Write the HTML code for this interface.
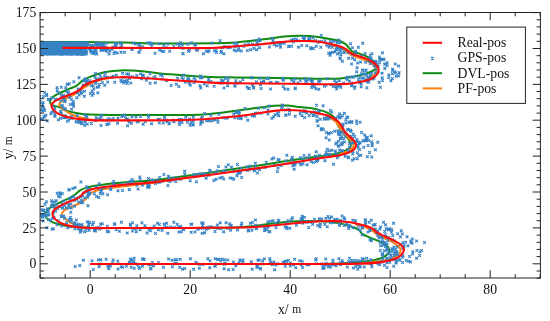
<!DOCTYPE html>
<html><head><meta charset="utf-8"><title>Trajectory</title>
<style>
html,body{margin:0;padding:0;background:#fff}
svg{display:block}
text{font-family:"Liberation Serif",serif;font-size:13.7px;fill:#111}
</style></head><body>
<svg width="550" height="321" viewBox="0 0 550 321">
<rect width="550" height="321" fill="#fff"/>
<clipPath id="c"><rect x="40.1" y="12.5" width="500.29999999999995" height="265.5"/></clipPath>
<g clip-path="url(#c)" fill="none" stroke-linejoin="round" stroke-linecap="butt">
<path d="M41.0 42.0C48.8 42.0 74.0 41.9 88.0 42.0C102.0 42.1 113.0 42.4 125.0 42.6C137.0 42.8 145.7 43.3 160.0 43.4C174.3 43.5 198.3 43.4 211.0 43.2C223.7 43.0 227.5 43.0 236.0 42.4C244.5 41.8 253.3 40.6 261.8 39.6C270.3 38.6 280.6 36.9 287.0 36.3C293.4 35.7 296.2 35.8 300.0 35.8C303.8 35.8 306.7 35.8 310.0 36.0C313.3 36.2 316.7 36.7 320.0 37.2C323.3 37.7 327.0 38.6 330.0 39.1C333.0 39.6 335.5 39.7 338.0 40.5C340.5 41.3 343.3 42.5 345.2 43.8C347.1 45.1 348.0 47.0 349.2 48.2C350.4 49.5 350.8 50.4 352.3 51.3C353.8 52.1 356.0 52.5 358.3 53.3C360.6 54.1 364.0 55.1 366.4 56.3C368.8 57.5 371.0 59.0 372.5 60.4C374.0 61.8 375.0 63.4 375.5 64.8C376.0 66.1 376.2 67.4 375.5 68.5C374.8 69.6 373.4 70.6 371.5 71.5C369.6 72.4 367.3 73.2 364.4 74.1C361.5 74.9 358.0 75.9 354.3 76.6C350.6 77.3 346.1 77.8 342.0 78.2C337.9 78.6 335.3 78.7 330.0 78.8C324.7 78.9 316.7 78.7 310.0 78.6C303.3 78.5 302.3 78.4 290.0 78.2C277.7 78.0 249.2 77.6 236.0 77.4C222.8 77.2 219.5 77.3 211.0 77.0C202.5 76.7 191.8 76.0 185.0 75.5C178.2 75.0 174.2 74.6 170.0 74.3C165.8 74.0 164.2 73.9 160.0 73.4C155.8 72.9 149.5 71.9 144.5 71.4C139.5 70.9 134.1 70.7 130.0 70.5C125.9 70.3 123.5 70.3 120.0 70.5C116.5 70.7 112.3 71.0 108.8 71.5C105.2 72.0 101.7 72.9 98.7 73.7C95.7 74.5 93.3 75.4 90.6 76.6C87.9 77.8 84.9 79.0 82.5 80.6C80.1 82.1 78.4 84.6 76.4 85.9C74.4 87.2 72.8 87.3 70.4 88.3C68.1 89.3 64.8 90.8 62.3 92.0C59.8 93.2 57.1 94.3 55.2 95.4C53.3 96.5 52.0 97.6 51.1 98.8C50.2 100.0 49.8 101.4 50.1 102.5C50.4 103.6 51.3 104.5 53.0 105.3C54.7 106.1 58.0 106.6 60.2 107.5C62.4 108.4 63.6 109.7 66.3 110.6C69.0 111.5 72.4 112.3 76.4 113.0C80.5 113.7 83.3 114.3 90.6 114.6C97.9 114.9 106.8 115.0 120.0 115.0C133.2 115.0 157.0 115.0 170.0 114.9C183.0 114.9 189.1 115.1 198.0 114.7C206.9 114.3 215.1 113.4 223.6 112.4C232.1 111.5 240.5 110.1 249.0 109.0C257.5 107.9 268.2 106.4 274.5 105.8C280.8 105.2 282.8 105.3 287.0 105.5C291.2 105.7 296.2 106.7 300.0 107.1C303.8 107.5 306.7 107.6 310.0 108.1C313.3 108.6 316.9 109.2 320.0 110.1C323.1 110.9 326.1 112.1 328.3 113.2C330.5 114.3 332.0 115.2 333.4 116.6C334.8 117.9 335.5 119.7 336.4 121.3C337.2 122.9 337.3 124.3 338.5 126.3C339.7 128.3 341.8 131.2 343.5 133.4C345.2 135.6 347.4 137.8 348.6 139.5C349.8 141.2 350.3 142.2 350.6 143.5C350.9 144.8 351.1 145.8 350.2 147.0C349.3 148.2 347.8 149.5 345.5 150.6C343.2 151.7 340.6 152.6 336.4 153.6C332.1 154.6 326.1 155.4 320.0 156.3C313.9 157.2 306.7 158.2 300.0 159.1C293.3 160.0 286.4 161.0 280.0 162.0C273.6 163.0 273.3 163.3 261.8 165.0C250.3 166.7 228.0 170.0 211.0 172.4C194.0 174.8 171.1 178.0 160.0 179.4C148.9 180.8 151.2 180.4 144.5 180.9C137.8 181.4 126.3 182.2 120.0 182.7C113.7 183.2 110.7 183.6 106.8 184.1C102.9 184.6 100.1 184.9 96.7 185.5C93.3 186.1 89.3 186.8 86.6 187.6C83.9 188.4 82.4 189.1 80.5 190.2C78.6 191.3 77.1 192.9 75.4 194.2C73.7 195.4 72.6 196.5 70.4 197.7C68.2 198.9 65.0 200.0 62.3 201.3C59.6 202.6 56.6 204.1 54.2 205.4C51.8 206.8 49.6 208.1 48.1 209.4C46.6 210.8 45.4 212.2 45.1 213.5C44.8 214.8 45.1 216.2 46.1 217.5C47.1 218.8 49.1 220.5 51.1 221.6C53.1 222.7 56.0 223.4 58.2 224.0C60.4 224.6 61.3 224.9 64.3 225.4C67.3 225.9 72.0 226.6 76.4 227.0C80.8 227.4 81.7 227.8 90.6 228.0C99.5 228.2 116.8 228.0 130.0 228.0C143.2 228.0 156.7 228.0 170.0 228.0C183.3 228.0 199.0 227.9 210.0 227.8C221.0 227.7 229.5 227.6 236.0 227.4C242.5 227.2 242.6 227.3 249.0 226.6C255.4 225.9 267.7 224.1 274.5 223.3C281.3 222.5 285.3 222.0 290.0 221.6C294.7 221.2 297.6 220.9 302.7 220.9C307.8 220.9 315.1 221.0 320.5 221.3C325.9 221.6 330.9 221.9 335.0 222.5C339.1 223.1 342.0 223.8 345.0 224.6C348.0 225.4 350.8 226.3 353.2 227.2C355.6 228.1 357.8 229.1 359.3 230.2C360.8 231.3 360.6 232.7 362.3 233.9C364.0 235.1 366.5 236.1 369.4 237.3C372.3 238.6 376.6 240.1 379.5 241.4C382.4 242.8 385.0 244.1 386.6 245.4C388.2 246.8 389.0 248.2 389.2 249.5C389.4 250.8 389.1 252.2 388.0 253.5C386.9 254.8 385.0 256.5 382.6 257.6C380.2 258.7 377.1 259.5 373.5 260.2C369.9 260.9 365.7 261.3 361.3 261.8C356.9 262.3 351.4 262.7 347.0 263.0C342.6 263.3 344.5 263.6 335.0 263.8C325.5 264.0 312.5 264.0 290.0 264.0C267.5 264.0 233.3 264.0 200.0 264.0C166.7 264.0 108.3 264.0 90.0 264.0" stroke="#118a11" stroke-width="2"/>
<path d="M330.0 45.0C331.3 45.4 335.5 46.4 338.0 47.3C340.5 48.2 343.2 49.3 345.0 50.3C346.8 51.3 347.5 52.5 349.0 53.5C350.5 54.5 351.8 55.4 354.0 56.3C356.2 57.2 359.4 57.9 362.0 58.9C364.6 59.9 367.4 61.1 369.5 62.3C371.6 63.5 373.4 64.8 374.5 66.0C375.6 67.2 376.2 68.3 376.4 69.5C376.6 70.7 376.2 71.9 375.5 73.0C374.8 74.1 373.6 75.2 372.0 76.3C370.4 77.3 367.0 78.8 366.0 79.3M108.8 78.2C107.1 78.6 101.7 79.6 98.7 80.6C95.7 81.5 93.1 82.7 90.6 83.9C88.1 85.1 86.2 86.2 83.5 87.9C80.8 89.7 77.3 92.7 74.4 94.4C71.5 96.2 68.5 97.2 66.3 98.4C64.1 99.6 62.5 100.5 61.3 101.5C60.1 102.5 59.2 103.5 59.2 104.5C59.2 105.5 59.8 106.2 61.3 107.6C62.8 108.9 65.8 111.1 68.3 112.6C70.8 114.0 73.4 115.2 76.4 116.3C79.5 117.3 83.5 118.2 86.6 118.9C89.7 119.6 93.6 120.0 95.0 120.2M326.0 116.3C327.1 116.8 330.8 118.2 332.5 119.3C334.2 120.3 335.3 121.3 336.5 122.6C337.7 123.9 338.3 125.3 339.5 127.0C340.7 128.7 342.0 131.1 343.5 133.0C345.0 134.9 347.1 136.7 348.6 138.2C350.1 139.7 351.8 141.0 352.6 142.2C353.4 143.4 353.7 144.3 353.6 145.3C353.5 146.3 353.1 147.3 352.0 148.3C350.9 149.3 348.9 150.4 347.0 151.3C345.1 152.2 341.6 153.4 340.5 153.8M160.0 182.2C153.3 182.9 129.9 185.5 120.0 186.7C110.1 187.9 105.3 188.7 100.7 189.6C96.1 190.5 94.6 191.3 92.6 192.2C90.6 193.1 89.8 194.0 88.6 195.2C87.4 196.4 87.0 198.0 85.5 199.3C84.0 200.7 82.0 202.0 79.5 203.3C77.0 204.6 72.9 205.8 70.4 207.0C67.9 208.2 65.7 209.2 64.3 210.4C62.9 211.6 61.9 212.7 61.9 213.9C61.9 215.2 62.9 216.5 64.3 217.9C65.7 219.3 68.0 221.3 70.4 222.6C72.8 223.9 75.5 224.8 78.5 225.6C81.5 226.4 85.0 227.0 88.6 227.4C92.2 227.8 98.1 227.9 100.0 228.0M355.0 224.2C356.7 224.7 362.2 225.9 365.0 227.0C367.8 228.1 370.0 229.2 372.0 230.5C374.0 231.8 375.0 233.2 377.0 234.5C379.0 235.8 381.5 236.8 384.0 238.0C386.5 239.2 389.7 240.5 392.0 241.8C394.3 243.1 396.6 244.5 398.0 245.8C399.4 247.1 400.4 248.3 400.6 249.5C400.9 250.7 400.4 251.8 399.5 253.0C398.6 254.2 396.9 255.7 395.0 256.8C393.1 257.9 390.9 258.8 388.0 259.6C385.1 260.4 381.9 261.0 377.5 261.6C373.1 262.2 364.0 262.8 361.3 263.0" stroke="#ff7f0e" stroke-width="2"/>
<path d="M53.4 42.5l2.7 2.7m0 -2.7l-2.7 2.7M69.1 41.6l2.7 2.7m0 -2.7l-2.7 2.7M65.5 45.0l2.7 2.7m0 -2.7l-2.7 2.7M46.2 46.6l2.7 2.7m0 -2.7l-2.7 2.7M47.2 45.8l2.7 2.7m0 -2.7l-2.7 2.7M48.6 41.8l2.7 2.7m0 -2.7l-2.7 2.7M66.3 50.3l2.7 2.7m0 -2.7l-2.7 2.7M53.1 43.4l2.7 2.7m0 -2.7l-2.7 2.7M77.4 51.7l2.7 2.7m0 -2.7l-2.7 2.7M75.2 45.4l2.7 2.7m0 -2.7l-2.7 2.7M95.1 41.3l2.7 2.7m0 -2.7l-2.7 2.7M89.9 44.1l2.7 2.7m0 -2.7l-2.7 2.7M61.0 42.2l2.7 2.7m0 -2.7l-2.7 2.7M68.2 50.2l2.7 2.7m0 -2.7l-2.7 2.7M65.1 47.5l2.7 2.7m0 -2.7l-2.7 2.7M85.3 45.1l2.7 2.7m0 -2.7l-2.7 2.7M83.9 41.5l2.7 2.7m0 -2.7l-2.7 2.7M62.4 43.2l2.7 2.7m0 -2.7l-2.7 2.7M92.4 45.7l2.7 2.7m0 -2.7l-2.7 2.7M76.3 47.5l2.7 2.7m0 -2.7l-2.7 2.7M85.1 44.2l2.7 2.7m0 -2.7l-2.7 2.7M100.1 48.8l2.7 2.7m0 -2.7l-2.7 2.7M75.9 47.4l2.7 2.7m0 -2.7l-2.7 2.7M91.1 50.9l2.7 2.7m0 -2.7l-2.7 2.7M100.0 44.1l2.7 2.7m0 -2.7l-2.7 2.7M113.8 42.2l2.7 2.7m0 -2.7l-2.7 2.7M89.1 49.5l2.7 2.7m0 -2.7l-2.7 2.7M80.2 46.4l2.7 2.7m0 -2.7l-2.7 2.7M75.2 48.5l2.7 2.7m0 -2.7l-2.7 2.7M107.1 47.4l2.7 2.7m0 -2.7l-2.7 2.7M114.8 44.4l2.7 2.7m0 -2.7l-2.7 2.7M106.8 47.6l2.7 2.7m0 -2.7l-2.7 2.7M104.5 46.0l2.7 2.7m0 -2.7l-2.7 2.7M115.9 51.7l2.7 2.7m0 -2.7l-2.7 2.7M102.4 48.4l2.7 2.7m0 -2.7l-2.7 2.7M84.3 48.9l2.7 2.7m0 -2.7l-2.7 2.7M112.6 52.2l2.7 2.7m0 -2.7l-2.7 2.7M120.3 44.1l2.7 2.7m0 -2.7l-2.7 2.7M103.6 48.5l2.7 2.7m0 -2.7l-2.7 2.7M90.1 46.1l2.7 2.7m0 -2.7l-2.7 2.7M98.9 42.2l2.7 2.7m0 -2.7l-2.7 2.7M94.1 49.6l2.7 2.7m0 -2.7l-2.7 2.7M99.7 43.7l2.7 2.7m0 -2.7l-2.7 2.7M113.7 50.8l2.7 2.7m0 -2.7l-2.7 2.7M100.0 46.0l2.7 2.7m0 -2.7l-2.7 2.7M123.1 51.0l2.7 2.7m0 -2.7l-2.7 2.7M137.5 50.8l2.7 2.7m0 -2.7l-2.7 2.7M113.7 45.6l2.7 2.7m0 -2.7l-2.7 2.7M119.7 51.0l2.7 2.7m0 -2.7l-2.7 2.7M148.6 42.6l2.7 2.7m0 -2.7l-2.7 2.7M114.2 43.5l2.7 2.7m0 -2.7l-2.7 2.7M119.2 46.4l2.7 2.7m0 -2.7l-2.7 2.7M137.4 43.9l2.7 2.7m0 -2.7l-2.7 2.7M111.6 45.7l2.7 2.7m0 -2.7l-2.7 2.7M130.2 47.4l2.7 2.7m0 -2.7l-2.7 2.7M158.4 48.8l2.7 2.7m0 -2.7l-2.7 2.7M139.1 48.0l2.7 2.7m0 -2.7l-2.7 2.7M148.7 41.5l2.7 2.7m0 -2.7l-2.7 2.7M161.1 49.8l2.7 2.7m0 -2.7l-2.7 2.7M162.5 50.1l2.7 2.7m0 -2.7l-2.7 2.7M141.3 45.5l2.7 2.7m0 -2.7l-2.7 2.7M131.1 48.2l2.7 2.7m0 -2.7l-2.7 2.7M131.8 41.7l2.7 2.7m0 -2.7l-2.7 2.7M138.3 42.8l2.7 2.7m0 -2.7l-2.7 2.7M146.6 41.5l2.7 2.7m0 -2.7l-2.7 2.7M134.1 42.6l2.7 2.7m0 -2.7l-2.7 2.7M138.6 45.1l2.7 2.7m0 -2.7l-2.7 2.7M137.8 50.9l2.7 2.7m0 -2.7l-2.7 2.7M166.2 42.6l2.7 2.7m0 -2.7l-2.7 2.7M150.3 44.9l2.7 2.7m0 -2.7l-2.7 2.7M157.8 42.3l2.7 2.7m0 -2.7l-2.7 2.7M181.8 52.3l2.7 2.7m0 -2.7l-2.7 2.7M165.0 46.5l2.7 2.7m0 -2.7l-2.7 2.7M151.0 42.1l2.7 2.7m0 -2.7l-2.7 2.7M162.3 44.0l2.7 2.7m0 -2.7l-2.7 2.7M186.4 42.8l2.7 2.7m0 -2.7l-2.7 2.7M153.7 51.9l2.7 2.7m0 -2.7l-2.7 2.7M175.9 42.7l2.7 2.7m0 -2.7l-2.7 2.7M179.3 41.3l2.7 2.7m0 -2.7l-2.7 2.7M181.4 52.2l2.7 2.7m0 -2.7l-2.7 2.7M196.2 49.0l2.7 2.7m0 -2.7l-2.7 2.7M172.5 45.2l2.7 2.7m0 -2.7l-2.7 2.7M168.3 49.9l2.7 2.7m0 -2.7l-2.7 2.7M187.1 50.0l2.7 2.7m0 -2.7l-2.7 2.7M180.9 43.6l2.7 2.7m0 -2.7l-2.7 2.7M202.1 52.3l2.7 2.7m0 -2.7l-2.7 2.7M206.6 50.3l2.7 2.7m0 -2.7l-2.7 2.7M207.7 49.5l2.7 2.7m0 -2.7l-2.7 2.7M181.6 47.0l2.7 2.7m0 -2.7l-2.7 2.7M189.9 41.4l2.7 2.7m0 -2.7l-2.7 2.7M177.9 44.2l2.7 2.7m0 -2.7l-2.7 2.7M188.1 49.0l2.7 2.7m0 -2.7l-2.7 2.7M221.2 46.2l2.7 2.7m0 -2.7l-2.7 2.7M222.6 52.3l2.7 2.7m0 -2.7l-2.7 2.7M223.4 45.2l2.7 2.7m0 -2.7l-2.7 2.7M193.3 43.6l2.7 2.7m0 -2.7l-2.7 2.7M194.3 43.3l2.7 2.7m0 -2.7l-2.7 2.7M215.1 51.2l2.7 2.7m0 -2.7l-2.7 2.7M226.5 46.4l2.7 2.7m0 -2.7l-2.7 2.7M220.0 50.0l2.7 2.7m0 -2.7l-2.7 2.7M195.0 48.4l2.7 2.7m0 -2.7l-2.7 2.7M234.4 49.7l2.7 2.7m0 -2.7l-2.7 2.7M228.8 46.1l2.7 2.7m0 -2.7l-2.7 2.7M205.0 49.6l2.7 2.7m0 -2.7l-2.7 2.7M213.0 49.7l2.7 2.7m0 -2.7l-2.7 2.7M242.4 44.9l2.7 2.7m0 -2.7l-2.7 2.7M219.6 51.1l2.7 2.7m0 -2.7l-2.7 2.7M234.9 42.0l2.7 2.7m0 -2.7l-2.7 2.7M210.7 41.6l2.7 2.7m0 -2.7l-2.7 2.7M246.0 49.1l2.7 2.7m0 -2.7l-2.7 2.7M214.7 49.1l2.7 2.7m0 -2.7l-2.7 2.7M252.5 47.0l2.7 2.7m0 -2.7l-2.7 2.7M227.1 45.6l2.7 2.7m0 -2.7l-2.7 2.7M218.7 39.4l2.7 2.7m0 -2.7l-2.7 2.7M258.2 46.5l2.7 2.7m0 -2.7l-2.7 2.7M239.9 49.6l2.7 2.7m0 -2.7l-2.7 2.7M237.1 48.8l2.7 2.7m0 -2.7l-2.7 2.7M255.7 41.1l2.7 2.7m0 -2.7l-2.7 2.7M233.0 41.9l2.7 2.7m0 -2.7l-2.7 2.7M233.7 45.2l2.7 2.7m0 -2.7l-2.7 2.7M235.8 43.1l2.7 2.7m0 -2.7l-2.7 2.7M232.8 48.6l2.7 2.7m0 -2.7l-2.7 2.7M243.8 43.3l2.7 2.7m0 -2.7l-2.7 2.7M255.2 48.3l2.7 2.7m0 -2.7l-2.7 2.7M249.3 48.3l2.7 2.7m0 -2.7l-2.7 2.7M255.4 43.7l2.7 2.7m0 -2.7l-2.7 2.7M257.7 37.7l2.7 2.7m0 -2.7l-2.7 2.7M255.3 39.4l2.7 2.7m0 -2.7l-2.7 2.7M237.4 46.4l2.7 2.7m0 -2.7l-2.7 2.7M247.3 42.4l2.7 2.7m0 -2.7l-2.7 2.7M272.9 43.2l2.7 2.7m0 -2.7l-2.7 2.7M256.7 42.7l2.7 2.7m0 -2.7l-2.7 2.7M268.1 45.6l2.7 2.7m0 -2.7l-2.7 2.7M251.1 42.7l2.7 2.7m0 -2.7l-2.7 2.7M258.7 39.3l2.7 2.7m0 -2.7l-2.7 2.7M283.1 41.8l2.7 2.7m0 -2.7l-2.7 2.7M275.2 44.5l2.7 2.7m0 -2.7l-2.7 2.7M292.0 40.7l2.7 2.7m0 -2.7l-2.7 2.7M280.1 41.3l2.7 2.7m0 -2.7l-2.7 2.7M278.3 43.2l2.7 2.7m0 -2.7l-2.7 2.7M276.9 41.2l2.7 2.7m0 -2.7l-2.7 2.7M279.2 45.8l2.7 2.7m0 -2.7l-2.7 2.7M290.2 44.9l2.7 2.7m0 -2.7l-2.7 2.7M303.1 37.6l2.7 2.7m0 -2.7l-2.7 2.7M287.3 45.3l2.7 2.7m0 -2.7l-2.7 2.7M301.5 35.9l2.7 2.7m0 -2.7l-2.7 2.7M271.6 39.3l2.7 2.7m0 -2.7l-2.7 2.7M271.0 36.9l2.7 2.7m0 -2.7l-2.7 2.7M273.0 41.7l2.7 2.7m0 -2.7l-2.7 2.7M305.5 44.3l2.7 2.7m0 -2.7l-2.7 2.7M279.5 42.2l2.7 2.7m0 -2.7l-2.7 2.7M303.4 35.6l2.7 2.7m0 -2.7l-2.7 2.7M314.9 45.0l2.7 2.7m0 -2.7l-2.7 2.7M287.6 44.8l2.7 2.7m0 -2.7l-2.7 2.7M297.3 39.5l2.7 2.7m0 -2.7l-2.7 2.7M325.2 43.4l2.7 2.7m0 -2.7l-2.7 2.7M289.9 38.8l2.7 2.7m0 -2.7l-2.7 2.7M307.3 37.8l2.7 2.7m0 -2.7l-2.7 2.7M295.0 37.6l2.7 2.7m0 -2.7l-2.7 2.7M319.9 34.2l2.7 2.7m0 -2.7l-2.7 2.7M314.1 39.1l2.7 2.7m0 -2.7l-2.7 2.7M292.1 38.0l2.7 2.7m0 -2.7l-2.7 2.7M320.3 40.2l2.7 2.7m0 -2.7l-2.7 2.7M297.2 45.8l2.7 2.7m0 -2.7l-2.7 2.7M331.0 45.9l2.7 2.7m0 -2.7l-2.7 2.7M302.4 38.0l2.7 2.7m0 -2.7l-2.7 2.7M300.4 44.1l2.7 2.7m0 -2.7l-2.7 2.7M311.4 36.7l2.7 2.7m0 -2.7l-2.7 2.7M319.4 45.9l2.7 2.7m0 -2.7l-2.7 2.7M337.6 38.6l2.7 2.7m0 -2.7l-2.7 2.7M309.3 46.4l2.7 2.7m0 -2.7l-2.7 2.7M328.7 44.1l2.7 2.7m0 -2.7l-2.7 2.7M308.2 36.8l2.7 2.7m0 -2.7l-2.7 2.7M335.8 41.3l2.7 2.7m0 -2.7l-2.7 2.7M309.4 47.4l2.7 2.7m0 -2.7l-2.7 2.7M335.4 46.1l2.7 2.7m0 -2.7l-2.7 2.7M311.9 46.9l2.7 2.7m0 -2.7l-2.7 2.7M312.0 47.2l2.7 2.7m0 -2.7l-2.7 2.7M329.9 41.3l2.7 2.7m0 -2.7l-2.7 2.7M335.4 48.4l2.7 2.7m0 -2.7l-2.7 2.7M323.7 39.4l2.7 2.7m0 -2.7l-2.7 2.7M335.9 40.9l2.7 2.7m0 -2.7l-2.7 2.7M318.3 40.2l2.7 2.7m0 -2.7l-2.7 2.7M316.5 40.9l2.7 2.7m0 -2.7l-2.7 2.7M328.8 42.3l2.7 2.7m0 -2.7l-2.7 2.7M349.2 42.4l2.7 2.7m0 -2.7l-2.7 2.7M338.6 41.4l2.7 2.7m0 -2.7l-2.7 2.7M332.6 39.8l2.7 2.7m0 -2.7l-2.7 2.7M329.1 40.1l2.7 2.7m0 -2.7l-2.7 2.7M351.1 46.5l2.7 2.7m0 -2.7l-2.7 2.7M327.9 45.9l2.7 2.7m0 -2.7l-2.7 2.7M361.4 42.0l2.7 2.7m0 -2.7l-2.7 2.7M357.0 46.0l2.7 2.7m0 -2.7l-2.7 2.7M343.3 50.9l2.7 2.7m0 -2.7l-2.7 2.7M339.4 47.5l2.7 2.7m0 -2.7l-2.7 2.7M352.9 53.3l2.7 2.7m0 -2.7l-2.7 2.7M337.9 51.7l2.7 2.7m0 -2.7l-2.7 2.7M354.3 49.8l2.7 2.7m0 -2.7l-2.7 2.7M341.4 46.8l2.7 2.7m0 -2.7l-2.7 2.7M326.4 44.6l2.7 2.7m0 -2.7l-2.7 2.7M327.4 52.0l2.7 2.7m0 -2.7l-2.7 2.7M335.9 45.7l2.7 2.7m0 -2.7l-2.7 2.7M328.7 53.8l2.7 2.7m0 -2.7l-2.7 2.7M363.7 52.2l2.7 2.7m0 -2.7l-2.7 2.7M338.3 47.6l2.7 2.7m0 -2.7l-2.7 2.7M339.2 50.4l2.7 2.7m0 -2.7l-2.7 2.7M333.7 50.5l2.7 2.7m0 -2.7l-2.7 2.7M338.8 56.7l2.7 2.7m0 -2.7l-2.7 2.7M370.5 52.3l2.7 2.7m0 -2.7l-2.7 2.7M338.9 57.3l2.7 2.7m0 -2.7l-2.7 2.7M342.5 50.8l2.7 2.7m0 -2.7l-2.7 2.7M329.5 51.3l2.7 2.7m0 -2.7l-2.7 2.7M350.9 53.0l2.7 2.7m0 -2.7l-2.7 2.7M339.5 53.3l2.7 2.7m0 -2.7l-2.7 2.7M331.5 50.8l2.7 2.7m0 -2.7l-2.7 2.7M336.0 52.6l2.7 2.7m0 -2.7l-2.7 2.7M334.6 48.5l2.7 2.7m0 -2.7l-2.7 2.7M346.9 51.2l2.7 2.7m0 -2.7l-2.7 2.7M360.2 54.8l2.7 2.7m0 -2.7l-2.7 2.7M368.3 56.5l2.7 2.7m0 -2.7l-2.7 2.7M367.6 59.3l2.7 2.7m0 -2.7l-2.7 2.7M354.1 53.2l2.7 2.7m0 -2.7l-2.7 2.7M381.1 51.5l2.7 2.7m0 -2.7l-2.7 2.7M370.1 57.3l2.7 2.7m0 -2.7l-2.7 2.7M341.0 59.8l2.7 2.7m0 -2.7l-2.7 2.7M379.1 57.7l2.7 2.7m0 -2.7l-2.7 2.7M373.0 60.2l2.7 2.7m0 -2.7l-2.7 2.7M347.3 57.0l2.7 2.7m0 -2.7l-2.7 2.7M364.2 60.9l2.7 2.7m0 -2.7l-2.7 2.7M378.2 61.2l2.7 2.7m0 -2.7l-2.7 2.7M368.9 62.1l2.7 2.7m0 -2.7l-2.7 2.7M374.1 60.2l2.7 2.7m0 -2.7l-2.7 2.7M354.6 52.8l2.7 2.7m0 -2.7l-2.7 2.7M351.1 56.9l2.7 2.7m0 -2.7l-2.7 2.7M350.3 62.6l2.7 2.7m0 -2.7l-2.7 2.7M371.0 60.5l2.7 2.7m0 -2.7l-2.7 2.7M374.4 61.3l2.7 2.7m0 -2.7l-2.7 2.7M369.0 53.9l2.7 2.7m0 -2.7l-2.7 2.7M383.3 62.9l2.7 2.7m0 -2.7l-2.7 2.7M370.6 60.6l2.7 2.7m0 -2.7l-2.7 2.7M378.1 55.6l2.7 2.7m0 -2.7l-2.7 2.7M381.9 57.9l2.7 2.7m0 -2.7l-2.7 2.7M353.3 58.5l2.7 2.7m0 -2.7l-2.7 2.7M382.7 58.2l2.7 2.7m0 -2.7l-2.7 2.7M383.5 67.2l2.7 2.7m0 -2.7l-2.7 2.7M373.2 60.8l2.7 2.7m0 -2.7l-2.7 2.7M372.8 64.5l2.7 2.7m0 -2.7l-2.7 2.7M385.9 64.2l2.7 2.7m0 -2.7l-2.7 2.7M380.7 58.2l2.7 2.7m0 -2.7l-2.7 2.7M359.3 60.6l2.7 2.7m0 -2.7l-2.7 2.7M385.8 61.4l2.7 2.7m0 -2.7l-2.7 2.7M378.4 58.5l2.7 2.7m0 -2.7l-2.7 2.7M356.3 61.7l2.7 2.7m0 -2.7l-2.7 2.7M383.5 67.0l2.7 2.7m0 -2.7l-2.7 2.7M383.8 62.7l2.7 2.7m0 -2.7l-2.7 2.7M376.9 64.9l2.7 2.7m0 -2.7l-2.7 2.7M375.0 61.4l2.7 2.7m0 -2.7l-2.7 2.7M393.9 62.6l2.7 2.7m0 -2.7l-2.7 2.7M397.7 71.3l2.7 2.7m0 -2.7l-2.7 2.7M355.7 66.3l2.7 2.7m0 -2.7l-2.7 2.7M391.0 72.4l2.7 2.7m0 -2.7l-2.7 2.7M374.9 64.8l2.7 2.7m0 -2.7l-2.7 2.7M364.4 72.8l2.7 2.7m0 -2.7l-2.7 2.7M364.5 69.1l2.7 2.7m0 -2.7l-2.7 2.7M361.5 68.6l2.7 2.7m0 -2.7l-2.7 2.7M397.2 64.6l2.7 2.7m0 -2.7l-2.7 2.7M391.4 69.1l2.7 2.7m0 -2.7l-2.7 2.7M394.3 71.7l2.7 2.7m0 -2.7l-2.7 2.7M365.4 74.4l2.7 2.7m0 -2.7l-2.7 2.7M376.6 64.5l2.7 2.7m0 -2.7l-2.7 2.7M355.3 70.3l2.7 2.7m0 -2.7l-2.7 2.7M374.8 68.5l2.7 2.7m0 -2.7l-2.7 2.7M361.1 69.2l2.7 2.7m0 -2.7l-2.7 2.7M368.6 75.3l2.7 2.7m0 -2.7l-2.7 2.7M354.6 74.6l2.7 2.7m0 -2.7l-2.7 2.7M391.2 67.8l2.7 2.7m0 -2.7l-2.7 2.7M394.9 74.8l2.7 2.7m0 -2.7l-2.7 2.7M393.5 70.4l2.7 2.7m0 -2.7l-2.7 2.7M370.1 71.8l2.7 2.7m0 -2.7l-2.7 2.7M397.3 74.4l2.7 2.7m0 -2.7l-2.7 2.7M369.0 72.8l2.7 2.7m0 -2.7l-2.7 2.7M364.9 68.9l2.7 2.7m0 -2.7l-2.7 2.7M357.1 78.1l2.7 2.7m0 -2.7l-2.7 2.7M364.7 79.7l2.7 2.7m0 -2.7l-2.7 2.7M362.7 72.4l2.7 2.7m0 -2.7l-2.7 2.7M373.9 71.7l2.7 2.7m0 -2.7l-2.7 2.7M367.4 80.9l2.7 2.7m0 -2.7l-2.7 2.7M389.6 79.5l2.7 2.7m0 -2.7l-2.7 2.7M377.9 81.0l2.7 2.7m0 -2.7l-2.7 2.7M391.0 77.2l2.7 2.7m0 -2.7l-2.7 2.7M380.7 71.8l2.7 2.7m0 -2.7l-2.7 2.7M380.9 76.5l2.7 2.7m0 -2.7l-2.7 2.7M381.2 79.1l2.7 2.7m0 -2.7l-2.7 2.7M360.0 72.5l2.7 2.7m0 -2.7l-2.7 2.7M387.5 73.7l2.7 2.7m0 -2.7l-2.7 2.7M366.8 76.5l2.7 2.7m0 -2.7l-2.7 2.7M358.3 81.3l2.7 2.7m0 -2.7l-2.7 2.7M387.4 76.1l2.7 2.7m0 -2.7l-2.7 2.7M372.8 76.7l2.7 2.7m0 -2.7l-2.7 2.7M367.6 78.0l2.7 2.7m0 -2.7l-2.7 2.7M349.4 75.6l2.7 2.7m0 -2.7l-2.7 2.7M350.1 84.5l2.7 2.7m0 -2.7l-2.7 2.7M362.3 76.7l2.7 2.7m0 -2.7l-2.7 2.7M379.1 85.9l2.7 2.7m0 -2.7l-2.7 2.7M358.4 76.2l2.7 2.7m0 -2.7l-2.7 2.7M345.8 75.9l2.7 2.7m0 -2.7l-2.7 2.7M351.7 76.0l2.7 2.7m0 -2.7l-2.7 2.7M345.9 78.2l2.7 2.7m0 -2.7l-2.7 2.7M359.8 85.5l2.7 2.7m0 -2.7l-2.7 2.7M366.4 80.3l2.7 2.7m0 -2.7l-2.7 2.7M350.4 81.7l2.7 2.7m0 -2.7l-2.7 2.7M348.1 79.7l2.7 2.7m0 -2.7l-2.7 2.7M333.1 79.2l2.7 2.7m0 -2.7l-2.7 2.7M371.7 77.6l2.7 2.7m0 -2.7l-2.7 2.7M350.6 83.5l2.7 2.7m0 -2.7l-2.7 2.7M365.2 78.8l2.7 2.7m0 -2.7l-2.7 2.7M338.0 79.3l2.7 2.7m0 -2.7l-2.7 2.7M342.4 81.7l2.7 2.7m0 -2.7l-2.7 2.7M365.5 86.4l2.7 2.7m0 -2.7l-2.7 2.7M361.3 77.0l2.7 2.7m0 -2.7l-2.7 2.7M323.1 85.0l2.7 2.7m0 -2.7l-2.7 2.7M359.9 82.3l2.7 2.7m0 -2.7l-2.7 2.7M345.1 77.0l2.7 2.7m0 -2.7l-2.7 2.7M335.3 87.7l2.7 2.7m0 -2.7l-2.7 2.7M353.2 86.9l2.7 2.7m0 -2.7l-2.7 2.7M358.5 80.0l2.7 2.7m0 -2.7l-2.7 2.7M319.3 78.9l2.7 2.7m0 -2.7l-2.7 2.7M336.4 85.0l2.7 2.7m0 -2.7l-2.7 2.7M353.6 85.5l2.7 2.7m0 -2.7l-2.7 2.7M339.5 86.0l2.7 2.7m0 -2.7l-2.7 2.7M329.9 83.5l2.7 2.7m0 -2.7l-2.7 2.7M310.3 86.2l2.7 2.7m0 -2.7l-2.7 2.7M317.5 87.8l2.7 2.7m0 -2.7l-2.7 2.7M335.1 80.7l2.7 2.7m0 -2.7l-2.7 2.7M311.0 80.1l2.7 2.7m0 -2.7l-2.7 2.7M332.1 85.2l2.7 2.7m0 -2.7l-2.7 2.7M307.7 78.0l2.7 2.7m0 -2.7l-2.7 2.7M324.6 83.9l2.7 2.7m0 -2.7l-2.7 2.7M317.3 79.7l2.7 2.7m0 -2.7l-2.7 2.7M325.9 77.3l2.7 2.7m0 -2.7l-2.7 2.7M311.3 82.4l2.7 2.7m0 -2.7l-2.7 2.7M338.7 84.5l2.7 2.7m0 -2.7l-2.7 2.7M334.6 82.5l2.7 2.7m0 -2.7l-2.7 2.7M304.3 79.9l2.7 2.7m0 -2.7l-2.7 2.7M334.3 85.1l2.7 2.7m0 -2.7l-2.7 2.7M303.6 77.2l2.7 2.7m0 -2.7l-2.7 2.7M311.0 84.7l2.7 2.7m0 -2.7l-2.7 2.7M305.6 79.9l2.7 2.7m0 -2.7l-2.7 2.7M314.5 87.5l2.7 2.7m0 -2.7l-2.7 2.7M294.0 77.3l2.7 2.7m0 -2.7l-2.7 2.7M296.7 81.7l2.7 2.7m0 -2.7l-2.7 2.7M310.7 79.1l2.7 2.7m0 -2.7l-2.7 2.7M313.2 85.2l2.7 2.7m0 -2.7l-2.7 2.7M298.9 79.1l2.7 2.7m0 -2.7l-2.7 2.7M317.9 80.3l2.7 2.7m0 -2.7l-2.7 2.7M309.8 79.3l2.7 2.7m0 -2.7l-2.7 2.7M281.9 85.4l2.7 2.7m0 -2.7l-2.7 2.7M283.4 87.6l2.7 2.7m0 -2.7l-2.7 2.7M290.4 78.8l2.7 2.7m0 -2.7l-2.7 2.7M276.5 81.4l2.7 2.7m0 -2.7l-2.7 2.7M293.8 87.5l2.7 2.7m0 -2.7l-2.7 2.7M268.7 81.1l2.7 2.7m0 -2.7l-2.7 2.7M269.2 87.7l2.7 2.7m0 -2.7l-2.7 2.7M266.1 77.1l2.7 2.7m0 -2.7l-2.7 2.7M259.9 81.0l2.7 2.7m0 -2.7l-2.7 2.7M294.0 86.7l2.7 2.7m0 -2.7l-2.7 2.7M286.7 88.0l2.7 2.7m0 -2.7l-2.7 2.7M292.6 80.3l2.7 2.7m0 -2.7l-2.7 2.7M259.8 87.2l2.7 2.7m0 -2.7l-2.7 2.7M281.5 76.8l2.7 2.7m0 -2.7l-2.7 2.7M275.0 80.8l2.7 2.7m0 -2.7l-2.7 2.7M262.2 80.3l2.7 2.7m0 -2.7l-2.7 2.7M250.1 76.5l2.7 2.7m0 -2.7l-2.7 2.7M255.0 80.5l2.7 2.7m0 -2.7l-2.7 2.7M281.7 77.8l2.7 2.7m0 -2.7l-2.7 2.7M282.1 78.8l2.7 2.7m0 -2.7l-2.7 2.7M252.3 85.8l2.7 2.7m0 -2.7l-2.7 2.7M269.7 81.4l2.7 2.7m0 -2.7l-2.7 2.7M235.7 81.8l2.7 2.7m0 -2.7l-2.7 2.7M246.9 86.9l2.7 2.7m0 -2.7l-2.7 2.7M239.0 80.6l2.7 2.7m0 -2.7l-2.7 2.7M267.1 76.7l2.7 2.7m0 -2.7l-2.7 2.7M245.7 85.7l2.7 2.7m0 -2.7l-2.7 2.7M258.5 76.8l2.7 2.7m0 -2.7l-2.7 2.7M223.6 77.0l2.7 2.7m0 -2.7l-2.7 2.7M262.5 79.3l2.7 2.7m0 -2.7l-2.7 2.7M252.3 86.6l2.7 2.7m0 -2.7l-2.7 2.7M234.4 79.4l2.7 2.7m0 -2.7l-2.7 2.7M259.1 83.3l2.7 2.7m0 -2.7l-2.7 2.7M226.3 84.5l2.7 2.7m0 -2.7l-2.7 2.7M226.6 79.4l2.7 2.7m0 -2.7l-2.7 2.7M212.8 84.9l2.7 2.7m0 -2.7l-2.7 2.7M251.1 83.5l2.7 2.7m0 -2.7l-2.7 2.7M250.5 76.4l2.7 2.7m0 -2.7l-2.7 2.7M217.6 81.6l2.7 2.7m0 -2.7l-2.7 2.7M247.9 87.1l2.7 2.7m0 -2.7l-2.7 2.7M220.0 78.9l2.7 2.7m0 -2.7l-2.7 2.7M220.7 81.7l2.7 2.7m0 -2.7l-2.7 2.7M241.4 78.1l2.7 2.7m0 -2.7l-2.7 2.7M233.7 84.4l2.7 2.7m0 -2.7l-2.7 2.7M233.5 84.8l2.7 2.7m0 -2.7l-2.7 2.7M222.0 79.6l2.7 2.7m0 -2.7l-2.7 2.7M207.3 79.9l2.7 2.7m0 -2.7l-2.7 2.7M226.6 76.6l2.7 2.7m0 -2.7l-2.7 2.7M198.7 84.3l2.7 2.7m0 -2.7l-2.7 2.7M199.8 76.3l2.7 2.7m0 -2.7l-2.7 2.7M187.9 81.8l2.7 2.7m0 -2.7l-2.7 2.7M199.4 86.6l2.7 2.7m0 -2.7l-2.7 2.7M222.6 86.7l2.7 2.7m0 -2.7l-2.7 2.7M192.7 76.1l2.7 2.7m0 -2.7l-2.7 2.7M183.9 80.8l2.7 2.7m0 -2.7l-2.7 2.7M209.6 80.1l2.7 2.7m0 -2.7l-2.7 2.7M187.3 79.7l2.7 2.7m0 -2.7l-2.7 2.7M202.9 82.6l2.7 2.7m0 -2.7l-2.7 2.7M205.8 84.4l2.7 2.7m0 -2.7l-2.7 2.7M200.8 75.9l2.7 2.7m0 -2.7l-2.7 2.7M207.3 77.8l2.7 2.7m0 -2.7l-2.7 2.7M193.9 78.7l2.7 2.7m0 -2.7l-2.7 2.7M199.0 76.5l2.7 2.7m0 -2.7l-2.7 2.7M176.2 76.9l2.7 2.7m0 -2.7l-2.7 2.7M169.8 84.1l2.7 2.7m0 -2.7l-2.7 2.7M187.5 77.7l2.7 2.7m0 -2.7l-2.7 2.7M177.5 85.2l2.7 2.7m0 -2.7l-2.7 2.7M180.6 76.3l2.7 2.7m0 -2.7l-2.7 2.7M192.9 81.1l2.7 2.7m0 -2.7l-2.7 2.7M199.3 74.7l2.7 2.7m0 -2.7l-2.7 2.7M175.0 82.8l2.7 2.7m0 -2.7l-2.7 2.7M188.9 83.8l2.7 2.7m0 -2.7l-2.7 2.7M152.3 76.5l2.7 2.7m0 -2.7l-2.7 2.7M153.8 75.2l2.7 2.7m0 -2.7l-2.7 2.7M190.1 79.7l2.7 2.7m0 -2.7l-2.7 2.7M186.4 77.1l2.7 2.7m0 -2.7l-2.7 2.7M182.0 77.9l2.7 2.7m0 -2.7l-2.7 2.7M154.0 81.5l2.7 2.7m0 -2.7l-2.7 2.7M182.4 73.6l2.7 2.7m0 -2.7l-2.7 2.7M165.1 79.4l2.7 2.7m0 -2.7l-2.7 2.7M146.8 76.4l2.7 2.7m0 -2.7l-2.7 2.7M142.2 74.4l2.7 2.7m0 -2.7l-2.7 2.7M145.1 78.8l2.7 2.7m0 -2.7l-2.7 2.7M161.0 74.2l2.7 2.7m0 -2.7l-2.7 2.7M131.3 75.5l2.7 2.7m0 -2.7l-2.7 2.7M159.0 73.7l2.7 2.7m0 -2.7l-2.7 2.7M141.3 73.8l2.7 2.7m0 -2.7l-2.7 2.7M160.9 77.7l2.7 2.7m0 -2.7l-2.7 2.7M127.1 72.5l2.7 2.7m0 -2.7l-2.7 2.7M140.1 77.5l2.7 2.7m0 -2.7l-2.7 2.7M148.5 72.1l2.7 2.7m0 -2.7l-2.7 2.7M126.1 79.0l2.7 2.7m0 -2.7l-2.7 2.7M135.4 74.1l2.7 2.7m0 -2.7l-2.7 2.7M129.4 81.7l2.7 2.7m0 -2.7l-2.7 2.7M128.1 77.2l2.7 2.7m0 -2.7l-2.7 2.7M127.8 75.4l2.7 2.7m0 -2.7l-2.7 2.7M148.7 81.9l2.7 2.7m0 -2.7l-2.7 2.7M125.3 72.7l2.7 2.7m0 -2.7l-2.7 2.7M139.3 72.7l2.7 2.7m0 -2.7l-2.7 2.7M106.3 80.6l2.7 2.7m0 -2.7l-2.7 2.7M123.0 79.6l2.7 2.7m0 -2.7l-2.7 2.7M120.3 80.3l2.7 2.7m0 -2.7l-2.7 2.7M121.3 72.0l2.7 2.7m0 -2.7l-2.7 2.7M99.8 76.4l2.7 2.7m0 -2.7l-2.7 2.7M125.4 80.5l2.7 2.7m0 -2.7l-2.7 2.7M99.5 77.3l2.7 2.7m0 -2.7l-2.7 2.7M110.2 76.0l2.7 2.7m0 -2.7l-2.7 2.7M98.6 73.5l2.7 2.7m0 -2.7l-2.7 2.7M113.4 80.9l2.7 2.7m0 -2.7l-2.7 2.7M93.6 76.0l2.7 2.7m0 -2.7l-2.7 2.7M122.5 81.6l2.7 2.7m0 -2.7l-2.7 2.7M94.1 72.2l2.7 2.7m0 -2.7l-2.7 2.7M125.9 82.1l2.7 2.7m0 -2.7l-2.7 2.7M104.0 71.7l2.7 2.7m0 -2.7l-2.7 2.7M122.0 75.8l2.7 2.7m0 -2.7l-2.7 2.7M119.5 78.8l2.7 2.7m0 -2.7l-2.7 2.7M115.0 73.8l2.7 2.7m0 -2.7l-2.7 2.7M111.8 74.8l2.7 2.7m0 -2.7l-2.7 2.7M94.1 82.2l2.7 2.7m0 -2.7l-2.7 2.7M111.8 74.8l2.7 2.7m0 -2.7l-2.7 2.7M84.1 77.5l2.7 2.7m0 -2.7l-2.7 2.7M96.4 77.5l2.7 2.7m0 -2.7l-2.7 2.7M77.7 76.3l2.7 2.7m0 -2.7l-2.7 2.7M103.4 84.0l2.7 2.7m0 -2.7l-2.7 2.7M72.5 80.4l2.7 2.7m0 -2.7l-2.7 2.7M103.3 74.6l2.7 2.7m0 -2.7l-2.7 2.7M106.0 75.8l2.7 2.7m0 -2.7l-2.7 2.7M94.8 81.0l2.7 2.7m0 -2.7l-2.7 2.7M95.2 78.5l2.7 2.7m0 -2.7l-2.7 2.7M85.4 82.0l2.7 2.7m0 -2.7l-2.7 2.7M85.2 83.0l2.7 2.7m0 -2.7l-2.7 2.7M85.4 80.8l2.7 2.7m0 -2.7l-2.7 2.7M66.0 83.2l2.7 2.7m0 -2.7l-2.7 2.7M86.1 79.0l2.7 2.7m0 -2.7l-2.7 2.7M97.4 85.6l2.7 2.7m0 -2.7l-2.7 2.7M83.6 78.9l2.7 2.7m0 -2.7l-2.7 2.7M83.5 78.5l2.7 2.7m0 -2.7l-2.7 2.7M68.0 82.4l2.7 2.7m0 -2.7l-2.7 2.7M65.7 82.9l2.7 2.7m0 -2.7l-2.7 2.7M83.8 78.5l2.7 2.7m0 -2.7l-2.7 2.7M88.7 79.4l2.7 2.7m0 -2.7l-2.7 2.7M92.4 87.7l2.7 2.7m0 -2.7l-2.7 2.7M82.4 79.6l2.7 2.7m0 -2.7l-2.7 2.7M81.6 83.7l2.7 2.7m0 -2.7l-2.7 2.7M101.0 81.2l2.7 2.7m0 -2.7l-2.7 2.7M96.5 91.5l2.7 2.7m0 -2.7l-2.7 2.7M90.8 89.6l2.7 2.7m0 -2.7l-2.7 2.7M66.7 91.9l2.7 2.7m0 -2.7l-2.7 2.7M79.5 92.1l2.7 2.7m0 -2.7l-2.7 2.7M98.0 83.2l2.7 2.7m0 -2.7l-2.7 2.7M92.0 92.4l2.7 2.7m0 -2.7l-2.7 2.7M60.0 85.9l2.7 2.7m0 -2.7l-2.7 2.7M90.1 84.1l2.7 2.7m0 -2.7l-2.7 2.7M95.8 85.8l2.7 2.7m0 -2.7l-2.7 2.7M91.8 84.6l2.7 2.7m0 -2.7l-2.7 2.7M77.8 93.7l2.7 2.7m0 -2.7l-2.7 2.7M64.4 86.5l2.7 2.7m0 -2.7l-2.7 2.7M76.8 87.6l2.7 2.7m0 -2.7l-2.7 2.7M55.7 86.3l2.7 2.7m0 -2.7l-2.7 2.7M60.7 95.2l2.7 2.7m0 -2.7l-2.7 2.7M83.0 95.0l2.7 2.7m0 -2.7l-2.7 2.7M60.0 94.0l2.7 2.7m0 -2.7l-2.7 2.7M57.1 91.4l2.7 2.7m0 -2.7l-2.7 2.7M79.4 89.7l2.7 2.7m0 -2.7l-2.7 2.7M89.1 92.2l2.7 2.7m0 -2.7l-2.7 2.7M75.5 96.3l2.7 2.7m0 -2.7l-2.7 2.7M53.8 97.9l2.7 2.7m0 -2.7l-2.7 2.7M76.1 91.3l2.7 2.7m0 -2.7l-2.7 2.7M83.1 90.0l2.7 2.7m0 -2.7l-2.7 2.7M90.8 93.9l2.7 2.7m0 -2.7l-2.7 2.7M62.2 96.4l2.7 2.7m0 -2.7l-2.7 2.7M65.4 89.8l2.7 2.7m0 -2.7l-2.7 2.7M77.8 88.6l2.7 2.7m0 -2.7l-2.7 2.7M80.3 91.3l2.7 2.7m0 -2.7l-2.7 2.7M71.9 99.9l2.7 2.7m0 -2.7l-2.7 2.7M68.7 96.5l2.7 2.7m0 -2.7l-2.7 2.7M55.9 89.3l2.7 2.7m0 -2.7l-2.7 2.7M43.2 91.1l2.7 2.7m0 -2.7l-2.7 2.7M68.0 94.7l2.7 2.7m0 -2.7l-2.7 2.7M63.0 100.2l2.7 2.7m0 -2.7l-2.7 2.7M45.4 92.9l2.7 2.7m0 -2.7l-2.7 2.7M67.4 90.9l2.7 2.7m0 -2.7l-2.7 2.7M38.4 94.9l2.7 2.7m0 -2.7l-2.7 2.7M42.1 95.2l2.7 2.7m0 -2.7l-2.7 2.7M46.9 98.0l2.7 2.7m0 -2.7l-2.7 2.7M62.2 94.0l2.7 2.7m0 -2.7l-2.7 2.7M63.0 97.4l2.7 2.7m0 -2.7l-2.7 2.7M41.1 102.9l2.7 2.7m0 -2.7l-2.7 2.7M45.2 94.2l2.7 2.7m0 -2.7l-2.7 2.7M38.1 100.1l2.7 2.7m0 -2.7l-2.7 2.7M71.6 102.1l2.7 2.7m0 -2.7l-2.7 2.7M50.4 96.5l2.7 2.7m0 -2.7l-2.7 2.7M56.4 98.1l2.7 2.7m0 -2.7l-2.7 2.7M59.6 99.4l2.7 2.7m0 -2.7l-2.7 2.7M72.0 103.1l2.7 2.7m0 -2.7l-2.7 2.7M41.3 105.3l2.7 2.7m0 -2.7l-2.7 2.7M47.6 98.3l2.7 2.7m0 -2.7l-2.7 2.7M70.2 98.2l2.7 2.7m0 -2.7l-2.7 2.7M50.7 104.5l2.7 2.7m0 -2.7l-2.7 2.7M64.0 99.6l2.7 2.7m0 -2.7l-2.7 2.7M41.8 101.3l2.7 2.7m0 -2.7l-2.7 2.7M62.6 106.8l2.7 2.7m0 -2.7l-2.7 2.7M61.0 104.5l2.7 2.7m0 -2.7l-2.7 2.7M60.9 104.8l2.7 2.7m0 -2.7l-2.7 2.7M38.4 101.2l2.7 2.7m0 -2.7l-2.7 2.7M38.7 100.6l2.7 2.7m0 -2.7l-2.7 2.7M43.4 109.2l2.7 2.7m0 -2.7l-2.7 2.7M59.4 110.5l2.7 2.7m0 -2.7l-2.7 2.7M60.3 104.3l2.7 2.7m0 -2.7l-2.7 2.7M53.6 106.7l2.7 2.7m0 -2.7l-2.7 2.7M64.1 107.9l2.7 2.7m0 -2.7l-2.7 2.7M41.4 109.7l2.7 2.7m0 -2.7l-2.7 2.7M72.3 105.0l2.7 2.7m0 -2.7l-2.7 2.7M68.9 103.1l2.7 2.7m0 -2.7l-2.7 2.7M41.8 105.8l2.7 2.7m0 -2.7l-2.7 2.7M63.5 114.4l2.7 2.7m0 -2.7l-2.7 2.7M64.1 107.7l2.7 2.7m0 -2.7l-2.7 2.7M70.2 107.9l2.7 2.7m0 -2.7l-2.7 2.7M42.5 115.0l2.7 2.7m0 -2.7l-2.7 2.7M60.0 112.7l2.7 2.7m0 -2.7l-2.7 2.7M62.0 116.4l2.7 2.7m0 -2.7l-2.7 2.7M53.7 115.0l2.7 2.7m0 -2.7l-2.7 2.7M64.3 115.6l2.7 2.7m0 -2.7l-2.7 2.7M53.4 114.5l2.7 2.7m0 -2.7l-2.7 2.7M59.6 109.9l2.7 2.7m0 -2.7l-2.7 2.7M44.5 113.8l2.7 2.7m0 -2.7l-2.7 2.7M39.3 117.5l2.7 2.7m0 -2.7l-2.7 2.7M42.6 107.5l2.7 2.7m0 -2.7l-2.7 2.7M41.7 118.2l2.7 2.7m0 -2.7l-2.7 2.7M52.9 109.5l2.7 2.7m0 -2.7l-2.7 2.7M39.4 108.5l2.7 2.7m0 -2.7l-2.7 2.7M69.5 115.6l2.7 2.7m0 -2.7l-2.7 2.7M70.5 117.1l2.7 2.7m0 -2.7l-2.7 2.7M43.2 115.6l2.7 2.7m0 -2.7l-2.7 2.7M57.1 118.5l2.7 2.7m0 -2.7l-2.7 2.7M78.1 119.6l2.7 2.7m0 -2.7l-2.7 2.7M45.9 119.6l2.7 2.7m0 -2.7l-2.7 2.7M84.1 120.7l2.7 2.7m0 -2.7l-2.7 2.7M49.5 112.5l2.7 2.7m0 -2.7l-2.7 2.7M50.6 110.7l2.7 2.7m0 -2.7l-2.7 2.7M83.5 119.7l2.7 2.7m0 -2.7l-2.7 2.7M75.0 120.1l2.7 2.7m0 -2.7l-2.7 2.7M75.9 114.1l2.7 2.7m0 -2.7l-2.7 2.7M53.5 112.1l2.7 2.7m0 -2.7l-2.7 2.7M83.5 113.5l2.7 2.7m0 -2.7l-2.7 2.7M65.3 116.2l2.7 2.7m0 -2.7l-2.7 2.7M53.4 114.5l2.7 2.7m0 -2.7l-2.7 2.7M66.1 119.9l2.7 2.7m0 -2.7l-2.7 2.7M70.4 115.5l2.7 2.7m0 -2.7l-2.7 2.7M97.8 117.7l2.7 2.7m0 -2.7l-2.7 2.7M94.0 119.2l2.7 2.7m0 -2.7l-2.7 2.7M59.1 117.0l2.7 2.7m0 -2.7l-2.7 2.7M78.1 121.3l2.7 2.7m0 -2.7l-2.7 2.7M74.9 120.6l2.7 2.7m0 -2.7l-2.7 2.7M84.7 115.1l2.7 2.7m0 -2.7l-2.7 2.7M100.5 113.8l2.7 2.7m0 -2.7l-2.7 2.7M99.4 114.8l2.7 2.7m0 -2.7l-2.7 2.7M64.3 115.2l2.7 2.7m0 -2.7l-2.7 2.7M99.7 124.2l2.7 2.7m0 -2.7l-2.7 2.7M67.4 118.6l2.7 2.7m0 -2.7l-2.7 2.7M90.0 122.2l2.7 2.7m0 -2.7l-2.7 2.7M77.6 118.8l2.7 2.7m0 -2.7l-2.7 2.7M85.9 122.7l2.7 2.7m0 -2.7l-2.7 2.7M83.3 124.0l2.7 2.7m0 -2.7l-2.7 2.7M85.5 115.6l2.7 2.7m0 -2.7l-2.7 2.7M105.1 118.9l2.7 2.7m0 -2.7l-2.7 2.7M80.4 120.5l2.7 2.7m0 -2.7l-2.7 2.7M80.5 122.3l2.7 2.7m0 -2.7l-2.7 2.7M107.6 122.3l2.7 2.7m0 -2.7l-2.7 2.7M107.3 117.3l2.7 2.7m0 -2.7l-2.7 2.7M98.8 117.8l2.7 2.7m0 -2.7l-2.7 2.7M121.9 114.3l2.7 2.7m0 -2.7l-2.7 2.7M123.3 113.6l2.7 2.7m0 -2.7l-2.7 2.7M94.9 116.3l2.7 2.7m0 -2.7l-2.7 2.7M127.1 119.0l2.7 2.7m0 -2.7l-2.7 2.7M105.9 123.4l2.7 2.7m0 -2.7l-2.7 2.7M101.3 118.6l2.7 2.7m0 -2.7l-2.7 2.7M116.2 122.0l2.7 2.7m0 -2.7l-2.7 2.7M127.8 120.7l2.7 2.7m0 -2.7l-2.7 2.7M112.0 117.1l2.7 2.7m0 -2.7l-2.7 2.7M105.5 123.0l2.7 2.7m0 -2.7l-2.7 2.7M130.0 121.8l2.7 2.7m0 -2.7l-2.7 2.7M108.4 118.3l2.7 2.7m0 -2.7l-2.7 2.7M137.3 120.0l2.7 2.7m0 -2.7l-2.7 2.7M111.2 118.6l2.7 2.7m0 -2.7l-2.7 2.7M147.2 116.0l2.7 2.7m0 -2.7l-2.7 2.7M116.6 116.8l2.7 2.7m0 -2.7l-2.7 2.7M141.8 123.0l2.7 2.7m0 -2.7l-2.7 2.7M120.3 115.1l2.7 2.7m0 -2.7l-2.7 2.7M124.4 117.0l2.7 2.7m0 -2.7l-2.7 2.7M139.2 115.1l2.7 2.7m0 -2.7l-2.7 2.7M130.7 115.5l2.7 2.7m0 -2.7l-2.7 2.7M161.9 121.6l2.7 2.7m0 -2.7l-2.7 2.7M126.2 124.3l2.7 2.7m0 -2.7l-2.7 2.7M126.2 117.7l2.7 2.7m0 -2.7l-2.7 2.7M167.8 122.4l2.7 2.7m0 -2.7l-2.7 2.7M156.8 118.3l2.7 2.7m0 -2.7l-2.7 2.7M135.9 120.6l2.7 2.7m0 -2.7l-2.7 2.7M134.7 115.6l2.7 2.7m0 -2.7l-2.7 2.7M147.0 113.6l2.7 2.7m0 -2.7l-2.7 2.7M150.2 122.3l2.7 2.7m0 -2.7l-2.7 2.7M165.7 119.0l2.7 2.7m0 -2.7l-2.7 2.7M163.0 118.5l2.7 2.7m0 -2.7l-2.7 2.7M144.0 120.1l2.7 2.7m0 -2.7l-2.7 2.7M158.0 121.7l2.7 2.7m0 -2.7l-2.7 2.7M180.1 118.1l2.7 2.7m0 -2.7l-2.7 2.7M167.7 121.8l2.7 2.7m0 -2.7l-2.7 2.7M163.2 115.8l2.7 2.7m0 -2.7l-2.7 2.7M178.4 123.2l2.7 2.7m0 -2.7l-2.7 2.7M180.7 121.1l2.7 2.7m0 -2.7l-2.7 2.7M186.1 120.9l2.7 2.7m0 -2.7l-2.7 2.7M178.6 118.3l2.7 2.7m0 -2.7l-2.7 2.7M165.8 120.3l2.7 2.7m0 -2.7l-2.7 2.7M158.0 117.8l2.7 2.7m0 -2.7l-2.7 2.7M189.7 121.2l2.7 2.7m0 -2.7l-2.7 2.7M184.4 115.8l2.7 2.7m0 -2.7l-2.7 2.7M178.2 118.2l2.7 2.7m0 -2.7l-2.7 2.7M188.2 117.6l2.7 2.7m0 -2.7l-2.7 2.7M191.9 123.6l2.7 2.7m0 -2.7l-2.7 2.7M172.7 120.3l2.7 2.7m0 -2.7l-2.7 2.7M200.1 117.2l2.7 2.7m0 -2.7l-2.7 2.7M188.7 123.9l2.7 2.7m0 -2.7l-2.7 2.7M171.2 118.9l2.7 2.7m0 -2.7l-2.7 2.7M177.9 121.6l2.7 2.7m0 -2.7l-2.7 2.7M213.4 118.5l2.7 2.7m0 -2.7l-2.7 2.7M179.1 119.0l2.7 2.7m0 -2.7l-2.7 2.7M199.8 120.6l2.7 2.7m0 -2.7l-2.7 2.7M199.8 119.6l2.7 2.7m0 -2.7l-2.7 2.7M216.4 118.1l2.7 2.7m0 -2.7l-2.7 2.7M199.3 122.9l2.7 2.7m0 -2.7l-2.7 2.7M191.8 119.8l2.7 2.7m0 -2.7l-2.7 2.7M201.1 120.6l2.7 2.7m0 -2.7l-2.7 2.7M191.7 122.9l2.7 2.7m0 -2.7l-2.7 2.7M203.3 112.2l2.7 2.7m0 -2.7l-2.7 2.7M200.9 116.0l2.7 2.7m0 -2.7l-2.7 2.7M192.0 116.0l2.7 2.7m0 -2.7l-2.7 2.7M211.2 119.1l2.7 2.7m0 -2.7l-2.7 2.7M209.4 114.0l2.7 2.7m0 -2.7l-2.7 2.7M205.1 119.4l2.7 2.7m0 -2.7l-2.7 2.7M239.1 116.7l2.7 2.7m0 -2.7l-2.7 2.7M208.6 119.7l2.7 2.7m0 -2.7l-2.7 2.7M217.5 112.8l2.7 2.7m0 -2.7l-2.7 2.7M207.2 119.2l2.7 2.7m0 -2.7l-2.7 2.7M239.7 117.3l2.7 2.7m0 -2.7l-2.7 2.7M226.0 116.4l2.7 2.7m0 -2.7l-2.7 2.7M216.6 120.9l2.7 2.7m0 -2.7l-2.7 2.7M224.7 116.9l2.7 2.7m0 -2.7l-2.7 2.7M246.4 118.8l2.7 2.7m0 -2.7l-2.7 2.7M232.3 112.6l2.7 2.7m0 -2.7l-2.7 2.7M237.1 110.6l2.7 2.7m0 -2.7l-2.7 2.7M252.2 112.9l2.7 2.7m0 -2.7l-2.7 2.7M254.2 111.8l2.7 2.7m0 -2.7l-2.7 2.7M234.6 111.5l2.7 2.7m0 -2.7l-2.7 2.7M238.0 110.5l2.7 2.7m0 -2.7l-2.7 2.7M222.0 116.4l2.7 2.7m0 -2.7l-2.7 2.7M235.5 110.7l2.7 2.7m0 -2.7l-2.7 2.7M237.7 113.3l2.7 2.7m0 -2.7l-2.7 2.7M244.5 114.9l2.7 2.7m0 -2.7l-2.7 2.7M255.9 111.6l2.7 2.7m0 -2.7l-2.7 2.7M270.5 116.9l2.7 2.7m0 -2.7l-2.7 2.7M233.5 116.4l2.7 2.7m0 -2.7l-2.7 2.7M272.2 115.7l2.7 2.7m0 -2.7l-2.7 2.7M239.9 116.0l2.7 2.7m0 -2.7l-2.7 2.7M262.9 106.4l2.7 2.7m0 -2.7l-2.7 2.7M237.0 117.0l2.7 2.7m0 -2.7l-2.7 2.7M266.7 108.7l2.7 2.7m0 -2.7l-2.7 2.7M243.7 107.2l2.7 2.7m0 -2.7l-2.7 2.7M250.8 114.3l2.7 2.7m0 -2.7l-2.7 2.7M257.1 106.9l2.7 2.7m0 -2.7l-2.7 2.7M284.2 113.9l2.7 2.7m0 -2.7l-2.7 2.7M253.1 114.8l2.7 2.7m0 -2.7l-2.7 2.7M273.6 113.4l2.7 2.7m0 -2.7l-2.7 2.7M277.4 114.5l2.7 2.7m0 -2.7l-2.7 2.7M284.8 113.6l2.7 2.7m0 -2.7l-2.7 2.7M259.8 111.8l2.7 2.7m0 -2.7l-2.7 2.7M276.3 112.1l2.7 2.7m0 -2.7l-2.7 2.7M273.8 113.6l2.7 2.7m0 -2.7l-2.7 2.7M280.3 106.3l2.7 2.7m0 -2.7l-2.7 2.7M267.9 104.7l2.7 2.7m0 -2.7l-2.7 2.7M280.9 103.7l2.7 2.7m0 -2.7l-2.7 2.7M281.3 104.6l2.7 2.7m0 -2.7l-2.7 2.7M284.1 108.6l2.7 2.7m0 -2.7l-2.7 2.7M288.0 112.8l2.7 2.7m0 -2.7l-2.7 2.7M266.6 112.6l2.7 2.7m0 -2.7l-2.7 2.7M288.2 109.4l2.7 2.7m0 -2.7l-2.7 2.7M298.9 112.7l2.7 2.7m0 -2.7l-2.7 2.7M287.5 107.9l2.7 2.7m0 -2.7l-2.7 2.7M315.2 104.0l2.7 2.7m0 -2.7l-2.7 2.7M302.3 110.5l2.7 2.7m0 -2.7l-2.7 2.7M277.3 110.4l2.7 2.7m0 -2.7l-2.7 2.7M307.8 114.2l2.7 2.7m0 -2.7l-2.7 2.7M293.9 114.9l2.7 2.7m0 -2.7l-2.7 2.7M303.3 109.4l2.7 2.7m0 -2.7l-2.7 2.7M321.8 104.4l2.7 2.7m0 -2.7l-2.7 2.7M315.8 111.4l2.7 2.7m0 -2.7l-2.7 2.7M300.6 114.3l2.7 2.7m0 -2.7l-2.7 2.7M303.3 110.1l2.7 2.7m0 -2.7l-2.7 2.7M311.8 113.8l2.7 2.7m0 -2.7l-2.7 2.7M299.0 110.2l2.7 2.7m0 -2.7l-2.7 2.7M309.8 111.9l2.7 2.7m0 -2.7l-2.7 2.7M329.1 109.2l2.7 2.7m0 -2.7l-2.7 2.7M330.2 110.7l2.7 2.7m0 -2.7l-2.7 2.7M317.4 109.5l2.7 2.7m0 -2.7l-2.7 2.7M318.9 117.9l2.7 2.7m0 -2.7l-2.7 2.7M326.4 116.0l2.7 2.7m0 -2.7l-2.7 2.7M313.0 110.7l2.7 2.7m0 -2.7l-2.7 2.7M312.9 114.1l2.7 2.7m0 -2.7l-2.7 2.7M328.6 116.6l2.7 2.7m0 -2.7l-2.7 2.7M303.2 116.1l2.7 2.7m0 -2.7l-2.7 2.7M341.2 114.2l2.7 2.7m0 -2.7l-2.7 2.7M305.3 111.6l2.7 2.7m0 -2.7l-2.7 2.7M304.5 110.7l2.7 2.7m0 -2.7l-2.7 2.7M345.5 115.7l2.7 2.7m0 -2.7l-2.7 2.7M334.6 118.0l2.7 2.7m0 -2.7l-2.7 2.7M346.4 116.2l2.7 2.7m0 -2.7l-2.7 2.7M334.1 116.7l2.7 2.7m0 -2.7l-2.7 2.7M338.3 116.6l2.7 2.7m0 -2.7l-2.7 2.7M338.2 112.5l2.7 2.7m0 -2.7l-2.7 2.7M338.2 115.6l2.7 2.7m0 -2.7l-2.7 2.7M343.0 111.8l2.7 2.7m0 -2.7l-2.7 2.7M318.0 111.3l2.7 2.7m0 -2.7l-2.7 2.7M344.6 121.7l2.7 2.7m0 -2.7l-2.7 2.7M339.9 115.7l2.7 2.7m0 -2.7l-2.7 2.7M347.7 120.8l2.7 2.7m0 -2.7l-2.7 2.7M336.7 115.1l2.7 2.7m0 -2.7l-2.7 2.7M325.8 117.3l2.7 2.7m0 -2.7l-2.7 2.7M326.9 117.7l2.7 2.7m0 -2.7l-2.7 2.7M341.5 123.8l2.7 2.7m0 -2.7l-2.7 2.7M316.1 119.9l2.7 2.7m0 -2.7l-2.7 2.7M315.8 115.1l2.7 2.7m0 -2.7l-2.7 2.7M350.1 120.7l2.7 2.7m0 -2.7l-2.7 2.7M355.2 119.6l2.7 2.7m0 -2.7l-2.7 2.7M315.6 119.1l2.7 2.7m0 -2.7l-2.7 2.7M341.4 125.8l2.7 2.7m0 -2.7l-2.7 2.7M358.8 120.9l2.7 2.7m0 -2.7l-2.7 2.7M334.1 117.0l2.7 2.7m0 -2.7l-2.7 2.7M344.5 118.4l2.7 2.7m0 -2.7l-2.7 2.7M323.1 116.6l2.7 2.7m0 -2.7l-2.7 2.7M316.7 124.5l2.7 2.7m0 -2.7l-2.7 2.7M322.1 128.1l2.7 2.7m0 -2.7l-2.7 2.7M320.8 127.3l2.7 2.7m0 -2.7l-2.7 2.7M322.9 117.9l2.7 2.7m0 -2.7l-2.7 2.7M349.0 120.7l2.7 2.7m0 -2.7l-2.7 2.7M349.9 120.6l2.7 2.7m0 -2.7l-2.7 2.7M320.0 127.6l2.7 2.7m0 -2.7l-2.7 2.7M349.4 128.8l2.7 2.7m0 -2.7l-2.7 2.7M350.4 120.4l2.7 2.7m0 -2.7l-2.7 2.7M346.2 127.9l2.7 2.7m0 -2.7l-2.7 2.7M339.0 130.7l2.7 2.7m0 -2.7l-2.7 2.7M330.0 131.4l2.7 2.7m0 -2.7l-2.7 2.7M350.6 120.8l2.7 2.7m0 -2.7l-2.7 2.7M319.9 128.4l2.7 2.7m0 -2.7l-2.7 2.7M355.4 122.2l2.7 2.7m0 -2.7l-2.7 2.7M333.3 130.0l2.7 2.7m0 -2.7l-2.7 2.7M327.1 131.8l2.7 2.7m0 -2.7l-2.7 2.7M341.4 122.9l2.7 2.7m0 -2.7l-2.7 2.7M336.6 129.5l2.7 2.7m0 -2.7l-2.7 2.7M339.9 131.0l2.7 2.7m0 -2.7l-2.7 2.7M327.2 132.7l2.7 2.7m0 -2.7l-2.7 2.7M337.0 131.2l2.7 2.7m0 -2.7l-2.7 2.7M349.0 128.9l2.7 2.7m0 -2.7l-2.7 2.7M338.5 133.5l2.7 2.7m0 -2.7l-2.7 2.7M363.3 133.7l2.7 2.7m0 -2.7l-2.7 2.7M346.9 128.4l2.7 2.7m0 -2.7l-2.7 2.7M324.8 136.5l2.7 2.7m0 -2.7l-2.7 2.7M353.3 135.1l2.7 2.7m0 -2.7l-2.7 2.7M337.2 132.8l2.7 2.7m0 -2.7l-2.7 2.7M366.1 135.9l2.7 2.7m0 -2.7l-2.7 2.7M349.8 130.2l2.7 2.7m0 -2.7l-2.7 2.7M342.5 137.1l2.7 2.7m0 -2.7l-2.7 2.7M340.5 135.0l2.7 2.7m0 -2.7l-2.7 2.7M350.9 138.0l2.7 2.7m0 -2.7l-2.7 2.7M360.2 131.2l2.7 2.7m0 -2.7l-2.7 2.7M325.0 131.2l2.7 2.7m0 -2.7l-2.7 2.7M344.1 135.4l2.7 2.7m0 -2.7l-2.7 2.7M361.7 139.1l2.7 2.7m0 -2.7l-2.7 2.7M327.9 138.7l2.7 2.7m0 -2.7l-2.7 2.7M362.2 139.6l2.7 2.7m0 -2.7l-2.7 2.7M351.9 133.0l2.7 2.7m0 -2.7l-2.7 2.7M364.5 139.3l2.7 2.7m0 -2.7l-2.7 2.7M357.6 141.0l2.7 2.7m0 -2.7l-2.7 2.7M343.0 131.7l2.7 2.7m0 -2.7l-2.7 2.7M352.5 140.4l2.7 2.7m0 -2.7l-2.7 2.7M337.2 140.0l2.7 2.7m0 -2.7l-2.7 2.7M369.9 134.5l2.7 2.7m0 -2.7l-2.7 2.7M355.8 139.8l2.7 2.7m0 -2.7l-2.7 2.7M350.0 134.8l2.7 2.7m0 -2.7l-2.7 2.7M341.0 141.3l2.7 2.7m0 -2.7l-2.7 2.7M365.0 138.3l2.7 2.7m0 -2.7l-2.7 2.7M334.4 142.7l2.7 2.7m0 -2.7l-2.7 2.7M364.7 136.3l2.7 2.7m0 -2.7l-2.7 2.7M356.6 144.3l2.7 2.7m0 -2.7l-2.7 2.7M370.3 140.4l2.7 2.7m0 -2.7l-2.7 2.7M352.5 141.4l2.7 2.7m0 -2.7l-2.7 2.7M340.0 137.2l2.7 2.7m0 -2.7l-2.7 2.7M339.9 143.4l2.7 2.7m0 -2.7l-2.7 2.7M348.1 142.1l2.7 2.7m0 -2.7l-2.7 2.7M350.0 141.9l2.7 2.7m0 -2.7l-2.7 2.7M339.0 136.8l2.7 2.7m0 -2.7l-2.7 2.7M376.4 141.0l2.7 2.7m0 -2.7l-2.7 2.7M337.3 144.3l2.7 2.7m0 -2.7l-2.7 2.7M367.3 139.2l2.7 2.7m0 -2.7l-2.7 2.7M358.9 141.7l2.7 2.7m0 -2.7l-2.7 2.7M355.5 138.1l2.7 2.7m0 -2.7l-2.7 2.7M334.1 149.7l2.7 2.7m0 -2.7l-2.7 2.7M370.7 144.3l2.7 2.7m0 -2.7l-2.7 2.7M357.4 142.1l2.7 2.7m0 -2.7l-2.7 2.7M366.7 144.2l2.7 2.7m0 -2.7l-2.7 2.7M374.0 148.5l2.7 2.7m0 -2.7l-2.7 2.7M368.2 151.2l2.7 2.7m0 -2.7l-2.7 2.7M343.2 140.7l2.7 2.7m0 -2.7l-2.7 2.7M340.7 142.8l2.7 2.7m0 -2.7l-2.7 2.7M335.4 141.5l2.7 2.7m0 -2.7l-2.7 2.7M356.0 151.3l2.7 2.7m0 -2.7l-2.7 2.7M351.3 152.6l2.7 2.7m0 -2.7l-2.7 2.7M371.0 142.6l2.7 2.7m0 -2.7l-2.7 2.7M356.9 146.9l2.7 2.7m0 -2.7l-2.7 2.7M335.4 153.7l2.7 2.7m0 -2.7l-2.7 2.7M341.2 149.3l2.7 2.7m0 -2.7l-2.7 2.7M357.5 154.2l2.7 2.7m0 -2.7l-2.7 2.7M358.3 148.1l2.7 2.7m0 -2.7l-2.7 2.7M348.2 145.6l2.7 2.7m0 -2.7l-2.7 2.7M370.4 155.6l2.7 2.7m0 -2.7l-2.7 2.7M337.0 145.0l2.7 2.7m0 -2.7l-2.7 2.7M338.2 148.7l2.7 2.7m0 -2.7l-2.7 2.7M366.0 155.4l2.7 2.7m0 -2.7l-2.7 2.7M362.4 145.9l2.7 2.7m0 -2.7l-2.7 2.7M359.5 153.8l2.7 2.7m0 -2.7l-2.7 2.7M352.6 157.3l2.7 2.7m0 -2.7l-2.7 2.7M325.9 147.9l2.7 2.7m0 -2.7l-2.7 2.7M355.9 157.3l2.7 2.7m0 -2.7l-2.7 2.7M351.7 150.1l2.7 2.7m0 -2.7l-2.7 2.7M347.1 155.6l2.7 2.7m0 -2.7l-2.7 2.7M324.9 150.9l2.7 2.7m0 -2.7l-2.7 2.7M330.7 148.8l2.7 2.7m0 -2.7l-2.7 2.7M339.7 149.5l2.7 2.7m0 -2.7l-2.7 2.7M328.1 149.4l2.7 2.7m0 -2.7l-2.7 2.7M346.5 148.2l2.7 2.7m0 -2.7l-2.7 2.7M347.3 150.4l2.7 2.7m0 -2.7l-2.7 2.7M316.4 159.0l2.7 2.7m0 -2.7l-2.7 2.7M323.6 159.3l2.7 2.7m0 -2.7l-2.7 2.7M351.1 158.9l2.7 2.7m0 -2.7l-2.7 2.7M318.1 154.0l2.7 2.7m0 -2.7l-2.7 2.7M315.2 159.7l2.7 2.7m0 -2.7l-2.7 2.7M347.0 156.4l2.7 2.7m0 -2.7l-2.7 2.7M328.7 153.2l2.7 2.7m0 -2.7l-2.7 2.7M343.9 155.0l2.7 2.7m0 -2.7l-2.7 2.7M334.1 151.3l2.7 2.7m0 -2.7l-2.7 2.7M314.9 150.5l2.7 2.7m0 -2.7l-2.7 2.7M335.9 156.3l2.7 2.7m0 -2.7l-2.7 2.7M309.5 160.2l2.7 2.7m0 -2.7l-2.7 2.7M314.2 155.0l2.7 2.7m0 -2.7l-2.7 2.7M307.9 153.6l2.7 2.7m0 -2.7l-2.7 2.7M337.3 154.4l2.7 2.7m0 -2.7l-2.7 2.7M306.3 156.4l2.7 2.7m0 -2.7l-2.7 2.7M312.1 161.2l2.7 2.7m0 -2.7l-2.7 2.7M301.7 162.3l2.7 2.7m0 -2.7l-2.7 2.7M298.4 161.4l2.7 2.7m0 -2.7l-2.7 2.7M323.8 153.8l2.7 2.7m0 -2.7l-2.7 2.7M313.9 154.9l2.7 2.7m0 -2.7l-2.7 2.7M302.7 154.2l2.7 2.7m0 -2.7l-2.7 2.7M305.8 163.5l2.7 2.7m0 -2.7l-2.7 2.7M332.2 163.0l2.7 2.7m0 -2.7l-2.7 2.7M291.0 156.0l2.7 2.7m0 -2.7l-2.7 2.7M324.5 153.6l2.7 2.7m0 -2.7l-2.7 2.7M315.5 156.6l2.7 2.7m0 -2.7l-2.7 2.7M325.7 153.5l2.7 2.7m0 -2.7l-2.7 2.7M316.5 157.6l2.7 2.7m0 -2.7l-2.7 2.7M285.5 154.0l2.7 2.7m0 -2.7l-2.7 2.7M315.1 160.2l2.7 2.7m0 -2.7l-2.7 2.7M284.8 159.4l2.7 2.7m0 -2.7l-2.7 2.7M314.9 157.2l2.7 2.7m0 -2.7l-2.7 2.7M299.0 156.5l2.7 2.7m0 -2.7l-2.7 2.7M279.8 164.1l2.7 2.7m0 -2.7l-2.7 2.7M302.2 157.6l2.7 2.7m0 -2.7l-2.7 2.7M272.3 156.7l2.7 2.7m0 -2.7l-2.7 2.7M294.6 161.6l2.7 2.7m0 -2.7l-2.7 2.7M277.8 158.6l2.7 2.7m0 -2.7l-2.7 2.7M291.6 164.5l2.7 2.7m0 -2.7l-2.7 2.7M299.4 163.3l2.7 2.7m0 -2.7l-2.7 2.7M270.5 157.7l2.7 2.7m0 -2.7l-2.7 2.7M292.8 161.8l2.7 2.7m0 -2.7l-2.7 2.7M290.3 158.0l2.7 2.7m0 -2.7l-2.7 2.7M293.3 161.4l2.7 2.7m0 -2.7l-2.7 2.7M292.8 167.8l2.7 2.7m0 -2.7l-2.7 2.7M276.6 158.2l2.7 2.7m0 -2.7l-2.7 2.7M293.5 163.7l2.7 2.7m0 -2.7l-2.7 2.7M289.8 161.6l2.7 2.7m0 -2.7l-2.7 2.7M258.3 168.3l2.7 2.7m0 -2.7l-2.7 2.7M264.9 160.9l2.7 2.7m0 -2.7l-2.7 2.7M263.5 166.1l2.7 2.7m0 -2.7l-2.7 2.7M245.5 165.5l2.7 2.7m0 -2.7l-2.7 2.7M263.8 165.6l2.7 2.7m0 -2.7l-2.7 2.7M248.2 168.1l2.7 2.7m0 -2.7l-2.7 2.7M276.0 170.2l2.7 2.7m0 -2.7l-2.7 2.7M252.6 168.7l2.7 2.7m0 -2.7l-2.7 2.7M253.4 169.4l2.7 2.7m0 -2.7l-2.7 2.7M239.3 170.8l2.7 2.7m0 -2.7l-2.7 2.7M276.7 166.7l2.7 2.7m0 -2.7l-2.7 2.7M255.2 167.4l2.7 2.7m0 -2.7l-2.7 2.7M254.0 161.9l2.7 2.7m0 -2.7l-2.7 2.7M272.9 164.2l2.7 2.7m0 -2.7l-2.7 2.7M236.1 163.2l2.7 2.7m0 -2.7l-2.7 2.7M236.6 171.7l2.7 2.7m0 -2.7l-2.7 2.7M226.9 163.4l2.7 2.7m0 -2.7l-2.7 2.7M253.8 164.9l2.7 2.7m0 -2.7l-2.7 2.7M223.9 169.6l2.7 2.7m0 -2.7l-2.7 2.7M245.9 169.1l2.7 2.7m0 -2.7l-2.7 2.7M248.7 164.6l2.7 2.7m0 -2.7l-2.7 2.7M256.1 171.7l2.7 2.7m0 -2.7l-2.7 2.7M217.1 165.2l2.7 2.7m0 -2.7l-2.7 2.7M236.8 169.6l2.7 2.7m0 -2.7l-2.7 2.7M224.6 165.6l2.7 2.7m0 -2.7l-2.7 2.7M230.2 165.8l2.7 2.7m0 -2.7l-2.7 2.7M235.6 174.5l2.7 2.7m0 -2.7l-2.7 2.7M213.2 171.6l2.7 2.7m0 -2.7l-2.7 2.7M239.6 166.9l2.7 2.7m0 -2.7l-2.7 2.7M240.3 176.1l2.7 2.7m0 -2.7l-2.7 2.7M221.0 170.2l2.7 2.7m0 -2.7l-2.7 2.7M238.1 171.8l2.7 2.7m0 -2.7l-2.7 2.7M218.5 176.6l2.7 2.7m0 -2.7l-2.7 2.7M232.5 170.0l2.7 2.7m0 -2.7l-2.7 2.7M208.9 170.0l2.7 2.7m0 -2.7l-2.7 2.7M214.8 177.8l2.7 2.7m0 -2.7l-2.7 2.7M231.0 177.0l2.7 2.7m0 -2.7l-2.7 2.7M228.7 176.6l2.7 2.7m0 -2.7l-2.7 2.7M192.6 173.2l2.7 2.7m0 -2.7l-2.7 2.7M232.4 178.0l2.7 2.7m0 -2.7l-2.7 2.7M198.6 172.5l2.7 2.7m0 -2.7l-2.7 2.7M215.5 171.8l2.7 2.7m0 -2.7l-2.7 2.7M208.4 168.8l2.7 2.7m0 -2.7l-2.7 2.7M201.5 174.1l2.7 2.7m0 -2.7l-2.7 2.7M183.3 169.9l2.7 2.7m0 -2.7l-2.7 2.7M222.3 177.6l2.7 2.7m0 -2.7l-2.7 2.7M220.9 176.0l2.7 2.7m0 -2.7l-2.7 2.7M212.5 179.2l2.7 2.7m0 -2.7l-2.7 2.7M215.8 169.4l2.7 2.7m0 -2.7l-2.7 2.7M202.3 172.5l2.7 2.7m0 -2.7l-2.7 2.7M203.9 172.6l2.7 2.7m0 -2.7l-2.7 2.7M195.1 180.4l2.7 2.7m0 -2.7l-2.7 2.7M195.7 173.1l2.7 2.7m0 -2.7l-2.7 2.7M191.3 175.2l2.7 2.7m0 -2.7l-2.7 2.7M207.4 173.9l2.7 2.7m0 -2.7l-2.7 2.7M179.0 178.0l2.7 2.7m0 -2.7l-2.7 2.7M168.0 177.8l2.7 2.7m0 -2.7l-2.7 2.7M204.8 176.8l2.7 2.7m0 -2.7l-2.7 2.7M171.8 176.7l2.7 2.7m0 -2.7l-2.7 2.7M183.4 173.0l2.7 2.7m0 -2.7l-2.7 2.7M162.6 173.2l2.7 2.7m0 -2.7l-2.7 2.7M167.4 176.7l2.7 2.7m0 -2.7l-2.7 2.7M167.2 174.8l2.7 2.7m0 -2.7l-2.7 2.7M155.7 178.6l2.7 2.7m0 -2.7l-2.7 2.7M188.8 179.4l2.7 2.7m0 -2.7l-2.7 2.7M174.4 180.1l2.7 2.7m0 -2.7l-2.7 2.7M158.2 180.8l2.7 2.7m0 -2.7l-2.7 2.7M167.2 179.3l2.7 2.7m0 -2.7l-2.7 2.7M171.5 178.7l2.7 2.7m0 -2.7l-2.7 2.7M158.2 176.1l2.7 2.7m0 -2.7l-2.7 2.7M152.1 179.5l2.7 2.7m0 -2.7l-2.7 2.7M157.2 180.6l2.7 2.7m0 -2.7l-2.7 2.7M138.9 178.1l2.7 2.7m0 -2.7l-2.7 2.7M176.3 176.8l2.7 2.7m0 -2.7l-2.7 2.7M161.1 180.0l2.7 2.7m0 -2.7l-2.7 2.7M147.6 185.8l2.7 2.7m0 -2.7l-2.7 2.7M146.7 183.5l2.7 2.7m0 -2.7l-2.7 2.7M138.4 175.7l2.7 2.7m0 -2.7l-2.7 2.7M168.8 180.1l2.7 2.7m0 -2.7l-2.7 2.7M131.7 179.7l2.7 2.7m0 -2.7l-2.7 2.7M146.6 183.9l2.7 2.7m0 -2.7l-2.7 2.7M130.6 178.2l2.7 2.7m0 -2.7l-2.7 2.7M166.5 184.2l2.7 2.7m0 -2.7l-2.7 2.7M128.9 179.8l2.7 2.7m0 -2.7l-2.7 2.7M135.6 183.9l2.7 2.7m0 -2.7l-2.7 2.7M146.1 186.0l2.7 2.7m0 -2.7l-2.7 2.7M154.0 182.2l2.7 2.7m0 -2.7l-2.7 2.7M147.9 185.0l2.7 2.7m0 -2.7l-2.7 2.7M147.5 182.1l2.7 2.7m0 -2.7l-2.7 2.7M147.3 184.8l2.7 2.7m0 -2.7l-2.7 2.7M150.4 178.4l2.7 2.7m0 -2.7l-2.7 2.7M147.1 177.1l2.7 2.7m0 -2.7l-2.7 2.7M141.1 183.8l2.7 2.7m0 -2.7l-2.7 2.7M128.0 188.3l2.7 2.7m0 -2.7l-2.7 2.7M129.9 182.1l2.7 2.7m0 -2.7l-2.7 2.7M136.7 187.6l2.7 2.7m0 -2.7l-2.7 2.7M127.7 182.0l2.7 2.7m0 -2.7l-2.7 2.7M119.7 183.0l2.7 2.7m0 -2.7l-2.7 2.7M129.4 181.3l2.7 2.7m0 -2.7l-2.7 2.7M112.9 184.5l2.7 2.7m0 -2.7l-2.7 2.7M111.8 181.9l2.7 2.7m0 -2.7l-2.7 2.7M127.9 188.1l2.7 2.7m0 -2.7l-2.7 2.7M113.7 183.6l2.7 2.7m0 -2.7l-2.7 2.7M97.9 182.3l2.7 2.7m0 -2.7l-2.7 2.7M94.9 185.5l2.7 2.7m0 -2.7l-2.7 2.7M112.4 180.2l2.7 2.7m0 -2.7l-2.7 2.7M125.6 183.1l2.7 2.7m0 -2.7l-2.7 2.7M121.1 189.2l2.7 2.7m0 -2.7l-2.7 2.7M124.5 182.1l2.7 2.7m0 -2.7l-2.7 2.7M99.4 190.4l2.7 2.7m0 -2.7l-2.7 2.7M79.6 180.7l2.7 2.7m0 -2.7l-2.7 2.7M102.4 186.1l2.7 2.7m0 -2.7l-2.7 2.7M116.6 189.5l2.7 2.7m0 -2.7l-2.7 2.7M98.9 192.2l2.7 2.7m0 -2.7l-2.7 2.7M97.0 186.9l2.7 2.7m0 -2.7l-2.7 2.7M103.5 185.6l2.7 2.7m0 -2.7l-2.7 2.7M88.2 188.1l2.7 2.7m0 -2.7l-2.7 2.7M86.6 192.4l2.7 2.7m0 -2.7l-2.7 2.7M100.0 187.8l2.7 2.7m0 -2.7l-2.7 2.7M73.8 186.2l2.7 2.7m0 -2.7l-2.7 2.7M86.2 188.6l2.7 2.7m0 -2.7l-2.7 2.7M93.0 192.4l2.7 2.7m0 -2.7l-2.7 2.7M109.5 188.1l2.7 2.7m0 -2.7l-2.7 2.7M85.3 190.1l2.7 2.7m0 -2.7l-2.7 2.7M109.1 187.1l2.7 2.7m0 -2.7l-2.7 2.7M87.9 192.7l2.7 2.7m0 -2.7l-2.7 2.7M71.5 187.2l2.7 2.7m0 -2.7l-2.7 2.7M106.2 193.4l2.7 2.7m0 -2.7l-2.7 2.7M85.2 185.5l2.7 2.7m0 -2.7l-2.7 2.7M101.5 192.4l2.7 2.7m0 -2.7l-2.7 2.7M97.5 196.2l2.7 2.7m0 -2.7l-2.7 2.7M100.1 190.0l2.7 2.7m0 -2.7l-2.7 2.7M67.4 188.7l2.7 2.7m0 -2.7l-2.7 2.7M82.7 191.5l2.7 2.7m0 -2.7l-2.7 2.7M68.1 188.1l2.7 2.7m0 -2.7l-2.7 2.7M87.2 193.3l2.7 2.7m0 -2.7l-2.7 2.7M74.7 198.1l2.7 2.7m0 -2.7l-2.7 2.7M86.9 187.6l2.7 2.7m0 -2.7l-2.7 2.7M76.8 196.5l2.7 2.7m0 -2.7l-2.7 2.7M72.0 195.5l2.7 2.7m0 -2.7l-2.7 2.7M58.4 191.5l2.7 2.7m0 -2.7l-2.7 2.7M95.1 195.1l2.7 2.7m0 -2.7l-2.7 2.7M87.1 191.0l2.7 2.7m0 -2.7l-2.7 2.7M79.3 195.4l2.7 2.7m0 -2.7l-2.7 2.7M68.7 196.8l2.7 2.7m0 -2.7l-2.7 2.7M79.9 201.1l2.7 2.7m0 -2.7l-2.7 2.7M81.4 194.7l2.7 2.7m0 -2.7l-2.7 2.7M61.0 192.1l2.7 2.7m0 -2.7l-2.7 2.7M88.6 191.8l2.7 2.7m0 -2.7l-2.7 2.7M59.1 192.8l2.7 2.7m0 -2.7l-2.7 2.7M77.2 200.6l2.7 2.7m0 -2.7l-2.7 2.7M80.6 200.7l2.7 2.7m0 -2.7l-2.7 2.7M55.8 191.9l2.7 2.7m0 -2.7l-2.7 2.7M86.3 195.8l2.7 2.7m0 -2.7l-2.7 2.7M83.2 196.4l2.7 2.7m0 -2.7l-2.7 2.7M58.7 195.6l2.7 2.7m0 -2.7l-2.7 2.7M54.8 203.3l2.7 2.7m0 -2.7l-2.7 2.7M75.2 197.3l2.7 2.7m0 -2.7l-2.7 2.7M68.9 197.9l2.7 2.7m0 -2.7l-2.7 2.7M50.5 204.0l2.7 2.7m0 -2.7l-2.7 2.7M73.3 205.0l2.7 2.7m0 -2.7l-2.7 2.7M66.0 201.5l2.7 2.7m0 -2.7l-2.7 2.7M57.1 195.0l2.7 2.7m0 -2.7l-2.7 2.7M86.6 204.5l2.7 2.7m0 -2.7l-2.7 2.7M58.6 205.4l2.7 2.7m0 -2.7l-2.7 2.7M80.1 198.8l2.7 2.7m0 -2.7l-2.7 2.7M69.9 206.7l2.7 2.7m0 -2.7l-2.7 2.7M64.8 206.7l2.7 2.7m0 -2.7l-2.7 2.7M52.8 200.6l2.7 2.7m0 -2.7l-2.7 2.7M73.0 199.1l2.7 2.7m0 -2.7l-2.7 2.7M54.6 206.7l2.7 2.7m0 -2.7l-2.7 2.7M61.5 206.1l2.7 2.7m0 -2.7l-2.7 2.7M50.2 199.4l2.7 2.7m0 -2.7l-2.7 2.7M54.9 199.7l2.7 2.7m0 -2.7l-2.7 2.7M81.2 201.3l2.7 2.7m0 -2.7l-2.7 2.7M62.5 199.6l2.7 2.7m0 -2.7l-2.7 2.7M60.9 202.9l2.7 2.7m0 -2.7l-2.7 2.7M54.5 199.5l2.7 2.7m0 -2.7l-2.7 2.7M41.6 208.6l2.7 2.7m0 -2.7l-2.7 2.7M51.3 202.1l2.7 2.7m0 -2.7l-2.7 2.7M43.7 202.9l2.7 2.7m0 -2.7l-2.7 2.7M45.1 200.4l2.7 2.7m0 -2.7l-2.7 2.7M63.3 204.2l2.7 2.7m0 -2.7l-2.7 2.7M40.7 208.6l2.7 2.7m0 -2.7l-2.7 2.7M69.5 202.6l2.7 2.7m0 -2.7l-2.7 2.7M51.8 211.1l2.7 2.7m0 -2.7l-2.7 2.7M67.2 203.7l2.7 2.7m0 -2.7l-2.7 2.7M46.9 210.5l2.7 2.7m0 -2.7l-2.7 2.7M47.6 213.5l2.7 2.7m0 -2.7l-2.7 2.7M40.0 213.6l2.7 2.7m0 -2.7l-2.7 2.7M52.8 205.7l2.7 2.7m0 -2.7l-2.7 2.7M50.2 204.9l2.7 2.7m0 -2.7l-2.7 2.7M61.1 206.8l2.7 2.7m0 -2.7l-2.7 2.7M69.4 210.9l2.7 2.7m0 -2.7l-2.7 2.7M45.9 207.3l2.7 2.7m0 -2.7l-2.7 2.7M56.4 207.1l2.7 2.7m0 -2.7l-2.7 2.7M67.9 206.5l2.7 2.7m0 -2.7l-2.7 2.7M51.9 211.7l2.7 2.7m0 -2.7l-2.7 2.7M41.2 214.7l2.7 2.7m0 -2.7l-2.7 2.7M46.2 213.6l2.7 2.7m0 -2.7l-2.7 2.7M54.2 210.0l2.7 2.7m0 -2.7l-2.7 2.7M46.4 207.8l2.7 2.7m0 -2.7l-2.7 2.7M43.4 215.0l2.7 2.7m0 -2.7l-2.7 2.7M45.3 213.9l2.7 2.7m0 -2.7l-2.7 2.7M42.5 209.1l2.7 2.7m0 -2.7l-2.7 2.7M43.3 211.4l2.7 2.7m0 -2.7l-2.7 2.7M42.3 214.0l2.7 2.7m0 -2.7l-2.7 2.7M70.1 218.7l2.7 2.7m0 -2.7l-2.7 2.7M69.2 220.1l2.7 2.7m0 -2.7l-2.7 2.7M60.3 215.3l2.7 2.7m0 -2.7l-2.7 2.7M49.4 219.0l2.7 2.7m0 -2.7l-2.7 2.7M62.4 214.7l2.7 2.7m0 -2.7l-2.7 2.7M69.1 216.1l2.7 2.7m0 -2.7l-2.7 2.7M59.9 214.6l2.7 2.7m0 -2.7l-2.7 2.7M65.2 221.3l2.7 2.7m0 -2.7l-2.7 2.7M40.8 216.0l2.7 2.7m0 -2.7l-2.7 2.7M47.3 218.3l2.7 2.7m0 -2.7l-2.7 2.7M63.3 216.8l2.7 2.7m0 -2.7l-2.7 2.7M72.4 221.4l2.7 2.7m0 -2.7l-2.7 2.7M67.7 218.2l2.7 2.7m0 -2.7l-2.7 2.7M55.7 223.3l2.7 2.7m0 -2.7l-2.7 2.7M52.7 215.8l2.7 2.7m0 -2.7l-2.7 2.7M74.8 225.1l2.7 2.7m0 -2.7l-2.7 2.7M51.1 216.8l2.7 2.7m0 -2.7l-2.7 2.7M77.0 223.7l2.7 2.7m0 -2.7l-2.7 2.7M41.9 219.7l2.7 2.7m0 -2.7l-2.7 2.7M45.6 226.3l2.7 2.7m0 -2.7l-2.7 2.7M50.8 228.0l2.7 2.7m0 -2.7l-2.7 2.7M75.0 218.6l2.7 2.7m0 -2.7l-2.7 2.7M73.5 222.4l2.7 2.7m0 -2.7l-2.7 2.7M76.8 227.7l2.7 2.7m0 -2.7l-2.7 2.7M57.1 219.4l2.7 2.7m0 -2.7l-2.7 2.7M87.3 223.5l2.7 2.7m0 -2.7l-2.7 2.7M87.6 226.8l2.7 2.7m0 -2.7l-2.7 2.7M80.1 228.6l2.7 2.7m0 -2.7l-2.7 2.7M76.3 224.4l2.7 2.7m0 -2.7l-2.7 2.7M52.0 227.4l2.7 2.7m0 -2.7l-2.7 2.7M69.0 225.4l2.7 2.7m0 -2.7l-2.7 2.7M92.1 221.1l2.7 2.7m0 -2.7l-2.7 2.7M86.0 220.3l2.7 2.7m0 -2.7l-2.7 2.7M84.6 229.2l2.7 2.7m0 -2.7l-2.7 2.7M66.2 226.4l2.7 2.7m0 -2.7l-2.7 2.7M98.4 227.6l2.7 2.7m0 -2.7l-2.7 2.7M80.6 223.2l2.7 2.7m0 -2.7l-2.7 2.7M60.4 224.6l2.7 2.7m0 -2.7l-2.7 2.7M77.0 222.9l2.7 2.7m0 -2.7l-2.7 2.7M73.9 222.2l2.7 2.7m0 -2.7l-2.7 2.7M92.9 228.4l2.7 2.7m0 -2.7l-2.7 2.7M73.2 223.6l2.7 2.7m0 -2.7l-2.7 2.7M86.4 225.9l2.7 2.7m0 -2.7l-2.7 2.7M106.0 224.9l2.7 2.7m0 -2.7l-2.7 2.7M79.1 231.0l2.7 2.7m0 -2.7l-2.7 2.7M73.5 227.4l2.7 2.7m0 -2.7l-2.7 2.7M83.3 230.3l2.7 2.7m0 -2.7l-2.7 2.7M94.3 229.7l2.7 2.7m0 -2.7l-2.7 2.7M79.2 228.6l2.7 2.7m0 -2.7l-2.7 2.7M98.1 226.3l2.7 2.7m0 -2.7l-2.7 2.7M107.2 230.5l2.7 2.7m0 -2.7l-2.7 2.7M80.4 224.3l2.7 2.7m0 -2.7l-2.7 2.7M91.2 223.3l2.7 2.7m0 -2.7l-2.7 2.7M79.9 224.2l2.7 2.7m0 -2.7l-2.7 2.7M87.8 229.0l2.7 2.7m0 -2.7l-2.7 2.7M100.9 222.3l2.7 2.7m0 -2.7l-2.7 2.7M95.4 226.4l2.7 2.7m0 -2.7l-2.7 2.7M99.2 222.9l2.7 2.7m0 -2.7l-2.7 2.7M88.5 221.1l2.7 2.7m0 -2.7l-2.7 2.7M131.1 229.6l2.7 2.7m0 -2.7l-2.7 2.7M93.3 229.2l2.7 2.7m0 -2.7l-2.7 2.7M132.8 227.4l2.7 2.7m0 -2.7l-2.7 2.7M96.6 226.6l2.7 2.7m0 -2.7l-2.7 2.7M113.1 223.1l2.7 2.7m0 -2.7l-2.7 2.7M120.1 221.0l2.7 2.7m0 -2.7l-2.7 2.7M138.8 228.3l2.7 2.7m0 -2.7l-2.7 2.7M125.9 231.7l2.7 2.7m0 -2.7l-2.7 2.7M129.2 223.8l2.7 2.7m0 -2.7l-2.7 2.7M113.4 222.5l2.7 2.7m0 -2.7l-2.7 2.7M105.9 229.8l2.7 2.7m0 -2.7l-2.7 2.7M143.6 224.3l2.7 2.7m0 -2.7l-2.7 2.7M114.8 228.2l2.7 2.7m0 -2.7l-2.7 2.7M145.8 231.6l2.7 2.7m0 -2.7l-2.7 2.7M118.0 229.9l2.7 2.7m0 -2.7l-2.7 2.7M149.2 229.4l2.7 2.7m0 -2.7l-2.7 2.7M129.0 223.0l2.7 2.7m0 -2.7l-2.7 2.7M152.9 224.6l2.7 2.7m0 -2.7l-2.7 2.7M134.8 227.2l2.7 2.7m0 -2.7l-2.7 2.7M134.9 230.5l2.7 2.7m0 -2.7l-2.7 2.7M131.1 221.4l2.7 2.7m0 -2.7l-2.7 2.7M147.5 228.1l2.7 2.7m0 -2.7l-2.7 2.7M160.7 229.0l2.7 2.7m0 -2.7l-2.7 2.7M166.4 231.8l2.7 2.7m0 -2.7l-2.7 2.7M150.4 226.7l2.7 2.7m0 -2.7l-2.7 2.7M135.5 224.4l2.7 2.7m0 -2.7l-2.7 2.7M156.2 221.8l2.7 2.7m0 -2.7l-2.7 2.7M162.9 222.8l2.7 2.7m0 -2.7l-2.7 2.7M154.1 232.1l2.7 2.7m0 -2.7l-2.7 2.7M140.6 221.4l2.7 2.7m0 -2.7l-2.7 2.7M158.0 223.1l2.7 2.7m0 -2.7l-2.7 2.7M172.5 221.0l2.7 2.7m0 -2.7l-2.7 2.7M177.6 230.7l2.7 2.7m0 -2.7l-2.7 2.7M177.3 225.8l2.7 2.7m0 -2.7l-2.7 2.7M157.1 228.5l2.7 2.7m0 -2.7l-2.7 2.7M169.3 225.7l2.7 2.7m0 -2.7l-2.7 2.7M163.6 225.9l2.7 2.7m0 -2.7l-2.7 2.7M180.0 230.4l2.7 2.7m0 -2.7l-2.7 2.7M190.4 222.8l2.7 2.7m0 -2.7l-2.7 2.7M165.7 226.0l2.7 2.7m0 -2.7l-2.7 2.7M179.5 224.9l2.7 2.7m0 -2.7l-2.7 2.7M165.3 221.9l2.7 2.7m0 -2.7l-2.7 2.7M172.9 226.2l2.7 2.7m0 -2.7l-2.7 2.7M203.4 231.3l2.7 2.7m0 -2.7l-2.7 2.7M200.8 232.0l2.7 2.7m0 -2.7l-2.7 2.7M205.0 228.0l2.7 2.7m0 -2.7l-2.7 2.7M200.4 221.5l2.7 2.7m0 -2.7l-2.7 2.7M196.5 227.8l2.7 2.7m0 -2.7l-2.7 2.7M181.8 227.4l2.7 2.7m0 -2.7l-2.7 2.7M212.6 226.3l2.7 2.7m0 -2.7l-2.7 2.7M201.2 224.2l2.7 2.7m0 -2.7l-2.7 2.7M189.8 231.0l2.7 2.7m0 -2.7l-2.7 2.7M175.9 223.0l2.7 2.7m0 -2.7l-2.7 2.7M206.6 225.9l2.7 2.7m0 -2.7l-2.7 2.7M182.5 228.4l2.7 2.7m0 -2.7l-2.7 2.7M197.1 227.4l2.7 2.7m0 -2.7l-2.7 2.7M201.0 226.8l2.7 2.7m0 -2.7l-2.7 2.7M209.5 225.3l2.7 2.7m0 -2.7l-2.7 2.7M189.7 222.8l2.7 2.7m0 -2.7l-2.7 2.7M225.8 227.0l2.7 2.7m0 -2.7l-2.7 2.7M193.6 230.6l2.7 2.7m0 -2.7l-2.7 2.7M201.8 221.8l2.7 2.7m0 -2.7l-2.7 2.7M216.0 223.6l2.7 2.7m0 -2.7l-2.7 2.7M216.3 227.0l2.7 2.7m0 -2.7l-2.7 2.7M206.8 227.2l2.7 2.7m0 -2.7l-2.7 2.7M201.8 226.5l2.7 2.7m0 -2.7l-2.7 2.7M224.7 221.5l2.7 2.7m0 -2.7l-2.7 2.7M218.9 221.5l2.7 2.7m0 -2.7l-2.7 2.7M222.3 230.5l2.7 2.7m0 -2.7l-2.7 2.7M229.2 228.8l2.7 2.7m0 -2.7l-2.7 2.7M240.4 221.9l2.7 2.7m0 -2.7l-2.7 2.7M250.6 228.9l2.7 2.7m0 -2.7l-2.7 2.7M213.6 230.1l2.7 2.7m0 -2.7l-2.7 2.7M228.3 222.5l2.7 2.7m0 -2.7l-2.7 2.7M255.3 227.0l2.7 2.7m0 -2.7l-2.7 2.7M249.1 222.0l2.7 2.7m0 -2.7l-2.7 2.7M251.0 221.1l2.7 2.7m0 -2.7l-2.7 2.7M229.2 224.7l2.7 2.7m0 -2.7l-2.7 2.7M219.4 227.2l2.7 2.7m0 -2.7l-2.7 2.7M229.9 223.8l2.7 2.7m0 -2.7l-2.7 2.7M253.4 225.2l2.7 2.7m0 -2.7l-2.7 2.7M263.1 227.4l2.7 2.7m0 -2.7l-2.7 2.7M264.0 226.7l2.7 2.7m0 -2.7l-2.7 2.7M267.6 230.1l2.7 2.7m0 -2.7l-2.7 2.7M236.2 228.6l2.7 2.7m0 -2.7l-2.7 2.7M246.8 228.7l2.7 2.7m0 -2.7l-2.7 2.7M263.2 229.3l2.7 2.7m0 -2.7l-2.7 2.7M240.0 224.0l2.7 2.7m0 -2.7l-2.7 2.7M268.4 230.5l2.7 2.7m0 -2.7l-2.7 2.7M269.1 220.0l2.7 2.7m0 -2.7l-2.7 2.7M266.4 220.4l2.7 2.7m0 -2.7l-2.7 2.7M265.3 228.4l2.7 2.7m0 -2.7l-2.7 2.7M247.3 229.7l2.7 2.7m0 -2.7l-2.7 2.7M274.4 221.7l2.7 2.7m0 -2.7l-2.7 2.7M254.3 223.8l2.7 2.7m0 -2.7l-2.7 2.7M283.8 225.3l2.7 2.7m0 -2.7l-2.7 2.7M254.1 218.6l2.7 2.7m0 -2.7l-2.7 2.7M255.0 227.5l2.7 2.7m0 -2.7l-2.7 2.7M260.3 224.5l2.7 2.7m0 -2.7l-2.7 2.7M266.8 225.8l2.7 2.7m0 -2.7l-2.7 2.7M271.7 219.5l2.7 2.7m0 -2.7l-2.7 2.7M295.1 223.9l2.7 2.7m0 -2.7l-2.7 2.7M288.5 226.8l2.7 2.7m0 -2.7l-2.7 2.7M301.4 217.6l2.7 2.7m0 -2.7l-2.7 2.7M276.9 218.9l2.7 2.7m0 -2.7l-2.7 2.7M285.3 227.1l2.7 2.7m0 -2.7l-2.7 2.7M299.8 217.3l2.7 2.7m0 -2.7l-2.7 2.7M274.7 226.1l2.7 2.7m0 -2.7l-2.7 2.7M297.9 221.1l2.7 2.7m0 -2.7l-2.7 2.7M290.2 218.2l2.7 2.7m0 -2.7l-2.7 2.7M308.3 220.7l2.7 2.7m0 -2.7l-2.7 2.7M311.3 223.0l2.7 2.7m0 -2.7l-2.7 2.7M277.4 219.6l2.7 2.7m0 -2.7l-2.7 2.7M285.4 225.9l2.7 2.7m0 -2.7l-2.7 2.7M303.1 216.0l2.7 2.7m0 -2.7l-2.7 2.7M286.8 219.5l2.7 2.7m0 -2.7l-2.7 2.7M301.5 221.8l2.7 2.7m0 -2.7l-2.7 2.7M299.7 219.1l2.7 2.7m0 -2.7l-2.7 2.7M284.7 221.6l2.7 2.7m0 -2.7l-2.7 2.7M300.9 215.0l2.7 2.7m0 -2.7l-2.7 2.7M307.4 226.1l2.7 2.7m0 -2.7l-2.7 2.7M291.1 216.3l2.7 2.7m0 -2.7l-2.7 2.7M320.5 217.6l2.7 2.7m0 -2.7l-2.7 2.7M304.8 220.2l2.7 2.7m0 -2.7l-2.7 2.7M305.3 220.9l2.7 2.7m0 -2.7l-2.7 2.7M318.7 225.3l2.7 2.7m0 -2.7l-2.7 2.7M340.8 214.6l2.7 2.7m0 -2.7l-2.7 2.7M323.4 223.0l2.7 2.7m0 -2.7l-2.7 2.7M337.9 223.0l2.7 2.7m0 -2.7l-2.7 2.7M329.0 221.4l2.7 2.7m0 -2.7l-2.7 2.7M317.9 217.3l2.7 2.7m0 -2.7l-2.7 2.7M338.4 224.0l2.7 2.7m0 -2.7l-2.7 2.7M345.5 221.8l2.7 2.7m0 -2.7l-2.7 2.7M319.0 222.8l2.7 2.7m0 -2.7l-2.7 2.7M339.6 219.8l2.7 2.7m0 -2.7l-2.7 2.7M335.7 218.0l2.7 2.7m0 -2.7l-2.7 2.7M333.3 218.6l2.7 2.7m0 -2.7l-2.7 2.7M313.1 217.9l2.7 2.7m0 -2.7l-2.7 2.7M325.9 225.4l2.7 2.7m0 -2.7l-2.7 2.7M334.0 218.2l2.7 2.7m0 -2.7l-2.7 2.7M324.6 216.8l2.7 2.7m0 -2.7l-2.7 2.7M330.3 215.7l2.7 2.7m0 -2.7l-2.7 2.7M316.3 224.1l2.7 2.7m0 -2.7l-2.7 2.7M336.9 219.3l2.7 2.7m0 -2.7l-2.7 2.7M343.3 217.8l2.7 2.7m0 -2.7l-2.7 2.7M326.7 215.1l2.7 2.7m0 -2.7l-2.7 2.7M333.9 218.1l2.7 2.7m0 -2.7l-2.7 2.7M353.6 220.9l2.7 2.7m0 -2.7l-2.7 2.7M363.9 218.6l2.7 2.7m0 -2.7l-2.7 2.7M364.2 221.5l2.7 2.7m0 -2.7l-2.7 2.7M328.2 217.0l2.7 2.7m0 -2.7l-2.7 2.7M351.8 226.5l2.7 2.7m0 -2.7l-2.7 2.7M343.0 224.2l2.7 2.7m0 -2.7l-2.7 2.7M347.1 225.4l2.7 2.7m0 -2.7l-2.7 2.7M332.3 221.2l2.7 2.7m0 -2.7l-2.7 2.7M369.9 219.0l2.7 2.7m0 -2.7l-2.7 2.7M342.7 216.3l2.7 2.7m0 -2.7l-2.7 2.7M339.1 219.2l2.7 2.7m0 -2.7l-2.7 2.7M363.9 218.8l2.7 2.7m0 -2.7l-2.7 2.7M351.5 218.9l2.7 2.7m0 -2.7l-2.7 2.7M361.5 226.7l2.7 2.7m0 -2.7l-2.7 2.7M364.1 219.2l2.7 2.7m0 -2.7l-2.7 2.7M368.9 228.3l2.7 2.7m0 -2.7l-2.7 2.7M364.1 218.4l2.7 2.7m0 -2.7l-2.7 2.7M373.8 227.7l2.7 2.7m0 -2.7l-2.7 2.7M354.2 219.4l2.7 2.7m0 -2.7l-2.7 2.7M348.5 224.3l2.7 2.7m0 -2.7l-2.7 2.7M379.2 225.6l2.7 2.7m0 -2.7l-2.7 2.7M382.2 221.0l2.7 2.7m0 -2.7l-2.7 2.7M356.9 227.4l2.7 2.7m0 -2.7l-2.7 2.7M371.8 223.8l2.7 2.7m0 -2.7l-2.7 2.7M373.9 223.2l2.7 2.7m0 -2.7l-2.7 2.7M347.3 224.4l2.7 2.7m0 -2.7l-2.7 2.7M347.5 227.1l2.7 2.7m0 -2.7l-2.7 2.7M360.9 225.8l2.7 2.7m0 -2.7l-2.7 2.7M373.2 223.4l2.7 2.7m0 -2.7l-2.7 2.7M367.9 220.9l2.7 2.7m0 -2.7l-2.7 2.7M388.8 227.5l2.7 2.7m0 -2.7l-2.7 2.7M392.2 222.0l2.7 2.7m0 -2.7l-2.7 2.7M376.4 230.0l2.7 2.7m0 -2.7l-2.7 2.7M364.1 222.9l2.7 2.7m0 -2.7l-2.7 2.7M357.0 223.9l2.7 2.7m0 -2.7l-2.7 2.7M384.2 223.5l2.7 2.7m0 -2.7l-2.7 2.7M386.7 227.7l2.7 2.7m0 -2.7l-2.7 2.7M375.1 230.1l2.7 2.7m0 -2.7l-2.7 2.7M376.0 231.1l2.7 2.7m0 -2.7l-2.7 2.7M378.5 227.7l2.7 2.7m0 -2.7l-2.7 2.7M384.9 227.1l2.7 2.7m0 -2.7l-2.7 2.7M384.1 233.4l2.7 2.7m0 -2.7l-2.7 2.7M387.2 228.4l2.7 2.7m0 -2.7l-2.7 2.7M387.6 236.4l2.7 2.7m0 -2.7l-2.7 2.7M373.8 228.6l2.7 2.7m0 -2.7l-2.7 2.7M377.5 236.6l2.7 2.7m0 -2.7l-2.7 2.7M360.6 226.1l2.7 2.7m0 -2.7l-2.7 2.7M376.3 233.9l2.7 2.7m0 -2.7l-2.7 2.7M390.1 230.9l2.7 2.7m0 -2.7l-2.7 2.7M399.9 229.5l2.7 2.7m0 -2.7l-2.7 2.7M390.4 228.3l2.7 2.7m0 -2.7l-2.7 2.7M359.0 229.1l2.7 2.7m0 -2.7l-2.7 2.7M360.8 233.5l2.7 2.7m0 -2.7l-2.7 2.7M383.3 230.2l2.7 2.7m0 -2.7l-2.7 2.7M401.0 232.7l2.7 2.7m0 -2.7l-2.7 2.7M366.6 230.7l2.7 2.7m0 -2.7l-2.7 2.7M393.3 239.6l2.7 2.7m0 -2.7l-2.7 2.7M368.4 229.5l2.7 2.7m0 -2.7l-2.7 2.7M396.3 232.4l2.7 2.7m0 -2.7l-2.7 2.7M405.7 235.5l2.7 2.7m0 -2.7l-2.7 2.7M391.4 234.1l2.7 2.7m0 -2.7l-2.7 2.7M399.1 235.7l2.7 2.7m0 -2.7l-2.7 2.7M378.6 241.0l2.7 2.7m0 -2.7l-2.7 2.7M370.1 239.4l2.7 2.7m0 -2.7l-2.7 2.7M368.7 238.6l2.7 2.7m0 -2.7l-2.7 2.7M384.0 241.3l2.7 2.7m0 -2.7l-2.7 2.7M369.9 238.3l2.7 2.7m0 -2.7l-2.7 2.7M385.7 242.6l2.7 2.7m0 -2.7l-2.7 2.7M409.7 239.5l2.7 2.7m0 -2.7l-2.7 2.7M378.9 235.6l2.7 2.7m0 -2.7l-2.7 2.7M381.1 237.9l2.7 2.7m0 -2.7l-2.7 2.7M380.5 235.6l2.7 2.7m0 -2.7l-2.7 2.7M404.2 240.9l2.7 2.7m0 -2.7l-2.7 2.7M384.3 245.2l2.7 2.7m0 -2.7l-2.7 2.7M381.5 240.7l2.7 2.7m0 -2.7l-2.7 2.7M379.3 244.3l2.7 2.7m0 -2.7l-2.7 2.7M411.0 237.7l2.7 2.7m0 -2.7l-2.7 2.7M406.6 244.5l2.7 2.7m0 -2.7l-2.7 2.7M386.3 239.1l2.7 2.7m0 -2.7l-2.7 2.7M395.6 245.7l2.7 2.7m0 -2.7l-2.7 2.7M382.1 243.8l2.7 2.7m0 -2.7l-2.7 2.7M401.6 241.4l2.7 2.7m0 -2.7l-2.7 2.7M401.5 246.8l2.7 2.7m0 -2.7l-2.7 2.7M385.6 247.0l2.7 2.7m0 -2.7l-2.7 2.7M392.5 246.0l2.7 2.7m0 -2.7l-2.7 2.7M415.2 239.6l2.7 2.7m0 -2.7l-2.7 2.7M415.5 249.1l2.7 2.7m0 -2.7l-2.7 2.7M391.0 238.4l2.7 2.7m0 -2.7l-2.7 2.7M383.1 249.5l2.7 2.7m0 -2.7l-2.7 2.7M379.0 249.2l2.7 2.7m0 -2.7l-2.7 2.7M385.6 247.6l2.7 2.7m0 -2.7l-2.7 2.7M383.4 241.3l2.7 2.7m0 -2.7l-2.7 2.7M409.5 240.8l2.7 2.7m0 -2.7l-2.7 2.7M394.5 250.5l2.7 2.7m0 -2.7l-2.7 2.7M411.4 250.5l2.7 2.7m0 -2.7l-2.7 2.7M423.2 241.2l2.7 2.7m0 -2.7l-2.7 2.7M390.5 250.1l2.7 2.7m0 -2.7l-2.7 2.7M410.7 241.8l2.7 2.7m0 -2.7l-2.7 2.7M402.7 244.5l2.7 2.7m0 -2.7l-2.7 2.7M399.4 243.2l2.7 2.7m0 -2.7l-2.7 2.7M381.4 253.8l2.7 2.7m0 -2.7l-2.7 2.7M394.5 252.9l2.7 2.7m0 -2.7l-2.7 2.7M385.9 248.6l2.7 2.7m0 -2.7l-2.7 2.7M386.5 248.3l2.7 2.7m0 -2.7l-2.7 2.7M388.3 251.6l2.7 2.7m0 -2.7l-2.7 2.7M386.8 252.6l2.7 2.7m0 -2.7l-2.7 2.7M402.3 245.7l2.7 2.7m0 -2.7l-2.7 2.7M395.6 250.5l2.7 2.7m0 -2.7l-2.7 2.7M420.3 249.2l2.7 2.7m0 -2.7l-2.7 2.7M389.2 256.5l2.7 2.7m0 -2.7l-2.7 2.7M418.3 254.2l2.7 2.7m0 -2.7l-2.7 2.7M391.3 248.1l2.7 2.7m0 -2.7l-2.7 2.7M390.6 247.3l2.7 2.7m0 -2.7l-2.7 2.7M380.7 252.6l2.7 2.7m0 -2.7l-2.7 2.7M396.5 253.4l2.7 2.7m0 -2.7l-2.7 2.7M394.1 247.6l2.7 2.7m0 -2.7l-2.7 2.7M408.2 255.2l2.7 2.7m0 -2.7l-2.7 2.7M401.6 254.3l2.7 2.7m0 -2.7l-2.7 2.7M407.5 259.8l2.7 2.7m0 -2.7l-2.7 2.7M415.3 257.0l2.7 2.7m0 -2.7l-2.7 2.7M394.2 252.6l2.7 2.7m0 -2.7l-2.7 2.7M394.5 260.6l2.7 2.7m0 -2.7l-2.7 2.7M392.7 254.1l2.7 2.7m0 -2.7l-2.7 2.7M393.4 251.5l2.7 2.7m0 -2.7l-2.7 2.7M418.7 250.4l2.7 2.7m0 -2.7l-2.7 2.7M401.2 261.1l2.7 2.7m0 -2.7l-2.7 2.7M385.0 257.9l2.7 2.7m0 -2.7l-2.7 2.7M389.7 254.0l2.7 2.7m0 -2.7l-2.7 2.7M381.5 252.7l2.7 2.7m0 -2.7l-2.7 2.7M409.1 260.7l2.7 2.7m0 -2.7l-2.7 2.7M411.2 252.6l2.7 2.7m0 -2.7l-2.7 2.7M401.0 256.0l2.7 2.7m0 -2.7l-2.7 2.7M398.5 258.8l2.7 2.7m0 -2.7l-2.7 2.7M383.1 263.9l2.7 2.7m0 -2.7l-2.7 2.7M368.3 261.6l2.7 2.7m0 -2.7l-2.7 2.7M404.9 259.1l2.7 2.7m0 -2.7l-2.7 2.7M392.4 264.9l2.7 2.7m0 -2.7l-2.7 2.7M376.2 260.9l2.7 2.7m0 -2.7l-2.7 2.7M397.5 258.2l2.7 2.7m0 -2.7l-2.7 2.7M395.0 258.6l2.7 2.7m0 -2.7l-2.7 2.7M385.7 261.4l2.7 2.7m0 -2.7l-2.7 2.7M391.8 258.1l2.7 2.7m0 -2.7l-2.7 2.7M388.4 260.9l2.7 2.7m0 -2.7l-2.7 2.7M369.3 261.9l2.7 2.7m0 -2.7l-2.7 2.7M370.5 265.4l2.7 2.7m0 -2.7l-2.7 2.7M378.4 263.4l2.7 2.7m0 -2.7l-2.7 2.7M379.9 260.7l2.7 2.7m0 -2.7l-2.7 2.7M365.3 257.0l2.7 2.7m0 -2.7l-2.7 2.7M395.0 261.6l2.7 2.7m0 -2.7l-2.7 2.7M376.5 261.6l2.7 2.7m0 -2.7l-2.7 2.7M387.8 258.5l2.7 2.7m0 -2.7l-2.7 2.7M358.9 265.2l2.7 2.7m0 -2.7l-2.7 2.7M370.2 263.3l2.7 2.7m0 -2.7l-2.7 2.7M385.6 266.2l2.7 2.7m0 -2.7l-2.7 2.7M385.9 256.6l2.7 2.7m0 -2.7l-2.7 2.7M362.9 265.7l2.7 2.7m0 -2.7l-2.7 2.7M381.3 257.6l2.7 2.7m0 -2.7l-2.7 2.7M351.3 259.1l2.7 2.7m0 -2.7l-2.7 2.7M347.3 260.4l2.7 2.7m0 -2.7l-2.7 2.7M377.2 262.3l2.7 2.7m0 -2.7l-2.7 2.7M360.9 257.4l2.7 2.7m0 -2.7l-2.7 2.7M356.4 267.9l2.7 2.7m0 -2.7l-2.7 2.7M368.5 261.7l2.7 2.7m0 -2.7l-2.7 2.7M357.9 265.7l2.7 2.7m0 -2.7l-2.7 2.7M369.2 258.3l2.7 2.7m0 -2.7l-2.7 2.7M364.7 260.8l2.7 2.7m0 -2.7l-2.7 2.7M356.5 259.4l2.7 2.7m0 -2.7l-2.7 2.7M348.8 260.6l2.7 2.7m0 -2.7l-2.7 2.7M348.2 256.9l2.7 2.7m0 -2.7l-2.7 2.7M339.1 263.3l2.7 2.7m0 -2.7l-2.7 2.7M331.6 258.8l2.7 2.7m0 -2.7l-2.7 2.7M359.4 259.9l2.7 2.7m0 -2.7l-2.7 2.7M340.9 259.5l2.7 2.7m0 -2.7l-2.7 2.7M362.0 257.8l2.7 2.7m0 -2.7l-2.7 2.7M352.0 266.7l2.7 2.7m0 -2.7l-2.7 2.7M331.5 261.7l2.7 2.7m0 -2.7l-2.7 2.7M356.1 263.9l2.7 2.7m0 -2.7l-2.7 2.7M337.6 257.3l2.7 2.7m0 -2.7l-2.7 2.7M339.2 261.1l2.7 2.7m0 -2.7l-2.7 2.7M349.6 260.3l2.7 2.7m0 -2.7l-2.7 2.7M334.7 264.3l2.7 2.7m0 -2.7l-2.7 2.7M350.8 260.9l2.7 2.7m0 -2.7l-2.7 2.7M332.0 263.5l2.7 2.7m0 -2.7l-2.7 2.7M354.1 259.1l2.7 2.7m0 -2.7l-2.7 2.7M354.4 265.1l2.7 2.7m0 -2.7l-2.7 2.7M328.0 264.6l2.7 2.7m0 -2.7l-2.7 2.7M324.4 257.7l2.7 2.7m0 -2.7l-2.7 2.7M341.4 261.3l2.7 2.7m0 -2.7l-2.7 2.7M331.2 262.6l2.7 2.7m0 -2.7l-2.7 2.7M346.0 265.6l2.7 2.7m0 -2.7l-2.7 2.7M305.7 263.7l2.7 2.7m0 -2.7l-2.7 2.7M324.9 262.2l2.7 2.7m0 -2.7l-2.7 2.7M339.7 261.7l2.7 2.7m0 -2.7l-2.7 2.7M321.8 267.2l2.7 2.7m0 -2.7l-2.7 2.7M320.3 262.6l2.7 2.7m0 -2.7l-2.7 2.7M321.6 266.4l2.7 2.7m0 -2.7l-2.7 2.7M326.7 265.4l2.7 2.7m0 -2.7l-2.7 2.7M314.8 257.4l2.7 2.7m0 -2.7l-2.7 2.7M325.1 263.3l2.7 2.7m0 -2.7l-2.7 2.7M329.0 265.8l2.7 2.7m0 -2.7l-2.7 2.7M298.3 259.5l2.7 2.7m0 -2.7l-2.7 2.7M294.4 266.3l2.7 2.7m0 -2.7l-2.7 2.7M293.3 257.9l2.7 2.7m0 -2.7l-2.7 2.7M321.9 263.4l2.7 2.7m0 -2.7l-2.7 2.7M288.9 264.7l2.7 2.7m0 -2.7l-2.7 2.7M315.3 262.5l2.7 2.7m0 -2.7l-2.7 2.7M283.9 264.9l2.7 2.7m0 -2.7l-2.7 2.7M299.9 263.6l2.7 2.7m0 -2.7l-2.7 2.7M322.7 266.3l2.7 2.7m0 -2.7l-2.7 2.7M314.4 258.6l2.7 2.7m0 -2.7l-2.7 2.7M290.7 262.9l2.7 2.7m0 -2.7l-2.7 2.7M273.3 268.3l2.7 2.7m0 -2.7l-2.7 2.7M285.1 259.9l2.7 2.7m0 -2.7l-2.7 2.7M283.7 259.8l2.7 2.7m0 -2.7l-2.7 2.7M307.7 263.3l2.7 2.7m0 -2.7l-2.7 2.7M289.1 261.7l2.7 2.7m0 -2.7l-2.7 2.7M268.9 260.4l2.7 2.7m0 -2.7l-2.7 2.7M301.3 266.1l2.7 2.7m0 -2.7l-2.7 2.7M300.9 259.9l2.7 2.7m0 -2.7l-2.7 2.7M268.5 257.5l2.7 2.7m0 -2.7l-2.7 2.7M283.2 261.2l2.7 2.7m0 -2.7l-2.7 2.7M276.2 262.5l2.7 2.7m0 -2.7l-2.7 2.7M281.5 261.1l2.7 2.7m0 -2.7l-2.7 2.7M287.1 259.2l2.7 2.7m0 -2.7l-2.7 2.7M292.3 263.3l2.7 2.7m0 -2.7l-2.7 2.7M250.0 260.5l2.7 2.7m0 -2.7l-2.7 2.7M271.2 261.6l2.7 2.7m0 -2.7l-2.7 2.7M272.6 260.6l2.7 2.7m0 -2.7l-2.7 2.7M255.6 266.1l2.7 2.7m0 -2.7l-2.7 2.7M256.4 265.1l2.7 2.7m0 -2.7l-2.7 2.7M274.6 263.7l2.7 2.7m0 -2.7l-2.7 2.7M259.3 267.6l2.7 2.7m0 -2.7l-2.7 2.7M258.8 267.0l2.7 2.7m0 -2.7l-2.7 2.7M237.4 261.9l2.7 2.7m0 -2.7l-2.7 2.7M263.0 257.5l2.7 2.7m0 -2.7l-2.7 2.7M268.3 257.7l2.7 2.7m0 -2.7l-2.7 2.7M256.6 259.0l2.7 2.7m0 -2.7l-2.7 2.7M270.9 263.4l2.7 2.7m0 -2.7l-2.7 2.7M260.9 262.6l2.7 2.7m0 -2.7l-2.7 2.7M255.4 264.7l2.7 2.7m0 -2.7l-2.7 2.7M238.7 259.3l2.7 2.7m0 -2.7l-2.7 2.7M257.9 258.6l2.7 2.7m0 -2.7l-2.7 2.7M261.4 259.3l2.7 2.7m0 -2.7l-2.7 2.7M220.7 258.0l2.7 2.7m0 -2.7l-2.7 2.7M250.8 267.8l2.7 2.7m0 -2.7l-2.7 2.7M234.5 264.5l2.7 2.7m0 -2.7l-2.7 2.7M222.8 267.3l2.7 2.7m0 -2.7l-2.7 2.7M241.6 258.7l2.7 2.7m0 -2.7l-2.7 2.7M213.9 264.9l2.7 2.7m0 -2.7l-2.7 2.7M208.4 266.5l2.7 2.7m0 -2.7l-2.7 2.7M219.5 259.6l2.7 2.7m0 -2.7l-2.7 2.7M232.1 260.6l2.7 2.7m0 -2.7l-2.7 2.7M226.3 258.7l2.7 2.7m0 -2.7l-2.7 2.7M241.7 260.6l2.7 2.7m0 -2.7l-2.7 2.7M238.6 258.7l2.7 2.7m0 -2.7l-2.7 2.7M231.8 268.2l2.7 2.7m0 -2.7l-2.7 2.7M213.9 257.3l2.7 2.7m0 -2.7l-2.7 2.7M213.4 264.3l2.7 2.7m0 -2.7l-2.7 2.7M201.5 263.2l2.7 2.7m0 -2.7l-2.7 2.7M195.8 262.2l2.7 2.7m0 -2.7l-2.7 2.7M223.7 261.8l2.7 2.7m0 -2.7l-2.7 2.7M216.5 258.2l2.7 2.7m0 -2.7l-2.7 2.7M223.1 258.3l2.7 2.7m0 -2.7l-2.7 2.7M227.3 268.3l2.7 2.7m0 -2.7l-2.7 2.7M223.0 263.0l2.7 2.7m0 -2.7l-2.7 2.7M194.4 260.9l2.7 2.7m0 -2.7l-2.7 2.7M214.7 262.6l2.7 2.7m0 -2.7l-2.7 2.7M217.6 258.0l2.7 2.7m0 -2.7l-2.7 2.7M198.0 266.8l2.7 2.7m0 -2.7l-2.7 2.7M197.8 263.1l2.7 2.7m0 -2.7l-2.7 2.7M175.4 258.5l2.7 2.7m0 -2.7l-2.7 2.7M183.4 267.2l2.7 2.7m0 -2.7l-2.7 2.7M208.7 259.5l2.7 2.7m0 -2.7l-2.7 2.7M206.6 257.3l2.7 2.7m0 -2.7l-2.7 2.7M192.3 268.0l2.7 2.7m0 -2.7l-2.7 2.7M181.1 267.8l2.7 2.7m0 -2.7l-2.7 2.7M189.1 257.5l2.7 2.7m0 -2.7l-2.7 2.7M174.8 262.1l2.7 2.7m0 -2.7l-2.7 2.7M171.1 265.4l2.7 2.7m0 -2.7l-2.7 2.7M162.0 266.0l2.7 2.7m0 -2.7l-2.7 2.7M167.3 257.7l2.7 2.7m0 -2.7l-2.7 2.7M178.8 258.0l2.7 2.7m0 -2.7l-2.7 2.7M178.4 266.0l2.7 2.7m0 -2.7l-2.7 2.7M174.2 262.2l2.7 2.7m0 -2.7l-2.7 2.7M149.5 262.8l2.7 2.7m0 -2.7l-2.7 2.7M152.3 264.3l2.7 2.7m0 -2.7l-2.7 2.7M147.5 263.5l2.7 2.7m0 -2.7l-2.7 2.7M157.2 261.2l2.7 2.7m0 -2.7l-2.7 2.7M170.8 258.8l2.7 2.7m0 -2.7l-2.7 2.7M149.1 267.7l2.7 2.7m0 -2.7l-2.7 2.7M149.8 266.6l2.7 2.7m0 -2.7l-2.7 2.7M173.7 262.4l2.7 2.7m0 -2.7l-2.7 2.7M141.8 258.0l2.7 2.7m0 -2.7l-2.7 2.7M173.9 258.3l2.7 2.7m0 -2.7l-2.7 2.7M150.6 263.1l2.7 2.7m0 -2.7l-2.7 2.7M134.0 262.3l2.7 2.7m0 -2.7l-2.7 2.7M136.0 263.1l2.7 2.7m0 -2.7l-2.7 2.7M151.1 261.1l2.7 2.7m0 -2.7l-2.7 2.7M131.1 261.5l2.7 2.7m0 -2.7l-2.7 2.7M131.3 258.4l2.7 2.7m0 -2.7l-2.7 2.7M132.9 266.9l2.7 2.7m0 -2.7l-2.7 2.7M138.1 267.1l2.7 2.7m0 -2.7l-2.7 2.7M116.7 267.7l2.7 2.7m0 -2.7l-2.7 2.7M137.5 266.0l2.7 2.7m0 -2.7l-2.7 2.7M141.1 264.8l2.7 2.7m0 -2.7l-2.7 2.7M119.9 265.5l2.7 2.7m0 -2.7l-2.7 2.7M116.5 259.9l2.7 2.7m0 -2.7l-2.7 2.7M111.1 261.4l2.7 2.7m0 -2.7l-2.7 2.7M132.6 260.3l2.7 2.7m0 -2.7l-2.7 2.7M142.9 257.9l2.7 2.7m0 -2.7l-2.7 2.7M129.1 259.6l2.7 2.7m0 -2.7l-2.7 2.7M129.9 265.9l2.7 2.7m0 -2.7l-2.7 2.7M129.1 257.6l2.7 2.7m0 -2.7l-2.7 2.7M108.6 263.8l2.7 2.7m0 -2.7l-2.7 2.7M141.1 257.4l2.7 2.7m0 -2.7l-2.7 2.7M125.0 264.9l2.7 2.7m0 -2.7l-2.7 2.7M128.0 260.8l2.7 2.7m0 -2.7l-2.7 2.7M127.9 262.2l2.7 2.7m0 -2.7l-2.7 2.7M132.7 257.0l2.7 2.7m0 -2.7l-2.7 2.7M128.3 261.6l2.7 2.7m0 -2.7l-2.7 2.7M104.8 257.9l2.7 2.7m0 -2.7l-2.7 2.7M97.7 265.3l2.7 2.7m0 -2.7l-2.7 2.7M111.8 258.6l2.7 2.7m0 -2.7l-2.7 2.7M97.1 258.5l2.7 2.7m0 -2.7l-2.7 2.7M90.7 259.4l2.7 2.7m0 -2.7l-2.7 2.7M91.9 268.1l2.7 2.7m0 -2.7l-2.7 2.7M121.3 266.0l2.7 2.7m0 -2.7l-2.7 2.7M98.5 262.6l2.7 2.7m0 -2.7l-2.7 2.7M107.6 267.3l2.7 2.7m0 -2.7l-2.7 2.7M106.3 264.2l2.7 2.7m0 -2.7l-2.7 2.7M78.4 264.1l2.7 2.7m0 -2.7l-2.7 2.7M106.9 265.9l2.7 2.7m0 -2.7l-2.7 2.7M73.8 265.1l2.7 2.7m0 -2.7l-2.7 2.7M82.0 258.8l2.7 2.7m0 -2.7l-2.7 2.7M109.1 264.6l2.7 2.7m0 -2.7l-2.7 2.7M99.5 258.5l2.7 2.7m0 -2.7l-2.7 2.7M75.8 52.1l2.7 2.7m0 -2.7l-2.7 2.7M79.2 49.9l2.7 2.7m0 -2.7l-2.7 2.7M76.0 50.6l2.7 2.7m0 -2.7l-2.7 2.7M65.3 46.4l2.7 2.7m0 -2.7l-2.7 2.7M75.7 50.4l2.7 2.7m0 -2.7l-2.7 2.7M77.7 44.8l2.7 2.7m0 -2.7l-2.7 2.7M81.6 47.5l2.7 2.7m0 -2.7l-2.7 2.7M81.0 42.7l2.7 2.7m0 -2.7l-2.7 2.7M82.0 50.4l2.7 2.7m0 -2.7l-2.7 2.7M50.4 51.0l2.7 2.7m0 -2.7l-2.7 2.7M49.6 43.7l2.7 2.7m0 -2.7l-2.7 2.7M59.5 44.1l2.7 2.7m0 -2.7l-2.7 2.7M61.0 51.8l2.7 2.7m0 -2.7l-2.7 2.7M69.5 49.5l2.7 2.7m0 -2.7l-2.7 2.7M56.6 50.4l2.7 2.7m0 -2.7l-2.7 2.7M74.3 49.2l2.7 2.7m0 -2.7l-2.7 2.7M80.8 50.9l2.7 2.7m0 -2.7l-2.7 2.7M57.2 42.4l2.7 2.7m0 -2.7l-2.7 2.7M68.1 51.0l2.7 2.7m0 -2.7l-2.7 2.7M54.3 48.2l2.7 2.7m0 -2.7l-2.7 2.7M76.1 50.5l2.7 2.7m0 -2.7l-2.7 2.7M39.5 47.0l2.7 2.7m0 -2.7l-2.7 2.7M40.1 42.7l2.7 2.7m0 -2.7l-2.7 2.7M75.1 46.2l2.7 2.7m0 -2.7l-2.7 2.7M66.0 46.6l2.7 2.7m0 -2.7l-2.7 2.7M54.1 43.8l2.7 2.7m0 -2.7l-2.7 2.7M54.9 51.1l2.7 2.7m0 -2.7l-2.7 2.7M66.6 44.7l2.7 2.7m0 -2.7l-2.7 2.7M43.2 44.5l2.7 2.7m0 -2.7l-2.7 2.7M70.2 46.5l2.7 2.7m0 -2.7l-2.7 2.7M68.4 50.7l2.7 2.7m0 -2.7l-2.7 2.7M44.7 49.2l2.7 2.7m0 -2.7l-2.7 2.7M41.2 50.8l2.7 2.7m0 -2.7l-2.7 2.7M47.5 44.5l2.7 2.7m0 -2.7l-2.7 2.7M81.5 45.5l2.7 2.7m0 -2.7l-2.7 2.7M49.2 51.6l2.7 2.7m0 -2.7l-2.7 2.7M66.2 51.6l2.7 2.7m0 -2.7l-2.7 2.7M56.7 47.1l2.7 2.7m0 -2.7l-2.7 2.7M81.4 47.2l2.7 2.7m0 -2.7l-2.7 2.7M82.8 43.6l2.7 2.7m0 -2.7l-2.7 2.7M75.9 43.2l2.7 2.7m0 -2.7l-2.7 2.7M62.5 41.4l2.7 2.7m0 -2.7l-2.7 2.7M47.1 52.2l2.7 2.7m0 -2.7l-2.7 2.7M59.4 50.7l2.7 2.7m0 -2.7l-2.7 2.7M50.4 45.4l2.7 2.7m0 -2.7l-2.7 2.7M43.8 47.7l2.7 2.7m0 -2.7l-2.7 2.7M77.3 47.3l2.7 2.7m0 -2.7l-2.7 2.7M55.9 52.0l2.7 2.7m0 -2.7l-2.7 2.7M78.7 49.0l2.7 2.7m0 -2.7l-2.7 2.7M42.7 48.5l2.7 2.7m0 -2.7l-2.7 2.7M58.9 52.4l2.7 2.7m0 -2.7l-2.7 2.7M55.3 49.0l2.7 2.7m0 -2.7l-2.7 2.7M67.2 45.7l2.7 2.7m0 -2.7l-2.7 2.7M62.3 49.2l2.7 2.7m0 -2.7l-2.7 2.7M79.3 47.1l2.7 2.7m0 -2.7l-2.7 2.7M55.4 52.6l2.7 2.7m0 -2.7l-2.7 2.7M41.9 51.0l2.7 2.7m0 -2.7l-2.7 2.7M69.4 47.8l2.7 2.7m0 -2.7l-2.7 2.7M59.1 50.0l2.7 2.7m0 -2.7l-2.7 2.7M78.6 49.8l2.7 2.7m0 -2.7l-2.7 2.7M72.3 41.8l2.7 2.7m0 -2.7l-2.7 2.7M53.7 43.0l2.7 2.7m0 -2.7l-2.7 2.7M81.3 51.6l2.7 2.7m0 -2.7l-2.7 2.7M45.7 48.1l2.7 2.7m0 -2.7l-2.7 2.7M64.7 41.9l2.7 2.7m0 -2.7l-2.7 2.7M56.6 50.0l2.7 2.7m0 -2.7l-2.7 2.7M67.6 44.6l2.7 2.7m0 -2.7l-2.7 2.7M72.9 44.7l2.7 2.7m0 -2.7l-2.7 2.7M63.3 46.2l2.7 2.7m0 -2.7l-2.7 2.7M82.4 48.8l2.7 2.7m0 -2.7l-2.7 2.7M74.8 49.2l2.7 2.7m0 -2.7l-2.7 2.7M56.1 52.4l2.7 2.7m0 -2.7l-2.7 2.7M70.6 49.3l2.7 2.7m0 -2.7l-2.7 2.7M51.6 43.2l2.7 2.7m0 -2.7l-2.7 2.7M64.7 50.9l2.7 2.7m0 -2.7l-2.7 2.7M74.3 45.4l2.7 2.7m0 -2.7l-2.7 2.7M45.5 47.3l2.7 2.7m0 -2.7l-2.7 2.7M78.0 43.2l2.7 2.7m0 -2.7l-2.7 2.7M71.8 43.3l2.7 2.7m0 -2.7l-2.7 2.7M53.1 42.0l2.7 2.7m0 -2.7l-2.7 2.7M52.4 45.8l2.7 2.7m0 -2.7l-2.7 2.7M81.9 52.4l2.7 2.7m0 -2.7l-2.7 2.7M47.6 44.9l2.7 2.7m0 -2.7l-2.7 2.7M80.9 43.6l2.7 2.7m0 -2.7l-2.7 2.7M53.5 46.4l2.7 2.7m0 -2.7l-2.7 2.7M44.1 44.4l2.7 2.7m0 -2.7l-2.7 2.7M56.7 45.8l2.7 2.7m0 -2.7l-2.7 2.7M81.7 44.4l2.7 2.7m0 -2.7l-2.7 2.7M48.3 51.8l2.7 2.7m0 -2.7l-2.7 2.7M59.2 51.0l2.7 2.7m0 -2.7l-2.7 2.7M67.4 50.3l2.7 2.7m0 -2.7l-2.7 2.7M53.2 43.1l2.7 2.7m0 -2.7l-2.7 2.7M72.7 46.8l2.7 2.7m0 -2.7l-2.7 2.7M63.9 49.1l2.7 2.7m0 -2.7l-2.7 2.7M72.5 44.5l2.7 2.7m0 -2.7l-2.7 2.7M55.3 51.9l2.7 2.7m0 -2.7l-2.7 2.7M62.6 44.7l2.7 2.7m0 -2.7l-2.7 2.7M67.1 44.4l2.7 2.7m0 -2.7l-2.7 2.7M73.3 41.9l2.7 2.7m0 -2.7l-2.7 2.7M75.7 47.9l2.7 2.7m0 -2.7l-2.7 2.7M54.9 52.2l2.7 2.7m0 -2.7l-2.7 2.7M51.0 44.2l2.7 2.7m0 -2.7l-2.7 2.7M42.4 47.7l2.7 2.7m0 -2.7l-2.7 2.7M72.5 49.2l2.7 2.7m0 -2.7l-2.7 2.7M57.5 50.7l2.7 2.7m0 -2.7l-2.7 2.7M44.2 44.9l2.7 2.7m0 -2.7l-2.7 2.7M67.7 52.5l2.7 2.7m0 -2.7l-2.7 2.7M67.2 49.3l2.7 2.7m0 -2.7l-2.7 2.7M73.4 45.9l2.7 2.7m0 -2.7l-2.7 2.7M80.7 49.9l2.7 2.7m0 -2.7l-2.7 2.7M54.4 45.9l2.7 2.7m0 -2.7l-2.7 2.7M74.8 45.4l2.7 2.7m0 -2.7l-2.7 2.7M47.5 51.4l2.7 2.7m0 -2.7l-2.7 2.7M62.7 47.4l2.7 2.7m0 -2.7l-2.7 2.7M68.8 51.7l2.7 2.7m0 -2.7l-2.7 2.7M45.2 45.3l2.7 2.7m0 -2.7l-2.7 2.7M42.3 46.1l2.7 2.7m0 -2.7l-2.7 2.7M61.4 51.2l2.7 2.7m0 -2.7l-2.7 2.7M68.7 48.0l2.7 2.7m0 -2.7l-2.7 2.7M57.1 48.0l2.7 2.7m0 -2.7l-2.7 2.7M51.4 51.1l2.7 2.7m0 -2.7l-2.7 2.7M74.0 51.0l2.7 2.7m0 -2.7l-2.7 2.7M46.0 49.1l2.7 2.7m0 -2.7l-2.7 2.7M72.5 47.1l2.7 2.7m0 -2.7l-2.7 2.7M78.9 51.7l2.7 2.7m0 -2.7l-2.7 2.7M72.0 50.8l2.7 2.7m0 -2.7l-2.7 2.7M67.9 51.5l2.7 2.7m0 -2.7l-2.7 2.7M45.1 49.5l2.7 2.7m0 -2.7l-2.7 2.7M70.3 48.4l2.7 2.7m0 -2.7l-2.7 2.7M51.5 42.2l2.7 2.7m0 -2.7l-2.7 2.7M65.9 50.8l2.7 2.7m0 -2.7l-2.7 2.7M51.4 43.8l2.7 2.7m0 -2.7l-2.7 2.7M49.2 42.5l2.7 2.7m0 -2.7l-2.7 2.7M69.1 52.6l2.7 2.7m0 -2.7l-2.7 2.7M74.6 45.5l2.7 2.7m0 -2.7l-2.7 2.7M70.1 42.2l2.7 2.7m0 -2.7l-2.7 2.7M76.2 45.1l2.7 2.7m0 -2.7l-2.7 2.7M39.5 48.6l2.7 2.7m0 -2.7l-2.7 2.7M45.5 44.5l2.7 2.7m0 -2.7l-2.7 2.7M42.0 46.5l2.7 2.7m0 -2.7l-2.7 2.7M63.8 50.7l2.7 2.7m0 -2.7l-2.7 2.7M41.1 50.9l2.7 2.7m0 -2.7l-2.7 2.7M44.2 44.0l2.7 2.7m0 -2.7l-2.7 2.7M67.0 45.3l2.7 2.7m0 -2.7l-2.7 2.7M53.9 47.9l2.7 2.7m0 -2.7l-2.7 2.7M48.9 50.5l2.7 2.7m0 -2.7l-2.7 2.7M48.5 51.0l2.7 2.7m0 -2.7l-2.7 2.7M74.9 47.6l2.7 2.7m0 -2.7l-2.7 2.7M40.7 50.3l2.7 2.7m0 -2.7l-2.7 2.7M40.6 47.2l2.7 2.7m0 -2.7l-2.7 2.7M58.0 42.1l2.7 2.7m0 -2.7l-2.7 2.7M67.1 49.7l2.7 2.7m0 -2.7l-2.7 2.7M65.1 46.0l2.7 2.7m0 -2.7l-2.7 2.7M61.9 48.1l2.7 2.7m0 -2.7l-2.7 2.7M49.3 51.3l2.7 2.7m0 -2.7l-2.7 2.7M83.2 50.6l2.7 2.7m0 -2.7l-2.7 2.7M81.6 45.2l2.7 2.7m0 -2.7l-2.7 2.7M82.7 42.2l2.7 2.7m0 -2.7l-2.7 2.7M60.4 42.9l2.7 2.7m0 -2.7l-2.7 2.7M59.3 49.2l2.7 2.7m0 -2.7l-2.7 2.7M70.5 46.6l2.7 2.7m0 -2.7l-2.7 2.7M54.4 43.6l2.7 2.7m0 -2.7l-2.7 2.7M57.1 44.6l2.7 2.7m0 -2.7l-2.7 2.7M47.9 49.8l2.7 2.7m0 -2.7l-2.7 2.7M62.1 46.4l2.7 2.7m0 -2.7l-2.7 2.7M48.0 49.5l2.7 2.7m0 -2.7l-2.7 2.7M48.0 44.4l2.7 2.7m0 -2.7l-2.7 2.7M64.0 49.4l2.7 2.7m0 -2.7l-2.7 2.7M82.2 50.0l2.7 2.7m0 -2.7l-2.7 2.7M81.1 51.9l2.7 2.7m0 -2.7l-2.7 2.7M71.1 49.6l2.7 2.7m0 -2.7l-2.7 2.7M42.1 43.7l2.7 2.7m0 -2.7l-2.7 2.7M39.9 51.3l2.7 2.7m0 -2.7l-2.7 2.7M71.1 48.6l2.7 2.7m0 -2.7l-2.7 2.7M51.0 45.5l2.7 2.7m0 -2.7l-2.7 2.7M46.6 48.6l2.7 2.7m0 -2.7l-2.7 2.7M83.0 44.9l2.7 2.7m0 -2.7l-2.7 2.7M41.3 43.4l2.7 2.7m0 -2.7l-2.7 2.7M55.0 51.7l2.7 2.7m0 -2.7l-2.7 2.7M74.7 46.6l2.7 2.7m0 -2.7l-2.7 2.7M43.8 42.6l2.7 2.7m0 -2.7l-2.7 2.7M46.1 50.3l2.7 2.7m0 -2.7l-2.7 2.7M60.1 52.8l2.7 2.7m0 -2.7l-2.7 2.7M79.5 50.5l2.7 2.7m0 -2.7l-2.7 2.7M60.3 50.8l2.7 2.7m0 -2.7l-2.7 2.7M45.0 42.6l2.7 2.7m0 -2.7l-2.7 2.7M64.1 47.2l2.7 2.7m0 -2.7l-2.7 2.7M48.6 44.3l2.7 2.7m0 -2.7l-2.7 2.7M40.3 51.8l2.7 2.7m0 -2.7l-2.7 2.7M70.6 52.2l2.7 2.7m0 -2.7l-2.7 2.7M82.5 46.4l2.7 2.7m0 -2.7l-2.7 2.7M71.6 45.8l2.7 2.7m0 -2.7l-2.7 2.7M75.1 51.0l2.7 2.7m0 -2.7l-2.7 2.7M45.2 41.5l2.7 2.7m0 -2.7l-2.7 2.7M48.8 48.1l2.7 2.7m0 -2.7l-2.7 2.7M56.0 41.5l2.7 2.7m0 -2.7l-2.7 2.7M75.9 50.4l2.7 2.7m0 -2.7l-2.7 2.7M59.8 41.9l2.7 2.7m0 -2.7l-2.7 2.7M78.5 47.5l2.7 2.7m0 -2.7l-2.7 2.7M42.5 45.1l2.7 2.7m0 -2.7l-2.7 2.7M66.8 51.5l2.7 2.7m0 -2.7l-2.7 2.7M60.7 48.7l2.7 2.7m0 -2.7l-2.7 2.7M48.4 44.2l2.7 2.7m0 -2.7l-2.7 2.7M79.2 45.8l2.7 2.7m0 -2.7l-2.7 2.7M43.9 48.2l2.7 2.7m0 -2.7l-2.7 2.7M44.9 43.7l2.7 2.7m0 -2.7l-2.7 2.7M59.4 48.1l2.7 2.7m0 -2.7l-2.7 2.7M67.4 49.5l2.7 2.7m0 -2.7l-2.7 2.7M58.7 42.2l2.7 2.7m0 -2.7l-2.7 2.7M71.2 42.0l2.7 2.7m0 -2.7l-2.7 2.7M60.1 46.0l2.7 2.7m0 -2.7l-2.7 2.7M69.0 49.6l2.7 2.7m0 -2.7l-2.7 2.7M49.9 48.8l2.7 2.7m0 -2.7l-2.7 2.7M69.8 46.8l2.7 2.7m0 -2.7l-2.7 2.7M45.6 51.8l2.7 2.7m0 -2.7l-2.7 2.7M65.7 42.1l2.7 2.7m0 -2.7l-2.7 2.7M49.8 52.7l2.7 2.7m0 -2.7l-2.7 2.7M49.4 45.9l2.7 2.7m0 -2.7l-2.7 2.7M74.0 50.8l2.7 2.7m0 -2.7l-2.7 2.7M67.2 49.9l2.7 2.7m0 -2.7l-2.7 2.7M41.0 42.5l2.7 2.7m0 -2.7l-2.7 2.7M82.3 50.6l2.7 2.7m0 -2.7l-2.7 2.7M41.0 41.9l2.7 2.7m0 -2.7l-2.7 2.7M49.9 52.1l2.7 2.7m0 -2.7l-2.7 2.7M49.0 49.1l2.7 2.7m0 -2.7l-2.7 2.7M80.3 48.7l2.7 2.7m0 -2.7l-2.7 2.7M79.8 44.4l2.7 2.7m0 -2.7l-2.7 2.7M46.1 41.6l2.7 2.7m0 -2.7l-2.7 2.7M72.7 42.6l2.7 2.7m0 -2.7l-2.7 2.7M82.2 49.5l2.7 2.7m0 -2.7l-2.7 2.7M47.6 50.7l2.7 2.7m0 -2.7l-2.7 2.7M46.5 47.3l2.7 2.7m0 -2.7l-2.7 2.7M44.0 50.4l2.7 2.7m0 -2.7l-2.7 2.7M78.5 51.9l2.7 2.7m0 -2.7l-2.7 2.7M39.4 51.2l2.7 2.7m0 -2.7l-2.7 2.7M63.8 50.8l2.7 2.7m0 -2.7l-2.7 2.7M61.5 48.5l2.7 2.7m0 -2.7l-2.7 2.7M65.5 50.6l2.7 2.7m0 -2.7l-2.7 2.7M42.8 42.0l2.7 2.7m0 -2.7l-2.7 2.7M63.4 44.7l2.7 2.7m0 -2.7l-2.7 2.7M56.8 41.5l2.7 2.7m0 -2.7l-2.7 2.7M72.1 41.7l2.7 2.7m0 -2.7l-2.7 2.7M75.9 50.7l2.7 2.7m0 -2.7l-2.7 2.7M59.5 42.8l2.7 2.7m0 -2.7l-2.7 2.7M68.0 43.8l2.7 2.7m0 -2.7l-2.7 2.7M58.2 42.7l2.7 2.7m0 -2.7l-2.7 2.7M82.3 47.7l2.7 2.7m0 -2.7l-2.7 2.7M54.9 42.5l2.7 2.7m0 -2.7l-2.7 2.7M71.5 51.1l2.7 2.7m0 -2.7l-2.7 2.7M76.7 42.5l2.7 2.7m0 -2.7l-2.7 2.7M55.5 44.9l2.7 2.7m0 -2.7l-2.7 2.7M72.9 43.1l2.7 2.7m0 -2.7l-2.7 2.7M66.0 52.6l2.7 2.7m0 -2.7l-2.7 2.7M73.2 41.5l2.7 2.7m0 -2.7l-2.7 2.7M42.6 42.7l2.7 2.7m0 -2.7l-2.7 2.7M69.8 48.3l2.7 2.7m0 -2.7l-2.7 2.7M62.2 46.6l2.7 2.7m0 -2.7l-2.7 2.7M57.3 48.4l2.7 2.7m0 -2.7l-2.7 2.7M67.9 51.9l2.7 2.7m0 -2.7l-2.7 2.7M71.6 50.5l2.7 2.7m0 -2.7l-2.7 2.7M79.5 51.0l2.7 2.7m0 -2.7l-2.7 2.7M70.9 41.7l2.7 2.7m0 -2.7l-2.7 2.7M69.3 51.1l2.7 2.7m0 -2.7l-2.7 2.7M58.3 51.5l2.7 2.7m0 -2.7l-2.7 2.7M47.3 52.2l2.7 2.7m0 -2.7l-2.7 2.7M58.8 49.5l2.7 2.7m0 -2.7l-2.7 2.7M50.5 44.8l2.7 2.7m0 -2.7l-2.7 2.7M54.7 45.1l2.7 2.7m0 -2.7l-2.7 2.7M43.5 46.5l2.7 2.7m0 -2.7l-2.7 2.7M82.5 48.9l2.7 2.7m0 -2.7l-2.7 2.7M80.4 50.1l2.7 2.7m0 -2.7l-2.7 2.7M76.2 52.8l2.7 2.7m0 -2.7l-2.7 2.7M72.5 44.5l2.7 2.7m0 -2.7l-2.7 2.7M50.3 46.1l2.7 2.7m0 -2.7l-2.7 2.7M40.3 44.0l2.7 2.7m0 -2.7l-2.7 2.7M78.3 52.0l2.7 2.7m0 -2.7l-2.7 2.7M53.8 50.2l2.7 2.7m0 -2.7l-2.7 2.7M73.4 51.6l2.7 2.7m0 -2.7l-2.7 2.7M74.3 47.5l2.7 2.7m0 -2.7l-2.7 2.7M44.0 50.9l2.7 2.7m0 -2.7l-2.7 2.7M53.2 48.6l2.7 2.7m0 -2.7l-2.7 2.7M55.5 47.6l2.7 2.7m0 -2.7l-2.7 2.7M81.8 43.2l2.7 2.7m0 -2.7l-2.7 2.7M62.7 48.8l2.7 2.7m0 -2.7l-2.7 2.7M63.0 52.2l2.7 2.7m0 -2.7l-2.7 2.7M57.3 51.9l2.7 2.7m0 -2.7l-2.7 2.7M69.7 52.5l2.7 2.7m0 -2.7l-2.7 2.7M43.3 43.8l2.7 2.7m0 -2.7l-2.7 2.7M52.0 51.8l2.7 2.7m0 -2.7l-2.7 2.7M39.9 44.4l2.7 2.7m0 -2.7l-2.7 2.7M70.8 52.7l2.7 2.7m0 -2.7l-2.7 2.7M47.1 46.4l2.7 2.7m0 -2.7l-2.7 2.7M69.6 49.3l2.7 2.7m0 -2.7l-2.7 2.7M72.2 50.0l2.7 2.7m0 -2.7l-2.7 2.7M50.3 44.3l2.7 2.7m0 -2.7l-2.7 2.7M40.6 49.3l2.7 2.7m0 -2.7l-2.7 2.7M48.6 44.4l2.7 2.7m0 -2.7l-2.7 2.7M81.8 48.8l2.7 2.7m0 -2.7l-2.7 2.7M65.4 48.9l2.7 2.7m0 -2.7l-2.7 2.7M65.7 49.4l2.7 2.7m0 -2.7l-2.7 2.7M52.7 42.1l2.7 2.7m0 -2.7l-2.7 2.7M42.3 41.5l2.7 2.7m0 -2.7l-2.7 2.7M55.3 43.0l2.7 2.7m0 -2.7l-2.7 2.7M44.3 47.1l2.7 2.7m0 -2.7l-2.7 2.7M82.0 49.3l2.7 2.7m0 -2.7l-2.7 2.7M51.4 50.2l2.7 2.7m0 -2.7l-2.7 2.7M47.2 42.5l2.7 2.7m0 -2.7l-2.7 2.7M52.7 46.1l2.7 2.7m0 -2.7l-2.7 2.7M69.7 46.5l2.7 2.7m0 -2.7l-2.7 2.7M71.4 42.5l2.7 2.7m0 -2.7l-2.7 2.7M80.4 45.3l2.7 2.7m0 -2.7l-2.7 2.7M76.0 41.7l2.7 2.7m0 -2.7l-2.7 2.7M75.8 44.0l2.7 2.7m0 -2.7l-2.7 2.7M77.0 50.6l2.7 2.7m0 -2.7l-2.7 2.7M68.9 44.6l2.7 2.7m0 -2.7l-2.7 2.7M39.8 43.6l2.7 2.7m0 -2.7l-2.7 2.7M79.2 43.2l2.7 2.7m0 -2.7l-2.7 2.7M68.4 48.1l2.7 2.7m0 -2.7l-2.7 2.7M68.4 43.5l2.7 2.7m0 -2.7l-2.7 2.7M45.7 42.5l2.7 2.7m0 -2.7l-2.7 2.7M82.6 45.8l2.7 2.7m0 -2.7l-2.7 2.7M68.0 47.9l2.7 2.7m0 -2.7l-2.7 2.7M49.2 42.1l2.7 2.7m0 -2.7l-2.7 2.7M40.0 51.2l2.7 2.7m0 -2.7l-2.7 2.7M45.1 52.4l2.7 2.7m0 -2.7l-2.7 2.7M55.3 49.7l2.7 2.7m0 -2.7l-2.7 2.7M45.4 50.4l2.7 2.7m0 -2.7l-2.7 2.7M50.4 45.6l2.7 2.7m0 -2.7l-2.7 2.7M62.4 42.7l2.7 2.7m0 -2.7l-2.7 2.7M50.3 50.5l2.7 2.7m0 -2.7l-2.7 2.7M51.9 45.8l2.7 2.7m0 -2.7l-2.7 2.7M73.0 44.0l2.7 2.7m0 -2.7l-2.7 2.7M47.9 43.9l2.7 2.7m0 -2.7l-2.7 2.7M56.3 45.6l2.7 2.7m0 -2.7l-2.7 2.7M67.6 46.8l2.7 2.7m0 -2.7l-2.7 2.7M77.6 42.0l2.7 2.7m0 -2.7l-2.7 2.7M68.5 51.0l2.7 2.7m0 -2.7l-2.7 2.7M49.7 41.7l2.7 2.7m0 -2.7l-2.7 2.7M58.6 42.7l2.7 2.7m0 -2.7l-2.7 2.7M59.6 49.6l2.7 2.7m0 -2.7l-2.7 2.7M43.5 42.7l2.7 2.7m0 -2.7l-2.7 2.7M60.4 43.4l2.7 2.7m0 -2.7l-2.7 2.7M49.5 46.4l2.7 2.7m0 -2.7l-2.7 2.7M44.6 42.2l2.7 2.7m0 -2.7l-2.7 2.7M55.2 46.8l2.7 2.7m0 -2.7l-2.7 2.7M80.6 47.8l2.7 2.7m0 -2.7l-2.7 2.7M42.5 43.9l2.7 2.7m0 -2.7l-2.7 2.7M72.1 47.8l2.7 2.7m0 -2.7l-2.7 2.7M77.6 52.4l2.7 2.7m0 -2.7l-2.7 2.7M77.1 42.6l2.7 2.7m0 -2.7l-2.7 2.7M80.9 47.4l2.7 2.7m0 -2.7l-2.7 2.7M49.9 43.3l2.7 2.7m0 -2.7l-2.7 2.7M77.4 43.8l2.7 2.7m0 -2.7l-2.7 2.7M43.0 44.4l2.7 2.7m0 -2.7l-2.7 2.7M80.0 46.7l2.7 2.7m0 -2.7l-2.7 2.7M71.5 42.2l2.7 2.7m0 -2.7l-2.7 2.7M59.3 45.0l2.7 2.7m0 -2.7l-2.7 2.7M48.4 49.0l2.7 2.7m0 -2.7l-2.7 2.7M55.2 42.8l2.7 2.7m0 -2.7l-2.7 2.7M82.7 46.9l2.7 2.7m0 -2.7l-2.7 2.7M47.3 41.5l2.7 2.7m0 -2.7l-2.7 2.7M68.1 47.3l2.7 2.7m0 -2.7l-2.7 2.7M40.4 46.8l2.7 2.7m0 -2.7l-2.7 2.7M71.9 47.6l2.7 2.7m0 -2.7l-2.7 2.7M49.6 47.1l2.7 2.7m0 -2.7l-2.7 2.7M66.0 48.9l2.7 2.7m0 -2.7l-2.7 2.7M45.7 50.6l2.7 2.7m0 -2.7l-2.7 2.7M81.0 49.9l2.7 2.7m0 -2.7l-2.7 2.7M77.1 45.6l2.7 2.7m0 -2.7l-2.7 2.7M79.1 43.5l2.7 2.7m0 -2.7l-2.7 2.7M49.3 48.2l2.7 2.7m0 -2.7l-2.7 2.7M79.0 42.3l2.7 2.7m0 -2.7l-2.7 2.7M48.9 41.8l2.7 2.7m0 -2.7l-2.7 2.7M58.7 43.0l2.7 2.7m0 -2.7l-2.7 2.7M47.8 50.0l2.7 2.7m0 -2.7l-2.7 2.7M65.0 52.2l2.7 2.7m0 -2.7l-2.7 2.7M57.0 49.2l2.7 2.7m0 -2.7l-2.7 2.7M39.9 52.3l2.7 2.7m0 -2.7l-2.7 2.7M49.6 46.9l2.7 2.7m0 -2.7l-2.7 2.7M61.9 52.3l2.7 2.7m0 -2.7l-2.7 2.7M61.0 52.8l2.7 2.7m0 -2.7l-2.7 2.7M66.7 43.9l2.7 2.7m0 -2.7l-2.7 2.7M76.0 43.7l2.7 2.7m0 -2.7l-2.7 2.7M83.3 46.6l2.7 2.7m0 -2.7l-2.7 2.7M49.3 52.4l2.7 2.7m0 -2.7l-2.7 2.7M53.5 46.1l2.7 2.7m0 -2.7l-2.7 2.7M54.4 49.1l2.7 2.7m0 -2.7l-2.7 2.7M40.4 45.7l2.7 2.7m0 -2.7l-2.7 2.7M46.5 50.9l2.7 2.7m0 -2.7l-2.7 2.7M39.4 48.4l2.7 2.7m0 -2.7l-2.7 2.7M50.7 46.6l2.7 2.7m0 -2.7l-2.7 2.7M64.1 49.6l2.7 2.7m0 -2.7l-2.7 2.7M45.4 44.1l2.7 2.7m0 -2.7l-2.7 2.7M44.7 52.4l2.7 2.7m0 -2.7l-2.7 2.7M45.9 43.0l2.7 2.7m0 -2.7l-2.7 2.7M62.3 48.1l2.7 2.7m0 -2.7l-2.7 2.7M78.4 42.0l2.7 2.7m0 -2.7l-2.7 2.7M49.7 43.3l2.7 2.7m0 -2.7l-2.7 2.7M65.1 46.6l2.7 2.7m0 -2.7l-2.7 2.7M57.3 51.6l2.7 2.7m0 -2.7l-2.7 2.7M68.5 51.3l2.7 2.7m0 -2.7l-2.7 2.7M81.5 44.5l2.7 2.7m0 -2.7l-2.7 2.7M80.8 46.1l2.7 2.7m0 -2.7l-2.7 2.7M41.6 51.9l2.7 2.7m0 -2.7l-2.7 2.7M43.9 41.6l2.7 2.7m0 -2.7l-2.7 2.7M52.1 44.7l2.7 2.7m0 -2.7l-2.7 2.7M81.9 51.4l2.7 2.7m0 -2.7l-2.7 2.7M57.8 47.5l2.7 2.7m0 -2.7l-2.7 2.7M76.7 50.7l2.7 2.7m0 -2.7l-2.7 2.7M68.1 47.3l2.7 2.7m0 -2.7l-2.7 2.7M44.5 44.2l2.7 2.7m0 -2.7l-2.7 2.7M68.3 48.1l2.7 2.7m0 -2.7l-2.7 2.7M74.6 51.7l2.7 2.7m0 -2.7l-2.7 2.7M81.7 43.6l2.7 2.7m0 -2.7l-2.7 2.7M42.7 51.7l2.7 2.7m0 -2.7l-2.7 2.7M64.4 43.5l2.7 2.7m0 -2.7l-2.7 2.7M69.8 44.3l2.7 2.7m0 -2.7l-2.7 2.7M49.8 45.6l2.7 2.7m0 -2.7l-2.7 2.7M62.4 49.2l2.7 2.7m0 -2.7l-2.7 2.7M42.6 49.9l2.7 2.7m0 -2.7l-2.7 2.7M66.8 46.8l2.7 2.7m0 -2.7l-2.7 2.7M68.9 50.6l2.7 2.7m0 -2.7l-2.7 2.7M39.8 46.8l2.7 2.7m0 -2.7l-2.7 2.7M69.2 49.5l2.7 2.7m0 -2.7l-2.7 2.7M67.8 43.5l2.7 2.7m0 -2.7l-2.7 2.7M81.5 50.4l2.7 2.7m0 -2.7l-2.7 2.7M49.6 46.3l2.7 2.7m0 -2.7l-2.7 2.7M81.5 43.8l2.7 2.7m0 -2.7l-2.7 2.7M57.4 52.4l2.7 2.7m0 -2.7l-2.7 2.7M79.0 44.1l2.7 2.7m0 -2.7l-2.7 2.7M71.7 45.5l2.7 2.7m0 -2.7l-2.7 2.7M68.5 50.2l2.7 2.7m0 -2.7l-2.7 2.7M45.0 43.9l2.7 2.7m0 -2.7l-2.7 2.7M48.8 44.4l2.7 2.7m0 -2.7l-2.7 2.7M40.9 42.9l2.7 2.7m0 -2.7l-2.7 2.7M57.2 46.2l2.7 2.7m0 -2.7l-2.7 2.7M42.8 48.1l2.7 2.7m0 -2.7l-2.7 2.7M80.8 48.0l2.7 2.7m0 -2.7l-2.7 2.7M55.0 49.5l2.7 2.7m0 -2.7l-2.7 2.7M58.6 43.4l2.7 2.7m0 -2.7l-2.7 2.7M60.5 41.6l2.7 2.7m0 -2.7l-2.7 2.7M69.1 43.2l2.7 2.7m0 -2.7l-2.7 2.7M55.6 52.4l2.7 2.7m0 -2.7l-2.7 2.7M73.1 51.0l2.7 2.7m0 -2.7l-2.7 2.7M67.6 48.7l2.7 2.7m0 -2.7l-2.7 2.7M70.4 52.5l2.7 2.7m0 -2.7l-2.7 2.7M48.0 50.2l2.7 2.7m0 -2.7l-2.7 2.7M52.6 44.3l2.7 2.7m0 -2.7l-2.7 2.7M75.5 48.3l2.7 2.7m0 -2.7l-2.7 2.7M76.7 51.4l2.7 2.7m0 -2.7l-2.7 2.7M65.3 43.7l2.7 2.7m0 -2.7l-2.7 2.7M40.0 47.5l2.7 2.7m0 -2.7l-2.7 2.7M71.3 44.5l2.7 2.7m0 -2.7l-2.7 2.7M42.4 41.4l2.7 2.7m0 -2.7l-2.7 2.7M47.0 49.4l2.7 2.7m0 -2.7l-2.7 2.7M39.5 44.0l2.7 2.7m0 -2.7l-2.7 2.7M51.0 49.5l2.7 2.7m0 -2.7l-2.7 2.7M82.8 41.6l2.7 2.7m0 -2.7l-2.7 2.7M44.4 52.1l2.7 2.7m0 -2.7l-2.7 2.7M82.0 43.1l2.7 2.7m0 -2.7l-2.7 2.7M54.1 47.4l2.7 2.7m0 -2.7l-2.7 2.7M53.4 46.2l2.7 2.7m0 -2.7l-2.7 2.7M60.4 44.4l2.7 2.7m0 -2.7l-2.7 2.7M41.8 42.3l2.7 2.7m0 -2.7l-2.7 2.7M46.5 42.4l2.7 2.7m0 -2.7l-2.7 2.7M66.8 49.4l2.7 2.7m0 -2.7l-2.7 2.7M50.9 50.5l2.7 2.7m0 -2.7l-2.7 2.7M71.4 45.3l2.7 2.7m0 -2.7l-2.7 2.7M61.0 43.5l2.7 2.7m0 -2.7l-2.7 2.7M80.2 47.8l2.7 2.7m0 -2.7l-2.7 2.7M41.6 43.2l2.7 2.7m0 -2.7l-2.7 2.7M69.8 45.8l2.7 2.7m0 -2.7l-2.7 2.7M70.9 44.0l2.7 2.7m0 -2.7l-2.7 2.7M74.4 50.6l2.7 2.7m0 -2.7l-2.7 2.7M43.5 48.1l2.7 2.7m0 -2.7l-2.7 2.7M47.8 49.5l2.7 2.7m0 -2.7l-2.7 2.7M74.7 50.5l2.7 2.7m0 -2.7l-2.7 2.7M49.5 42.5l2.7 2.7m0 -2.7l-2.7 2.7M68.5 47.9l2.7 2.7m0 -2.7l-2.7 2.7M45.4 43.6l2.7 2.7m0 -2.7l-2.7 2.7M65.0 42.6l2.7 2.7m0 -2.7l-2.7 2.7M67.2 44.1l2.7 2.7m0 -2.7l-2.7 2.7M50.7 46.2l2.7 2.7m0 -2.7l-2.7 2.7M62.8 49.7l2.7 2.7m0 -2.7l-2.7 2.7M40.7 49.7l2.7 2.7m0 -2.7l-2.7 2.7M49.1 44.7l2.7 2.7m0 -2.7l-2.7 2.7M67.5 49.3l2.7 2.7m0 -2.7l-2.7 2.7M66.4 51.7l2.7 2.7m0 -2.7l-2.7 2.7M48.4 45.0l2.7 2.7m0 -2.7l-2.7 2.7M68.5 44.4l2.7 2.7m0 -2.7l-2.7 2.7M46.3 44.0l2.7 2.7m0 -2.7l-2.7 2.7M73.3 50.9l2.7 2.7m0 -2.7l-2.7 2.7M70.9 52.4l2.7 2.7m0 -2.7l-2.7 2.7M74.3 44.9l2.7 2.7m0 -2.7l-2.7 2.7M53.2 49.7l2.7 2.7m0 -2.7l-2.7 2.7M41.8 48.4l2.7 2.7m0 -2.7l-2.7 2.7M43.3 41.9l2.7 2.7m0 -2.7l-2.7 2.7M62.0 43.1l2.7 2.7m0 -2.7l-2.7 2.7M80.3 51.5l2.7 2.7m0 -2.7l-2.7 2.7M59.7 43.7l2.7 2.7m0 -2.7l-2.7 2.7M44.6 47.2l2.7 2.7m0 -2.7l-2.7 2.7M62.3 45.5l2.7 2.7m0 -2.7l-2.7 2.7M70.9 47.5l2.7 2.7m0 -2.7l-2.7 2.7M73.5 42.6l2.7 2.7m0 -2.7l-2.7 2.7M42.4 45.8l2.7 2.7m0 -2.7l-2.7 2.7M60.6 44.3l2.7 2.7m0 -2.7l-2.7 2.7M68.8 43.9l2.7 2.7m0 -2.7l-2.7 2.7M53.4 46.9l2.7 2.7m0 -2.7l-2.7 2.7M70.7 50.2l2.7 2.7m0 -2.7l-2.7 2.7M55.7 46.5l2.7 2.7m0 -2.7l-2.7 2.7M80.2 52.1l2.7 2.7m0 -2.7l-2.7 2.7M66.6 42.6l2.7 2.7m0 -2.7l-2.7 2.7M59.4 48.7l2.7 2.7m0 -2.7l-2.7 2.7M51.6 41.8l2.7 2.7m0 -2.7l-2.7 2.7M82.5 51.8l2.7 2.7m0 -2.7l-2.7 2.7M45.0 46.7l2.7 2.7m0 -2.7l-2.7 2.7M66.6 44.8l2.7 2.7m0 -2.7l-2.7 2.7M42.4 50.0l2.7 2.7m0 -2.7l-2.7 2.7M73.3 46.4l2.7 2.7m0 -2.7l-2.7 2.7M43.1 45.9l2.7 2.7m0 -2.7l-2.7 2.7M43.5 52.4l2.7 2.7m0 -2.7l-2.7 2.7M41.6 44.7l2.7 2.7m0 -2.7l-2.7 2.7M73.1 42.9l2.7 2.7m0 -2.7l-2.7 2.7M44.0 42.2l2.7 2.7m0 -2.7l-2.7 2.7M46.6 47.5l2.7 2.7m0 -2.7l-2.7 2.7M76.0 43.3l2.7 2.7m0 -2.7l-2.7 2.7M47.0 50.2l2.7 2.7m0 -2.7l-2.7 2.7M58.1 45.3l2.7 2.7m0 -2.7l-2.7 2.7M44.8 44.2l2.7 2.7m0 -2.7l-2.7 2.7M82.1 42.7l2.7 2.7m0 -2.7l-2.7 2.7M50.8 49.9l2.7 2.7m0 -2.7l-2.7 2.7M78.6 51.8l2.7 2.7m0 -2.7l-2.7 2.7M60.2 52.4l2.7 2.7m0 -2.7l-2.7 2.7M65.9 44.7l2.7 2.7m0 -2.7l-2.7 2.7M59.8 49.6l2.7 2.7m0 -2.7l-2.7 2.7M71.6 42.9l2.7 2.7m0 -2.7l-2.7 2.7M47.9 52.4l2.7 2.7m0 -2.7l-2.7 2.7M44.1 50.7l2.7 2.7m0 -2.7l-2.7 2.7M54.3 44.2l2.7 2.7m0 -2.7l-2.7 2.7M50.6 46.8l2.7 2.7m0 -2.7l-2.7 2.7M82.9 43.1l2.7 2.7m0 -2.7l-2.7 2.7M76.9 45.1l2.7 2.7m0 -2.7l-2.7 2.7M47.0 49.9l2.7 2.7m0 -2.7l-2.7 2.7M54.4 43.5l2.7 2.7m0 -2.7l-2.7 2.7M57.8 50.8l2.7 2.7m0 -2.7l-2.7 2.7M77.3 48.0l2.7 2.7m0 -2.7l-2.7 2.7M39.8 50.2l2.7 2.7m0 -2.7l-2.7 2.7M66.0 51.7l2.7 2.7m0 -2.7l-2.7 2.7M81.2 45.1l2.7 2.7m0 -2.7l-2.7 2.7M76.7 50.8l2.7 2.7m0 -2.7l-2.7 2.7M51.1 45.6l2.7 2.7m0 -2.7l-2.7 2.7M55.8 45.4l2.7 2.7m0 -2.7l-2.7 2.7M56.0 42.6l2.7 2.7m0 -2.7l-2.7 2.7M49.3 51.8l2.7 2.7m0 -2.7l-2.7 2.7M57.4 48.7l2.7 2.7m0 -2.7l-2.7 2.7M78.4 50.1l2.7 2.7m0 -2.7l-2.7 2.7M50.1 51.9l2.7 2.7m0 -2.7l-2.7 2.7M74.7 52.8l2.7 2.7m0 -2.7l-2.7 2.7M71.4 50.1l2.7 2.7m0 -2.7l-2.7 2.7M75.1 44.3l2.7 2.7m0 -2.7l-2.7 2.7M68.2 45.8l2.7 2.7m0 -2.7l-2.7 2.7M76.3 42.9l2.7 2.7m0 -2.7l-2.7 2.7M63.1 45.2l2.7 2.7m0 -2.7l-2.7 2.7M75.5 45.3l2.7 2.7m0 -2.7l-2.7 2.7M76.5 51.1l2.7 2.7m0 -2.7l-2.7 2.7M78.0 43.0l2.7 2.7m0 -2.7l-2.7 2.7M80.6 49.9l2.7 2.7m0 -2.7l-2.7 2.7M69.1 48.9l2.7 2.7m0 -2.7l-2.7 2.7M41.5 51.4l2.7 2.7m0 -2.7l-2.7 2.7M63.5 46.6l2.7 2.7m0 -2.7l-2.7 2.7M54.3 50.4l2.7 2.7m0 -2.7l-2.7 2.7M73.8 51.4l2.7 2.7m0 -2.7l-2.7 2.7M48.8 45.3l2.7 2.7m0 -2.7l-2.7 2.7M50.3 42.5l2.7 2.7m0 -2.7l-2.7 2.7M53.7 41.7l2.7 2.7m0 -2.7l-2.7 2.7M74.4 44.0l2.7 2.7m0 -2.7l-2.7 2.7M42.5 42.2l2.7 2.7m0 -2.7l-2.7 2.7M72.0 43.7l2.7 2.7m0 -2.7l-2.7 2.7M59.7 46.0l2.7 2.7m0 -2.7l-2.7 2.7M74.7 52.3l2.7 2.7m0 -2.7l-2.7 2.7M53.0 48.6l2.7 2.7m0 -2.7l-2.7 2.7M78.7 46.8l2.7 2.7m0 -2.7l-2.7 2.7M78.9 49.8l2.7 2.7m0 -2.7l-2.7 2.7M53.1 51.4l2.7 2.7m0 -2.7l-2.7 2.7M64.6 42.6l2.7 2.7m0 -2.7l-2.7 2.7M65.2 50.9l2.7 2.7m0 -2.7l-2.7 2.7M62.2 46.9l2.7 2.7m0 -2.7l-2.7 2.7M57.7 51.5l2.7 2.7m0 -2.7l-2.7 2.7M68.6 43.8l2.7 2.7m0 -2.7l-2.7 2.7M55.3 45.6l2.7 2.7m0 -2.7l-2.7 2.7M81.5 49.4l2.7 2.7m0 -2.7l-2.7 2.7M44.8 51.9l2.7 2.7m0 -2.7l-2.7 2.7M40.9 48.2l2.7 2.7m0 -2.7l-2.7 2.7M58.4 49.6l2.7 2.7m0 -2.7l-2.7 2.7M58.2 42.4l2.7 2.7m0 -2.7l-2.7 2.7M62.4 50.8l2.7 2.7m0 -2.7l-2.7 2.7M74.1 45.5l2.7 2.7m0 -2.7l-2.7 2.7M49.1 49.9l2.7 2.7m0 -2.7l-2.7 2.7M74.6 43.9l2.7 2.7m0 -2.7l-2.7 2.7M78.2 52.8l2.7 2.7m0 -2.7l-2.7 2.7M58.4 45.8l2.7 2.7m0 -2.7l-2.7 2.7M70.6 52.1l2.7 2.7m0 -2.7l-2.7 2.7M48.2 44.8l2.7 2.7m0 -2.7l-2.7 2.7M53.8 49.8l2.7 2.7m0 -2.7l-2.7 2.7M47.6 47.7l2.7 2.7m0 -2.7l-2.7 2.7M61.4 49.1l2.7 2.7m0 -2.7l-2.7 2.7M45.7 52.4l2.7 2.7m0 -2.7l-2.7 2.7M83.3 47.8l2.7 2.7m0 -2.7l-2.7 2.7M74.3 43.5l2.7 2.7m0 -2.7l-2.7 2.7M79.4 47.7l2.7 2.7m0 -2.7l-2.7 2.7M72.8 51.4l2.7 2.7m0 -2.7l-2.7 2.7M55.3 52.0l2.7 2.7m0 -2.7l-2.7 2.7M48.5 41.7l2.7 2.7m0 -2.7l-2.7 2.7M61.5 51.7l2.7 2.7m0 -2.7l-2.7 2.7M79.0 52.3l2.7 2.7m0 -2.7l-2.7 2.7M61.8 52.1l2.7 2.7m0 -2.7l-2.7 2.7M64.0 43.0l2.7 2.7m0 -2.7l-2.7 2.7M67.1 50.6l2.7 2.7m0 -2.7l-2.7 2.7M58.0 48.3l2.7 2.7m0 -2.7l-2.7 2.7M50.8 44.6l2.7 2.7m0 -2.7l-2.7 2.7M57.8 47.3l2.7 2.7m0 -2.7l-2.7 2.7M60.0 42.4l2.7 2.7m0 -2.7l-2.7 2.7M39.6 45.3l2.7 2.7m0 -2.7l-2.7 2.7M70.9 50.0l2.7 2.7m0 -2.7l-2.7 2.7M49.8 44.3l2.7 2.7m0 -2.7l-2.7 2.7M62.1 43.4l2.7 2.7m0 -2.7l-2.7 2.7M65.9 51.8l2.7 2.7m0 -2.7l-2.7 2.7M48.2 48.1l2.7 2.7m0 -2.7l-2.7 2.7M71.1 50.0l2.7 2.7m0 -2.7l-2.7 2.7M70.7 49.5l2.7 2.7m0 -2.7l-2.7 2.7M51.3 51.0l2.7 2.7m0 -2.7l-2.7 2.7M80.1 42.0l2.7 2.7m0 -2.7l-2.7 2.7M80.9 46.5l2.7 2.7m0 -2.7l-2.7 2.7M43.1 42.2l2.7 2.7m0 -2.7l-2.7 2.7M74.4 49.2l2.7 2.7m0 -2.7l-2.7 2.7M45.6 46.7l2.7 2.7m0 -2.7l-2.7 2.7M67.5 52.8l2.7 2.7m0 -2.7l-2.7 2.7M54.1 50.2l2.7 2.7m0 -2.7l-2.7 2.7M50.1 43.7l2.7 2.7m0 -2.7l-2.7 2.7M46.4 46.1l2.7 2.7m0 -2.7l-2.7 2.7M66.6 44.9l2.7 2.7m0 -2.7l-2.7 2.7M46.5 43.9l2.7 2.7m0 -2.7l-2.7 2.7M43.1 43.6l2.7 2.7m0 -2.7l-2.7 2.7M53.2 47.2l2.7 2.7m0 -2.7l-2.7 2.7M47.4 46.9l2.7 2.7m0 -2.7l-2.7 2.7M58.7 52.6l2.7 2.7m0 -2.7l-2.7 2.7M60.7 52.2l2.7 2.7m0 -2.7l-2.7 2.7M60.1 43.7l2.7 2.7m0 -2.7l-2.7 2.7M65.4 43.0l2.7 2.7m0 -2.7l-2.7 2.7M46.8 42.2l2.7 2.7m0 -2.7l-2.7 2.7M70.2 52.5l2.7 2.7m0 -2.7l-2.7 2.7M57.1 45.4l2.7 2.7m0 -2.7l-2.7 2.7M58.1 45.4l2.7 2.7m0 -2.7l-2.7 2.7M69.7 45.9l2.7 2.7m0 -2.7l-2.7 2.7M46.1 51.3l2.7 2.7m0 -2.7l-2.7 2.7M64.5 41.5l2.7 2.7m0 -2.7l-2.7 2.7M76.7 49.7l2.7 2.7m0 -2.7l-2.7 2.7M54.9 48.6l2.7 2.7m0 -2.7l-2.7 2.7M79.8 46.0l2.7 2.7m0 -2.7l-2.7 2.7M58.4 44.8l2.7 2.7m0 -2.7l-2.7 2.7M63.7 49.0l2.7 2.7m0 -2.7l-2.7 2.7M71.7 52.3l2.7 2.7m0 -2.7l-2.7 2.7M45.7 45.6l2.7 2.7m0 -2.7l-2.7 2.7M76.8 50.5l2.7 2.7m0 -2.7l-2.7 2.7M65.3 49.2l2.7 2.7m0 -2.7l-2.7 2.7M54.3 52.2l2.7 2.7m0 -2.7l-2.7 2.7M63.5 46.0l2.7 2.7m0 -2.7l-2.7 2.7M47.4 42.7l2.7 2.7m0 -2.7l-2.7 2.7M78.8 50.6l2.7 2.7m0 -2.7l-2.7 2.7M40.5 45.1l2.7 2.7m0 -2.7l-2.7 2.7M60.5 47.1l2.7 2.7m0 -2.7l-2.7 2.7M55.3 51.7l2.7 2.7m0 -2.7l-2.7 2.7M54.7 47.5l2.7 2.7m0 -2.7l-2.7 2.7M80.2 48.7l2.7 2.7m0 -2.7l-2.7 2.7M60.3 45.2l2.7 2.7m0 -2.7l-2.7 2.7M56.4 48.4l2.7 2.7m0 -2.7l-2.7 2.7M73.9 44.4l2.7 2.7m0 -2.7l-2.7 2.7M55.7 45.8l2.7 2.7m0 -2.7l-2.7 2.7M55.3 51.9l2.7 2.7m0 -2.7l-2.7 2.7M63.1 44.6l2.7 2.7m0 -2.7l-2.7 2.7M54.0 50.8l2.7 2.7m0 -2.7l-2.7 2.7M46.4 49.3l2.7 2.7m0 -2.7l-2.7 2.7M40.3 43.6l2.7 2.7m0 -2.7l-2.7 2.7M42.0 50.6l2.7 2.7m0 -2.7l-2.7 2.7M45.8 44.0l2.7 2.7m0 -2.7l-2.7 2.7M41.9 44.4l2.7 2.7m0 -2.7l-2.7 2.7M71.6 49.7l2.7 2.7m0 -2.7l-2.7 2.7M79.4 52.3l2.7 2.7m0 -2.7l-2.7 2.7M63.6 52.0l2.7 2.7m0 -2.7l-2.7 2.7M43.3 52.0l2.7 2.7m0 -2.7l-2.7 2.7M58.4 43.6l2.7 2.7m0 -2.7l-2.7 2.7M72.3 51.2l2.7 2.7m0 -2.7l-2.7 2.7M56.3 42.5l2.7 2.7m0 -2.7l-2.7 2.7M77.8 50.0l2.7 2.7m0 -2.7l-2.7 2.7M65.6 52.6l2.7 2.7m0 -2.7l-2.7 2.7M41.0 42.0l2.7 2.7m0 -2.7l-2.7 2.7M44.8 41.6l2.7 2.7m0 -2.7l-2.7 2.7M70.5 48.6l2.7 2.7m0 -2.7l-2.7 2.7M44.3 43.2l2.7 2.7m0 -2.7l-2.7 2.7M47.3 48.4l2.7 2.7m0 -2.7l-2.7 2.7M68.9 52.5l2.7 2.7m0 -2.7l-2.7 2.7M55.2 52.6l2.7 2.7m0 -2.7l-2.7 2.7M58.5 45.9l2.7 2.7m0 -2.7l-2.7 2.7M50.5 44.1l2.7 2.7m0 -2.7l-2.7 2.7M82.2 52.8l2.7 2.7m0 -2.7l-2.7 2.7M70.4 43.4l2.7 2.7m0 -2.7l-2.7 2.7M47.3 43.1l2.7 2.7m0 -2.7l-2.7 2.7M54.8 49.8l2.7 2.7m0 -2.7l-2.7 2.7M41.9 47.5l2.7 2.7m0 -2.7l-2.7 2.7M69.3 41.8l2.7 2.7m0 -2.7l-2.7 2.7M58.7 50.5l2.7 2.7m0 -2.7l-2.7 2.7M64.7 46.6l2.7 2.7m0 -2.7l-2.7 2.7M78.1 48.3l2.7 2.7m0 -2.7l-2.7 2.7M54.2 45.9l2.7 2.7m0 -2.7l-2.7 2.7M80.9 51.3l2.7 2.7m0 -2.7l-2.7 2.7M79.6 47.8l2.7 2.7m0 -2.7l-2.7 2.7M45.6 43.4l2.7 2.7m0 -2.7l-2.7 2.7M56.2 49.3l2.7 2.7m0 -2.7l-2.7 2.7M39.6 50.6l2.7 2.7m0 -2.7l-2.7 2.7M73.9 47.3l2.7 2.7m0 -2.7l-2.7 2.7M39.6 50.5l2.7 2.7m0 -2.7l-2.7 2.7M57.6 49.1l2.7 2.7m0 -2.7l-2.7 2.7M64.4 49.7l2.7 2.7m0 -2.7l-2.7 2.7M57.3 52.4l2.7 2.7m0 -2.7l-2.7 2.7M81.4 52.1l2.7 2.7m0 -2.7l-2.7 2.7M66.4 45.0l2.7 2.7m0 -2.7l-2.7 2.7M55.9 44.5l2.7 2.7m0 -2.7l-2.7 2.7M79.1 50.5l2.7 2.7m0 -2.7l-2.7 2.7M74.0 50.8l2.7 2.7m0 -2.7l-2.7 2.7M82.9 49.3l2.7 2.7m0 -2.7l-2.7 2.7M53.4 50.1l2.7 2.7m0 -2.7l-2.7 2.7M50.9 48.4l2.7 2.7m0 -2.7l-2.7 2.7M46.3 51.2l2.7 2.7m0 -2.7l-2.7 2.7M60.9 44.5l2.7 2.7m0 -2.7l-2.7 2.7M80.0 42.3l2.7 2.7m0 -2.7l-2.7 2.7M80.3 50.1l2.7 2.7m0 -2.7l-2.7 2.7M45.9 50.1l2.7 2.7m0 -2.7l-2.7 2.7M64.6 51.8l2.7 2.7m0 -2.7l-2.7 2.7M65.2 46.3l2.7 2.7m0 -2.7l-2.7 2.7M80.4 42.4l2.7 2.7m0 -2.7l-2.7 2.7M73.5 42.6l2.7 2.7m0 -2.7l-2.7 2.7M51.5 42.7l2.7 2.7m0 -2.7l-2.7 2.7M77.7 46.5l2.7 2.7m0 -2.7l-2.7 2.7M71.3 44.3l2.7 2.7m0 -2.7l-2.7 2.7M71.5 48.8l2.7 2.7m0 -2.7l-2.7 2.7M43.6 47.1l2.7 2.7m0 -2.7l-2.7 2.7M71.1 43.8l2.7 2.7m0 -2.7l-2.7 2.7M68.1 44.6l2.7 2.7m0 -2.7l-2.7 2.7M55.7 51.9l2.7 2.7m0 -2.7l-2.7 2.7M80.8 52.8l2.7 2.7m0 -2.7l-2.7 2.7M58.1 47.9l2.7 2.7m0 -2.7l-2.7 2.7M74.9 50.1l2.7 2.7m0 -2.7l-2.7 2.7M59.4 51.3l2.7 2.7m0 -2.7l-2.7 2.7M57.0 52.3l2.7 2.7m0 -2.7l-2.7 2.7M60.2 42.7l2.7 2.7m0 -2.7l-2.7 2.7M72.3 43.0l2.7 2.7m0 -2.7l-2.7 2.7M69.3 42.0l2.7 2.7m0 -2.7l-2.7 2.7M82.8 47.6l2.7 2.7m0 -2.7l-2.7 2.7M71.9 42.9l2.7 2.7m0 -2.7l-2.7 2.7M67.4 45.7l2.7 2.7m0 -2.7l-2.7 2.7M50.3 50.7l2.7 2.7m0 -2.7l-2.7 2.7M40.8 46.9l2.7 2.7m0 -2.7l-2.7 2.7M43.2 51.2l2.7 2.7m0 -2.7l-2.7 2.7M78.7 41.8l2.7 2.7m0 -2.7l-2.7 2.7M59.8 46.8l2.7 2.7m0 -2.7l-2.7 2.7M71.0 49.8l2.7 2.7m0 -2.7l-2.7 2.7M54.5 52.1l2.7 2.7m0 -2.7l-2.7 2.7M47.5 43.0l2.7 2.7m0 -2.7l-2.7 2.7M75.2 42.8l2.7 2.7m0 -2.7l-2.7 2.7M47.5 47.1l2.7 2.7m0 -2.7l-2.7 2.7M54.1 43.3l2.7 2.7m0 -2.7l-2.7 2.7M80.3 46.8l2.7 2.7m0 -2.7l-2.7 2.7M73.9 44.3l2.7 2.7m0 -2.7l-2.7 2.7M79.5 43.9l2.7 2.7m0 -2.7l-2.7 2.7M79.2 48.4l2.7 2.7m0 -2.7l-2.7 2.7M82.1 50.2l2.7 2.7m0 -2.7l-2.7 2.7M67.1 47.5l2.7 2.7m0 -2.7l-2.7 2.7M77.0 46.5l2.7 2.7m0 -2.7l-2.7 2.7M43.7 51.9l2.7 2.7m0 -2.7l-2.7 2.7M74.8 49.2l2.7 2.7m0 -2.7l-2.7 2.7M72.1 44.0l2.7 2.7m0 -2.7l-2.7 2.7M59.7 50.8l2.7 2.7m0 -2.7l-2.7 2.7M81.7 52.0l2.7 2.7m0 -2.7l-2.7 2.7M46.4 49.2l2.7 2.7m0 -2.7l-2.7 2.7M63.7 46.0l2.7 2.7m0 -2.7l-2.7 2.7M46.7 43.0l2.7 2.7m0 -2.7l-2.7 2.7M60.0 47.0l2.7 2.7m0 -2.7l-2.7 2.7M51.1 45.6l2.7 2.7m0 -2.7l-2.7 2.7M63.7 50.1l2.7 2.7m0 -2.7l-2.7 2.7M65.3 43.2l2.7 2.7m0 -2.7l-2.7 2.7M78.3 45.6l2.7 2.7m0 -2.7l-2.7 2.7M81.6 52.7l2.7 2.7m0 -2.7l-2.7 2.7M45.5 48.1l2.7 2.7m0 -2.7l-2.7 2.7M81.9 45.8l2.7 2.7m0 -2.7l-2.7 2.7M63.4 45.0l2.7 2.7m0 -2.7l-2.7 2.7M40.6 43.7l2.7 2.7m0 -2.7l-2.7 2.7M44.8 44.6l2.7 2.7m0 -2.7l-2.7 2.7M67.0 47.8l2.7 2.7m0 -2.7l-2.7 2.7M81.1 49.3l2.7 2.7m0 -2.7l-2.7 2.7M55.3 52.3l2.7 2.7m0 -2.7l-2.7 2.7M67.2 47.6l2.7 2.7m0 -2.7l-2.7 2.7M77.3 49.1l2.7 2.7m0 -2.7l-2.7 2.7M55.2 48.3l2.7 2.7m0 -2.7l-2.7 2.7M52.6 52.5l2.7 2.7m0 -2.7l-2.7 2.7M50.1 52.6l2.7 2.7m0 -2.7l-2.7 2.7M42.2 41.5l2.7 2.7m0 -2.7l-2.7 2.7M63.7 43.7l2.7 2.7m0 -2.7l-2.7 2.7M61.7 42.7l2.7 2.7m0 -2.7l-2.7 2.7M76.2 49.1l2.7 2.7m0 -2.7l-2.7 2.7M69.5 52.0l2.7 2.7m0 -2.7l-2.7 2.7M83.0 49.2l2.7 2.7m0 -2.7l-2.7 2.7M70.7 41.4l2.7 2.7m0 -2.7l-2.7 2.7M41.5 46.3l2.7 2.7m0 -2.7l-2.7 2.7M82.0 45.0l2.7 2.7m0 -2.7l-2.7 2.7M64.4 41.5l2.7 2.7m0 -2.7l-2.7 2.7M57.6 51.7l2.7 2.7m0 -2.7l-2.7 2.7M65.3 50.8l2.7 2.7m0 -2.7l-2.7 2.7M39.9 43.7l2.7 2.7m0 -2.7l-2.7 2.7M47.2 50.9l2.7 2.7m0 -2.7l-2.7 2.7M43.8 52.1l2.7 2.7m0 -2.7l-2.7 2.7M51.1 51.5l2.7 2.7m0 -2.7l-2.7 2.7M62.0 45.1l2.7 2.7m0 -2.7l-2.7 2.7M81.9 46.0l2.7 2.7m0 -2.7l-2.7 2.7M70.0 42.2l2.7 2.7m0 -2.7l-2.7 2.7M75.9 52.7l2.7 2.7m0 -2.7l-2.7 2.7M44.2 50.0l2.7 2.7m0 -2.7l-2.7 2.7M51.2 43.1l2.7 2.7m0 -2.7l-2.7 2.7M55.4 49.0l2.7 2.7m0 -2.7l-2.7 2.7M81.3 52.8l2.7 2.7m0 -2.7l-2.7 2.7M83.1 48.5l2.7 2.7m0 -2.7l-2.7 2.7M68.1 43.2l2.7 2.7m0 -2.7l-2.7 2.7M71.3 47.7l2.7 2.7m0 -2.7l-2.7 2.7M55.1 51.7l2.7 2.7m0 -2.7l-2.7 2.7M50.6 43.0l2.7 2.7m0 -2.7l-2.7 2.7M46.3 43.1l2.7 2.7m0 -2.7l-2.7 2.7M65.2 50.6l2.7 2.7m0 -2.7l-2.7 2.7M46.4 47.2l2.7 2.7m0 -2.7l-2.7 2.7M64.6 47.8l2.7 2.7m0 -2.7l-2.7 2.7M57.5 47.6l2.7 2.7m0 -2.7l-2.7 2.7M40.0 42.1l2.7 2.7m0 -2.7l-2.7 2.7M57.9 44.1l2.7 2.7m0 -2.7l-2.7 2.7M72.7 44.2l2.7 2.7m0 -2.7l-2.7 2.7M75.6 44.2l2.7 2.7m0 -2.7l-2.7 2.7M43.4 46.9l2.7 2.7m0 -2.7l-2.7 2.7M56.4 45.2l2.7 2.7m0 -2.7l-2.7 2.7M73.0 43.9l2.7 2.7m0 -2.7l-2.7 2.7M68.8 51.0l2.7 2.7m0 -2.7l-2.7 2.7M59.3 47.2l2.7 2.7m0 -2.7l-2.7 2.7M80.0 48.3l2.7 2.7m0 -2.7l-2.7 2.7M47.3 42.2l2.7 2.7m0 -2.7l-2.7 2.7M43.0 45.2l2.7 2.7m0 -2.7l-2.7 2.7M43.3 48.8l2.7 2.7m0 -2.7l-2.7 2.7M58.0 44.9l2.7 2.7m0 -2.7l-2.7 2.7M61.9 52.1l2.7 2.7m0 -2.7l-2.7 2.7M50.1 43.2l2.7 2.7m0 -2.7l-2.7 2.7M52.8 45.1l2.7 2.7m0 -2.7l-2.7 2.7M79.4 49.5l2.7 2.7m0 -2.7l-2.7 2.7M58.2 43.3l2.7 2.7m0 -2.7l-2.7 2.7M41.3 42.8l2.7 2.7m0 -2.7l-2.7 2.7M76.6 48.8l2.7 2.7m0 -2.7l-2.7 2.7M46.2 48.6l2.7 2.7m0 -2.7l-2.7 2.7M41.9 47.2l2.7 2.7m0 -2.7l-2.7 2.7M54.1 42.6l2.7 2.7m0 -2.7l-2.7 2.7M72.0 49.6l2.7 2.7m0 -2.7l-2.7 2.7M61.8 43.3l2.7 2.7m0 -2.7l-2.7 2.7M68.8 46.4l2.7 2.7m0 -2.7l-2.7 2.7M68.4 42.4l2.7 2.7m0 -2.7l-2.7 2.7M79.1 41.4l2.7 2.7m0 -2.7l-2.7 2.7M49.1 46.0l2.7 2.7m0 -2.7l-2.7 2.7M48.1 42.4l2.7 2.7m0 -2.7l-2.7 2.7M69.6 52.8l2.7 2.7m0 -2.7l-2.7 2.7M54.1 44.4l2.7 2.7m0 -2.7l-2.7 2.7M68.9 43.9l2.7 2.7m0 -2.7l-2.7 2.7M57.0 49.3l2.7 2.7m0 -2.7l-2.7 2.7M58.3 43.2l2.7 2.7m0 -2.7l-2.7 2.7M42.5 47.6l2.7 2.7m0 -2.7l-2.7 2.7M82.9 51.9l2.7 2.7m0 -2.7l-2.7 2.7M43.7 47.2l2.7 2.7m0 -2.7l-2.7 2.7M60.8 43.6l2.7 2.7m0 -2.7l-2.7 2.7M68.8 47.1l2.7 2.7m0 -2.7l-2.7 2.7M74.9 44.7l2.7 2.7m0 -2.7l-2.7 2.7M80.4 50.7l2.7 2.7m0 -2.7l-2.7 2.7M60.2 43.0l2.7 2.7m0 -2.7l-2.7 2.7M60.6 42.8l2.7 2.7m0 -2.7l-2.7 2.7M69.5 49.4l2.7 2.7m0 -2.7l-2.7 2.7M64.8 52.6l2.7 2.7m0 -2.7l-2.7 2.7M41.3 49.6l2.7 2.7m0 -2.7l-2.7 2.7M74.6 42.7l2.7 2.7m0 -2.7l-2.7 2.7M53.5 42.0l2.7 2.7m0 -2.7l-2.7 2.7M65.0 49.7l2.7 2.7m0 -2.7l-2.7 2.7M54.7 49.4l2.7 2.7m0 -2.7l-2.7 2.7M55.5 49.6l2.7 2.7m0 -2.7l-2.7 2.7M51.5 52.6l2.7 2.7m0 -2.7l-2.7 2.7M58.6 41.4l2.7 2.7m0 -2.7l-2.7 2.7M43.4 49.7l2.7 2.7m0 -2.7l-2.7 2.7M77.4 48.7l2.7 2.7m0 -2.7l-2.7 2.7M46.2 51.4l2.7 2.7m0 -2.7l-2.7 2.7M70.9 42.7l2.7 2.7m0 -2.7l-2.7 2.7M56.1 49.1l2.7 2.7m0 -2.7l-2.7 2.7M39.5 41.9l2.7 2.7m0 -2.7l-2.7 2.7M54.9 51.4l2.7 2.7m0 -2.7l-2.7 2.7M83.2 45.0l2.7 2.7m0 -2.7l-2.7 2.7M79.3 50.4l2.7 2.7m0 -2.7l-2.7 2.7M77.4 48.1l2.7 2.7m0 -2.7l-2.7 2.7M82.0 48.8l2.7 2.7m0 -2.7l-2.7 2.7M81.1 47.9l2.7 2.7m0 -2.7l-2.7 2.7M48.0 47.3l2.7 2.7m0 -2.7l-2.7 2.7M60.6 45.3l2.7 2.7m0 -2.7l-2.7 2.7M55.8 47.2l2.7 2.7m0 -2.7l-2.7 2.7M65.2 43.9l2.7 2.7m0 -2.7l-2.7 2.7M51.6 47.2l2.7 2.7m0 -2.7l-2.7 2.7M61.5 46.2l2.7 2.7m0 -2.7l-2.7 2.7M68.6 43.5l2.7 2.7m0 -2.7l-2.7 2.7M62.8 44.6l2.7 2.7m0 -2.7l-2.7 2.7M73.2 49.5l2.7 2.7m0 -2.7l-2.7 2.7M73.7 47.3l2.7 2.7m0 -2.7l-2.7 2.7M50.3 52.0l2.7 2.7m0 -2.7l-2.7 2.7M61.8 45.7l2.7 2.7m0 -2.7l-2.7 2.7M52.1 46.0l2.7 2.7m0 -2.7l-2.7 2.7M70.5 50.8l2.7 2.7m0 -2.7l-2.7 2.7M60.6 49.8l2.7 2.7m0 -2.7l-2.7 2.7M48.7 46.6l2.7 2.7m0 -2.7l-2.7 2.7M55.1 44.9l2.7 2.7m0 -2.7l-2.7 2.7M55.2 50.1l2.7 2.7m0 -2.7l-2.7 2.7M71.6 43.8l2.7 2.7m0 -2.7l-2.7 2.7M49.6 50.4l2.7 2.7m0 -2.7l-2.7 2.7M68.2 49.1l2.7 2.7m0 -2.7l-2.7 2.7M67.3 49.3l2.7 2.7m0 -2.7l-2.7 2.7M51.4 42.1l2.7 2.7m0 -2.7l-2.7 2.7M55.2 41.8l2.7 2.7m0 -2.7l-2.7 2.7M81.7 47.4l2.7 2.7m0 -2.7l-2.7 2.7M68.8 52.5l2.7 2.7m0 -2.7l-2.7 2.7M74.7 44.0l2.7 2.7m0 -2.7l-2.7 2.7M54.2 42.6l2.7 2.7m0 -2.7l-2.7 2.7M74.4 49.8l2.7 2.7m0 -2.7l-2.7 2.7M60.8 45.6l2.7 2.7m0 -2.7l-2.7 2.7M51.2 47.0l2.7 2.7m0 -2.7l-2.7 2.7M70.7 51.7l2.7 2.7m0 -2.7l-2.7 2.7M76.7 51.3l2.7 2.7m0 -2.7l-2.7 2.7M58.7 46.2l2.7 2.7m0 -2.7l-2.7 2.7M53.2 52.6l2.7 2.7m0 -2.7l-2.7 2.7M47.4 43.2l2.7 2.7m0 -2.7l-2.7 2.7M51.7 52.0l2.7 2.7m0 -2.7l-2.7 2.7M76.9 45.2l2.7 2.7m0 -2.7l-2.7 2.7M76.8 51.6l2.7 2.7m0 -2.7l-2.7 2.7M58.1 43.6l2.7 2.7m0 -2.7l-2.7 2.7M73.4 45.7l2.7 2.7m0 -2.7l-2.7 2.7M44.6 51.8l2.7 2.7m0 -2.7l-2.7 2.7M58.7 45.9l2.7 2.7m0 -2.7l-2.7 2.7M65.5 44.3l2.7 2.7m0 -2.7l-2.7 2.7M40.2 45.9l2.7 2.7m0 -2.7l-2.7 2.7M56.0 41.5l2.7 2.7m0 -2.7l-2.7 2.7M55.7 50.1l2.7 2.7m0 -2.7l-2.7 2.7M54.0 49.2l2.7 2.7m0 -2.7l-2.7 2.7M66.8 43.5l2.7 2.7m0 -2.7l-2.7 2.7M40.2 49.1l2.7 2.7m0 -2.7l-2.7 2.7M66.2 44.8l2.7 2.7m0 -2.7l-2.7 2.7M48.2 51.2l2.7 2.7m0 -2.7l-2.7 2.7M79.4 44.1l2.7 2.7m0 -2.7l-2.7 2.7M65.1 48.0l2.7 2.7m0 -2.7l-2.7 2.7M53.5 41.8l2.7 2.7m0 -2.7l-2.7 2.7M53.7 48.8l2.7 2.7m0 -2.7l-2.7 2.7M65.8 47.2l2.7 2.7m0 -2.7l-2.7 2.7M44.7 43.8l2.7 2.7m0 -2.7l-2.7 2.7M53.0 46.2l2.7 2.7m0 -2.7l-2.7 2.7M55.3 51.7l2.7 2.7m0 -2.7l-2.7 2.7M44.5 52.7l2.7 2.7m0 -2.7l-2.7 2.7M49.9 51.2l2.7 2.7m0 -2.7l-2.7 2.7M50.1 48.1l2.7 2.7m0 -2.7l-2.7 2.7M55.9 41.8l2.7 2.7m0 -2.7l-2.7 2.7M74.4 50.7l2.7 2.7m0 -2.7l-2.7 2.7M51.2 50.3l2.7 2.7m0 -2.7l-2.7 2.7M60.4 52.7l2.7 2.7m0 -2.7l-2.7 2.7M41.7 45.8l2.7 2.7m0 -2.7l-2.7 2.7M49.4 48.6l2.7 2.7m0 -2.7l-2.7 2.7M73.6 51.1l2.7 2.7m0 -2.7l-2.7 2.7M63.5 45.8l2.7 2.7m0 -2.7l-2.7 2.7M74.5 42.6l2.7 2.7m0 -2.7l-2.7 2.7M50.8 50.0l2.7 2.7m0 -2.7l-2.7 2.7M58.7 52.8l2.7 2.7m0 -2.7l-2.7 2.7M43.4 46.7l2.7 2.7m0 -2.7l-2.7 2.7M48.7 41.4l2.7 2.7m0 -2.7l-2.7 2.7M43.5 42.4l2.7 2.7m0 -2.7l-2.7 2.7M55.6 46.4l2.7 2.7m0 -2.7l-2.7 2.7M61.7 44.7l2.7 2.7m0 -2.7l-2.7 2.7M70.2 47.3l2.7 2.7m0 -2.7l-2.7 2.7M82.6 43.3l2.7 2.7m0 -2.7l-2.7 2.7M61.8 47.1l2.7 2.7m0 -2.7l-2.7 2.7M55.7 51.3l2.7 2.7m0 -2.7l-2.7 2.7M48.6 51.5l2.7 2.7m0 -2.7l-2.7 2.7M55.1 45.2l2.7 2.7m0 -2.7l-2.7 2.7M66.4 47.9l2.7 2.7m0 -2.7l-2.7 2.7M51.8 42.4l2.7 2.7m0 -2.7l-2.7 2.7M81.4 45.6l2.7 2.7m0 -2.7l-2.7 2.7M44.4 48.9l2.7 2.7m0 -2.7l-2.7 2.7M62.8 45.1l2.7 2.7m0 -2.7l-2.7 2.7M53.8 51.1l2.7 2.7m0 -2.7l-2.7 2.7M54.2 46.2l2.7 2.7m0 -2.7l-2.7 2.7M81.5 45.5l2.7 2.7m0 -2.7l-2.7 2.7M57.0 43.2l2.7 2.7m0 -2.7l-2.7 2.7M68.5 49.0l2.7 2.7m0 -2.7l-2.7 2.7M59.0 46.0l2.7 2.7m0 -2.7l-2.7 2.7M49.6 50.5l2.7 2.7m0 -2.7l-2.7 2.7M59.5 50.9l2.7 2.7m0 -2.7l-2.7 2.7M55.8 49.8l2.7 2.7m0 -2.7l-2.7 2.7M40.6 43.9l2.7 2.7m0 -2.7l-2.7 2.7M81.6 49.2l2.7 2.7m0 -2.7l-2.7 2.7M69.1 47.1l2.7 2.7m0 -2.7l-2.7 2.7M60.1 43.7l2.7 2.7m0 -2.7l-2.7 2.7M47.0 48.8l2.7 2.7m0 -2.7l-2.7 2.7M69.9 44.4l2.7 2.7m0 -2.7l-2.7 2.7M67.7 42.9l2.7 2.7m0 -2.7l-2.7 2.7M66.3 43.4l2.7 2.7m0 -2.7l-2.7 2.7M61.8 45.0l2.7 2.7m0 -2.7l-2.7 2.7M63.6 42.9l2.7 2.7m0 -2.7l-2.7 2.7M60.6 48.5l2.7 2.7m0 -2.7l-2.7 2.7M45.3 44.9l2.7 2.7m0 -2.7l-2.7 2.7M69.2 47.7l2.7 2.7m0 -2.7l-2.7 2.7M66.5 50.3l2.7 2.7m0 -2.7l-2.7 2.7M64.5 43.9l2.7 2.7m0 -2.7l-2.7 2.7M58.8 50.9l2.7 2.7m0 -2.7l-2.7 2.7M64.3 50.0l2.7 2.7m0 -2.7l-2.7 2.7M55.4 46.5l2.7 2.7m0 -2.7l-2.7 2.7M82.0 50.8l2.7 2.7m0 -2.7l-2.7 2.7M68.1 42.6l2.7 2.7m0 -2.7l-2.7 2.7M66.3 41.8l2.7 2.7m0 -2.7l-2.7 2.7M80.4 52.5l2.7 2.7m0 -2.7l-2.7 2.7M71.4 44.5l2.7 2.7m0 -2.7l-2.7 2.7M76.6 43.4l2.7 2.7m0 -2.7l-2.7 2.7M75.8 47.4l2.7 2.7m0 -2.7l-2.7 2.7M40.0 51.6l2.7 2.7m0 -2.7l-2.7 2.7M58.7 50.9l2.7 2.7m0 -2.7l-2.7 2.7M69.6 47.5l2.7 2.7m0 -2.7l-2.7 2.7M77.3 43.7l2.7 2.7m0 -2.7l-2.7 2.7M78.9 45.3l2.7 2.7m0 -2.7l-2.7 2.7M40.5 45.2l2.7 2.7m0 -2.7l-2.7 2.7M42.3 42.2l2.7 2.7m0 -2.7l-2.7 2.7M66.8 42.8l2.7 2.7m0 -2.7l-2.7 2.7M46.4 44.7l2.7 2.7m0 -2.7l-2.7 2.7M51.6 51.9l2.7 2.7m0 -2.7l-2.7 2.7M79.2 51.4l2.7 2.7m0 -2.7l-2.7 2.7M82.9 46.4l2.7 2.7m0 -2.7l-2.7 2.7M74.4 44.6l2.7 2.7m0 -2.7l-2.7 2.7M80.1 50.7l2.7 2.7m0 -2.7l-2.7 2.7M71.6 44.0l2.7 2.7m0 -2.7l-2.7 2.7M43.4 52.0l2.7 2.7m0 -2.7l-2.7 2.7M63.6 48.4l2.7 2.7m0 -2.7l-2.7 2.7M77.3 43.0l2.7 2.7m0 -2.7l-2.7 2.7M70.1 46.7l2.7 2.7m0 -2.7l-2.7 2.7M73.9 46.6l2.7 2.7m0 -2.7l-2.7 2.7M48.0 52.4l2.7 2.7m0 -2.7l-2.7 2.7M51.7 49.9l2.7 2.7m0 -2.7l-2.7 2.7M75.9 44.2l2.7 2.7m0 -2.7l-2.7 2.7M69.9 45.9l2.7 2.7m0 -2.7l-2.7 2.7M49.2 43.9l2.7 2.7m0 -2.7l-2.7 2.7M81.3 45.6l2.7 2.7m0 -2.7l-2.7 2.7M61.8 47.1l2.7 2.7m0 -2.7l-2.7 2.7M40.5 50.0l2.7 2.7m0 -2.7l-2.7 2.7M72.1 51.4l2.7 2.7m0 -2.7l-2.7 2.7M55.1 43.8l2.7 2.7m0 -2.7l-2.7 2.7M54.6 49.8l2.7 2.7m0 -2.7l-2.7 2.7M68.3 46.0l2.7 2.7m0 -2.7l-2.7 2.7M62.4 43.2l2.7 2.7m0 -2.7l-2.7 2.7M79.8 46.8l2.7 2.7m0 -2.7l-2.7 2.7M61.6 50.4l2.7 2.7m0 -2.7l-2.7 2.7M48.1 49.7l2.7 2.7m0 -2.7l-2.7 2.7M54.9 50.7l2.7 2.7m0 -2.7l-2.7 2.7M43.5 44.6l2.7 2.7m0 -2.7l-2.7 2.7M67.3 46.9l2.7 2.7m0 -2.7l-2.7 2.7M55.9 48.0l2.7 2.7m0 -2.7l-2.7 2.7M48.9 46.4l2.7 2.7m0 -2.7l-2.7 2.7M39.4 50.6l2.7 2.7m0 -2.7l-2.7 2.7M50.5 50.9l2.7 2.7m0 -2.7l-2.7 2.7M63.6 48.3l2.7 2.7m0 -2.7l-2.7 2.7M66.9 42.8l2.7 2.7m0 -2.7l-2.7 2.7M73.5 44.7l2.7 2.7m0 -2.7l-2.7 2.7M77.3 50.4l2.7 2.7m0 -2.7l-2.7 2.7M69.2 50.7l2.7 2.7m0 -2.7l-2.7 2.7M58.6 49.1l2.7 2.7m0 -2.7l-2.7 2.7M81.3 43.6l2.7 2.7m0 -2.7l-2.7 2.7M43.8 46.1l2.7 2.7m0 -2.7l-2.7 2.7M61.8 43.1l2.7 2.7m0 -2.7l-2.7 2.7M49.1 51.3l2.7 2.7m0 -2.7l-2.7 2.7M56.4 43.1l2.7 2.7m0 -2.7l-2.7 2.7M47.4 48.0l2.7 2.7m0 -2.7l-2.7 2.7M47.7 46.8l2.7 2.7m0 -2.7l-2.7 2.7M63.0 46.4l2.7 2.7m0 -2.7l-2.7 2.7M61.5 51.0l2.7 2.7m0 -2.7l-2.7 2.7M40.1 52.1l2.7 2.7m0 -2.7l-2.7 2.7M48.1 41.8l2.7 2.7m0 -2.7l-2.7 2.7M73.1 47.9l2.7 2.7m0 -2.7l-2.7 2.7M63.0 43.9l2.7 2.7m0 -2.7l-2.7 2.7M73.7 44.9l2.7 2.7m0 -2.7l-2.7 2.7M71.3 44.0l2.7 2.7m0 -2.7l-2.7 2.7M64.6 48.8l2.7 2.7m0 -2.7l-2.7 2.7M55.7 46.9l2.7 2.7m0 -2.7l-2.7 2.7M42.2 48.8l2.7 2.7m0 -2.7l-2.7 2.7M69.8 43.1l2.7 2.7m0 -2.7l-2.7 2.7M63.6 49.8l2.7 2.7m0 -2.7l-2.7 2.7M43.8 51.0l2.7 2.7m0 -2.7l-2.7 2.7M77.6 42.0l2.7 2.7m0 -2.7l-2.7 2.7M50.3 42.3l2.7 2.7m0 -2.7l-2.7 2.7M50.5 42.4l2.7 2.7m0 -2.7l-2.7 2.7M60.9 44.3l2.7 2.7m0 -2.7l-2.7 2.7M52.6 46.7l2.7 2.7m0 -2.7l-2.7 2.7M55.7 50.4l2.7 2.7m0 -2.7l-2.7 2.7M71.1 42.7l2.7 2.7m0 -2.7l-2.7 2.7M49.2 41.5l2.7 2.7m0 -2.7l-2.7 2.7M53.8 42.6l2.7 2.7m0 -2.7l-2.7 2.7M70.0 50.3l2.7 2.7m0 -2.7l-2.7 2.7M83.2 43.8l2.7 2.7m0 -2.7l-2.7 2.7M41.0 50.1l2.7 2.7m0 -2.7l-2.7 2.7M57.5 52.1l2.7 2.7m0 -2.7l-2.7 2.7M56.6 45.0l2.7 2.7m0 -2.7l-2.7 2.7M42.5 52.3l2.7 2.7m0 -2.7l-2.7 2.7M61.9 46.4l2.7 2.7m0 -2.7l-2.7 2.7M58.6 50.2l2.7 2.7m0 -2.7l-2.7 2.7M75.9 46.8l2.7 2.7m0 -2.7l-2.7 2.7M47.2 46.0l2.7 2.7m0 -2.7l-2.7 2.7M78.6 46.1l2.7 2.7m0 -2.7l-2.7 2.7M68.4 47.8l2.7 2.7m0 -2.7l-2.7 2.7M59.6 48.0l2.7 2.7m0 -2.7l-2.7 2.7M50.1 47.8l2.7 2.7m0 -2.7l-2.7 2.7M77.4 42.3l2.7 2.7m0 -2.7l-2.7 2.7M55.6 51.5l2.7 2.7m0 -2.7l-2.7 2.7M82.4 41.5l2.7 2.7m0 -2.7l-2.7 2.7M66.9 48.6l2.7 2.7m0 -2.7l-2.7 2.7M76.4 46.8l2.7 2.7m0 -2.7l-2.7 2.7M45.1 44.8l2.7 2.7m0 -2.7l-2.7 2.7M70.7 49.7l2.7 2.7m0 -2.7l-2.7 2.7M48.4 48.8l2.7 2.7m0 -2.7l-2.7 2.7M68.2 48.9l2.7 2.7m0 -2.7l-2.7 2.7M40.3 46.5l2.7 2.7m0 -2.7l-2.7 2.7M53.6 48.2l2.7 2.7m0 -2.7l-2.7 2.7M54.2 42.9l2.7 2.7m0 -2.7l-2.7 2.7M68.8 44.7l2.7 2.7m0 -2.7l-2.7 2.7M74.1 44.9l2.7 2.7m0 -2.7l-2.7 2.7M63.4 50.7l2.7 2.7m0 -2.7l-2.7 2.7M44.4 49.8l2.7 2.7m0 -2.7l-2.7 2.7M42.3 52.1l2.7 2.7m0 -2.7l-2.7 2.7M40.5 49.7l2.7 2.7m0 -2.7l-2.7 2.7M55.6 43.4l2.7 2.7m0 -2.7l-2.7 2.7M56.7 47.1l2.7 2.7m0 -2.7l-2.7 2.7M57.6 42.8l2.7 2.7m0 -2.7l-2.7 2.7M62.4 44.8l2.7 2.7m0 -2.7l-2.7 2.7M81.9 45.8l2.7 2.7m0 -2.7l-2.7 2.7M58.5 44.0l2.7 2.7m0 -2.7l-2.7 2.7M82.0 45.1l2.7 2.7m0 -2.7l-2.7 2.7M67.8 50.9l2.7 2.7m0 -2.7l-2.7 2.7M56.7 50.1l2.7 2.7m0 -2.7l-2.7 2.7M51.6 42.6l2.7 2.7m0 -2.7l-2.7 2.7M41.2 46.5l2.7 2.7m0 -2.7l-2.7 2.7M77.8 43.7l2.7 2.7m0 -2.7l-2.7 2.7M58.7 50.1l2.7 2.7m0 -2.7l-2.7 2.7M51.5 43.1l2.7 2.7m0 -2.7l-2.7 2.7M62.2 46.3l2.7 2.7m0 -2.7l-2.7 2.7M80.6 51.7l2.7 2.7m0 -2.7l-2.7 2.7M49.8 47.8l2.7 2.7m0 -2.7l-2.7 2.7M57.7 41.8l2.7 2.7m0 -2.7l-2.7 2.7M58.9 51.9l2.7 2.7m0 -2.7l-2.7 2.7M52.7 48.1l2.7 2.7m0 -2.7l-2.7 2.7M70.6 42.1l2.7 2.7m0 -2.7l-2.7 2.7M80.0 42.6l2.7 2.7m0 -2.7l-2.7 2.7M52.6 49.6l2.7 2.7m0 -2.7l-2.7 2.7M40.2 45.7l2.7 2.7m0 -2.7l-2.7 2.7M44.9 46.8l2.7 2.7m0 -2.7l-2.7 2.7M40.0 43.1l2.7 2.7m0 -2.7l-2.7 2.7M49.1 42.3l2.7 2.7m0 -2.7l-2.7 2.7M43.3 43.6l2.7 2.7m0 -2.7l-2.7 2.7M62.1 43.0l2.7 2.7m0 -2.7l-2.7 2.7M75.5 46.2l2.7 2.7m0 -2.7l-2.7 2.7M50.4 44.2l2.7 2.7m0 -2.7l-2.7 2.7M76.3 41.9l2.7 2.7m0 -2.7l-2.7 2.7M72.0 42.5l2.7 2.7m0 -2.7l-2.7 2.7M80.9 46.1l2.7 2.7m0 -2.7l-2.7 2.7M65.6 51.3l2.7 2.7m0 -2.7l-2.7 2.7M43.8 42.1l2.7 2.7m0 -2.7l-2.7 2.7M69.9 48.1l2.7 2.7m0 -2.7l-2.7 2.7M71.1 44.6l2.7 2.7m0 -2.7l-2.7 2.7M61.2 43.5l2.7 2.7m0 -2.7l-2.7 2.7M58.6 44.6l2.7 2.7m0 -2.7l-2.7 2.7M65.1 44.8l2.7 2.7m0 -2.7l-2.7 2.7M51.4 48.8l2.7 2.7m0 -2.7l-2.7 2.7M43.1 50.6l2.7 2.7m0 -2.7l-2.7 2.7M61.2 44.0l2.7 2.7m0 -2.7l-2.7 2.7M44.4 47.2l2.7 2.7m0 -2.7l-2.7 2.7M61.5 49.6l2.7 2.7m0 -2.7l-2.7 2.7M55.8 46.1l2.7 2.7m0 -2.7l-2.7 2.7M78.6 44.5l2.7 2.7m0 -2.7l-2.7 2.7M82.5 51.6l2.7 2.7m0 -2.7l-2.7 2.7M82.9 52.2l2.7 2.7m0 -2.7l-2.7 2.7M50.7 50.7l2.7 2.7m0 -2.7l-2.7 2.7M66.3 43.7l2.7 2.7m0 -2.7l-2.7 2.7M83.2 48.8l2.7 2.7m0 -2.7l-2.7 2.7M75.0 47.8l2.7 2.7m0 -2.7l-2.7 2.7M42.8 51.3l2.7 2.7m0 -2.7l-2.7 2.7M47.1 44.4l2.7 2.7m0 -2.7l-2.7 2.7M66.5 43.6l2.7 2.7m0 -2.7l-2.7 2.7M59.7 49.6l2.7 2.7m0 -2.7l-2.7 2.7M43.6 49.0l2.7 2.7m0 -2.7l-2.7 2.7M43.9 46.8l2.7 2.7m0 -2.7l-2.7 2.7M67.9 49.3l2.7 2.7m0 -2.7l-2.7 2.7M41.2 43.6l2.7 2.7m0 -2.7l-2.7 2.7M81.6 45.9l2.7 2.7m0 -2.7l-2.7 2.7M58.0 45.7l2.7 2.7m0 -2.7l-2.7 2.7M70.0 49.9l2.7 2.7m0 -2.7l-2.7 2.7M68.0 46.0l2.7 2.7m0 -2.7l-2.7 2.7M64.4 47.3l2.7 2.7m0 -2.7l-2.7 2.7M47.6 52.3l2.7 2.7m0 -2.7l-2.7 2.7M81.8 50.3l2.7 2.7m0 -2.7l-2.7 2.7M83.0 46.7l2.7 2.7m0 -2.7l-2.7 2.7M76.3 44.1l2.7 2.7m0 -2.7l-2.7 2.7M72.0 49.6l2.7 2.7m0 -2.7l-2.7 2.7M80.6 51.0l2.7 2.7m0 -2.7l-2.7 2.7M78.0 44.5l2.7 2.7m0 -2.7l-2.7 2.7M74.0 46.8l2.7 2.7m0 -2.7l-2.7 2.7M53.1 45.6l2.7 2.7m0 -2.7l-2.7 2.7M74.5 51.1l2.7 2.7m0 -2.7l-2.7 2.7M76.5 49.1l2.7 2.7m0 -2.7l-2.7 2.7M46.8 43.2l2.7 2.7m0 -2.7l-2.7 2.7M64.3 43.8l2.7 2.7m0 -2.7l-2.7 2.7M54.2 42.6l2.7 2.7m0 -2.7l-2.7 2.7M46.2 49.6l2.7 2.7m0 -2.7l-2.7 2.7M49.2 51.1l2.7 2.7m0 -2.7l-2.7 2.7M53.8 51.1l2.7 2.7m0 -2.7l-2.7 2.7M52.7 44.5l2.7 2.7m0 -2.7l-2.7 2.7M56.7 41.5l2.7 2.7m0 -2.7l-2.7 2.7M58.5 45.7l2.7 2.7m0 -2.7l-2.7 2.7M39.9 51.3l2.7 2.7m0 -2.7l-2.7 2.7M55.9 41.4l2.7 2.7m0 -2.7l-2.7 2.7M81.6 44.0l2.7 2.7m0 -2.7l-2.7 2.7M50.5 41.7l2.7 2.7m0 -2.7l-2.7 2.7M43.7 49.5l2.7 2.7m0 -2.7l-2.7 2.7M65.0 47.2l2.7 2.7m0 -2.7l-2.7 2.7M50.2 44.7l2.7 2.7m0 -2.7l-2.7 2.7M82.0 45.7l2.7 2.7m0 -2.7l-2.7 2.7M82.9 51.6l2.7 2.7m0 -2.7l-2.7 2.7M44.8 51.1l2.7 2.7m0 -2.7l-2.7 2.7M40.3 49.5l2.7 2.7m0 -2.7l-2.7 2.7M75.0 49.4l2.7 2.7m0 -2.7l-2.7 2.7M63.5 50.7l2.7 2.7m0 -2.7l-2.7 2.7M46.1 47.6l2.7 2.7m0 -2.7l-2.7 2.7M51.0 46.0l2.7 2.7m0 -2.7l-2.7 2.7M47.8 49.5l2.7 2.7m0 -2.7l-2.7 2.7M64.6 50.3l2.7 2.7m0 -2.7l-2.7 2.7M67.0 48.3l2.7 2.7m0 -2.7l-2.7 2.7M79.9 50.7l2.7 2.7m0 -2.7l-2.7 2.7M64.3 45.1l2.7 2.7m0 -2.7l-2.7 2.7M80.2 45.6l2.7 2.7m0 -2.7l-2.7 2.7M43.8 45.2l2.7 2.7m0 -2.7l-2.7 2.7M70.4 52.1l2.7 2.7m0 -2.7l-2.7 2.7M67.8 49.0l2.7 2.7m0 -2.7l-2.7 2.7M80.6 50.3l2.7 2.7m0 -2.7l-2.7 2.7M58.9 46.7l2.7 2.7m0 -2.7l-2.7 2.7M72.8 45.0l2.7 2.7m0 -2.7l-2.7 2.7M44.2 48.5l2.7 2.7m0 -2.7l-2.7 2.7M74.9 44.2l2.7 2.7m0 -2.7l-2.7 2.7M69.4 51.6l2.7 2.7m0 -2.7l-2.7 2.7M45.0 42.9l2.7 2.7m0 -2.7l-2.7 2.7M61.0 45.2l2.7 2.7m0 -2.7l-2.7 2.7M81.1 52.8l2.7 2.7m0 -2.7l-2.7 2.7M59.0 50.5l2.7 2.7m0 -2.7l-2.7 2.7M67.1 43.4l2.7 2.7m0 -2.7l-2.7 2.7M82.1 43.4l2.7 2.7m0 -2.7l-2.7 2.7M42.7 46.6l2.7 2.7m0 -2.7l-2.7 2.7M40.1 46.9l2.7 2.7m0 -2.7l-2.7 2.7M57.5 52.3l2.7 2.7m0 -2.7l-2.7 2.7M57.6 51.1l2.7 2.7m0 -2.7l-2.7 2.7M73.7 48.1l2.7 2.7m0 -2.7l-2.7 2.7M49.8 44.9l2.7 2.7m0 -2.7l-2.7 2.7M61.0 45.9l2.7 2.7m0 -2.7l-2.7 2.7M67.8 47.2l2.7 2.7m0 -2.7l-2.7 2.7M53.6 48.4l2.7 2.7m0 -2.7l-2.7 2.7M83.2 43.7l2.7 2.7m0 -2.7l-2.7 2.7M54.1 41.5l2.7 2.7m0 -2.7l-2.7 2.7M43.5 42.0l2.7 2.7m0 -2.7l-2.7 2.7M58.0 51.0l2.7 2.7m0 -2.7l-2.7 2.7M70.0 52.5l2.7 2.7m0 -2.7l-2.7 2.7M76.2 48.1l2.7 2.7m0 -2.7l-2.7 2.7M64.9 41.5l2.7 2.7m0 -2.7l-2.7 2.7M56.2 44.4l2.7 2.7m0 -2.7l-2.7 2.7M66.7 42.1l2.7 2.7m0 -2.7l-2.7 2.7M63.2 45.7l2.7 2.7m0 -2.7l-2.7 2.7M61.0 46.0l2.7 2.7m0 -2.7l-2.7 2.7M43.8 49.8l2.7 2.7m0 -2.7l-2.7 2.7M74.6 48.3l2.7 2.7m0 -2.7l-2.7 2.7M44.4 48.3l2.7 2.7m0 -2.7l-2.7 2.7M77.7 52.7l2.7 2.7m0 -2.7l-2.7 2.7M72.7 41.9l2.7 2.7m0 -2.7l-2.7 2.7M78.0 49.0l2.7 2.7m0 -2.7l-2.7 2.7M51.5 51.9l2.7 2.7m0 -2.7l-2.7 2.7M75.7 51.7l2.7 2.7m0 -2.7l-2.7 2.7M50.2 48.0l2.7 2.7m0 -2.7l-2.7 2.7M56.0 44.8l2.7 2.7m0 -2.7l-2.7 2.7M72.8 48.5l2.7 2.7m0 -2.7l-2.7 2.7M53.9 47.6l2.7 2.7m0 -2.7l-2.7 2.7M80.2 47.9l2.7 2.7m0 -2.7l-2.7 2.7M79.5 47.9l2.7 2.7m0 -2.7l-2.7 2.7M83.0 41.7l2.7 2.7m0 -2.7l-2.7 2.7M59.6 47.7l2.7 2.7m0 -2.7l-2.7 2.7M71.3 52.5l2.7 2.7m0 -2.7l-2.7 2.7M66.8 46.9l2.7 2.7m0 -2.7l-2.7 2.7M67.3 47.5l2.7 2.7m0 -2.7l-2.7 2.7M70.4 52.3l2.7 2.7m0 -2.7l-2.7 2.7M40.0 45.1l2.7 2.7m0 -2.7l-2.7 2.7M77.9 42.1l2.7 2.7m0 -2.7l-2.7 2.7M74.1 41.7l2.7 2.7m0 -2.7l-2.7 2.7M67.9 50.6l2.7 2.7m0 -2.7l-2.7 2.7M49.8 45.8l2.7 2.7m0 -2.7l-2.7 2.7M49.3 49.5l2.7 2.7m0 -2.7l-2.7 2.7M62.6 48.3l2.7 2.7m0 -2.7l-2.7 2.7M53.7 48.1l2.7 2.7m0 -2.7l-2.7 2.7M81.3 50.3l2.7 2.7m0 -2.7l-2.7 2.7M81.2 44.2l2.7 2.7m0 -2.7l-2.7 2.7M62.1 45.8l2.7 2.7m0 -2.7l-2.7 2.7M54.6 50.6l2.7 2.7m0 -2.7l-2.7 2.7M47.0 47.8l2.7 2.7m0 -2.7l-2.7 2.7M73.4 52.1l2.7 2.7m0 -2.7l-2.7 2.7M40.2 44.5l2.7 2.7m0 -2.7l-2.7 2.7M61.0 52.1l2.7 2.7m0 -2.7l-2.7 2.7M46.5 51.0l2.7 2.7m0 -2.7l-2.7 2.7M56.8 47.7l2.7 2.7m0 -2.7l-2.7 2.7M80.2 42.1l2.7 2.7m0 -2.7l-2.7 2.7M53.8 43.2l2.7 2.7m0 -2.7l-2.7 2.7M45.2 44.9l2.7 2.7m0 -2.7l-2.7 2.7M70.2 48.0l2.7 2.7m0 -2.7l-2.7 2.7M44.7 50.6l2.7 2.7m0 -2.7l-2.7 2.7M61.7 43.0l2.7 2.7m0 -2.7l-2.7 2.7M75.4 50.8l2.7 2.7m0 -2.7l-2.7 2.7M48.9 52.2l2.7 2.7m0 -2.7l-2.7 2.7M75.0 44.0l2.7 2.7m0 -2.7l-2.7 2.7M39.4 51.3l2.7 2.7m0 -2.7l-2.7 2.7M75.7 42.5l2.7 2.7m0 -2.7l-2.7 2.7M73.1 50.3l2.7 2.7m0 -2.7l-2.7 2.7M67.2 50.9l2.7 2.7m0 -2.7l-2.7 2.7M82.7 45.1l2.7 2.7m0 -2.7l-2.7 2.7M76.0 52.0l2.7 2.7m0 -2.7l-2.7 2.7M53.1 49.2l2.7 2.7m0 -2.7l-2.7 2.7M69.5 51.1l2.7 2.7m0 -2.7l-2.7 2.7M64.3 44.5l2.7 2.7m0 -2.7l-2.7 2.7M50.4 47.6l2.7 2.7m0 -2.7l-2.7 2.7M45.3 51.3l2.7 2.7m0 -2.7l-2.7 2.7M78.5 44.2l2.7 2.7m0 -2.7l-2.7 2.7M70.0 49.1l2.7 2.7m0 -2.7l-2.7 2.7M44.7 50.3l2.7 2.7m0 -2.7l-2.7 2.7M73.1 44.9l2.7 2.7m0 -2.7l-2.7 2.7M43.7 44.6l2.7 2.7m0 -2.7l-2.7 2.7M73.3 46.7l2.7 2.7m0 -2.7l-2.7 2.7M75.2 43.2l2.7 2.7m0 -2.7l-2.7 2.7M44.0 45.4l2.7 2.7m0 -2.7l-2.7 2.7M78.1 43.2l2.7 2.7m0 -2.7l-2.7 2.7M42.6 50.0l2.7 2.7m0 -2.7l-2.7 2.7M43.4 49.1l2.7 2.7m0 -2.7l-2.7 2.7M43.0 44.2l2.7 2.7m0 -2.7l-2.7 2.7M68.5 51.4l2.7 2.7m0 -2.7l-2.7 2.7M57.4 46.5l2.7 2.7m0 -2.7l-2.7 2.7M40.7 45.3l2.7 2.7m0 -2.7l-2.7 2.7M50.0 50.4l2.7 2.7m0 -2.7l-2.7 2.7M70.8 50.4l2.7 2.7m0 -2.7l-2.7 2.7M62.7 49.4l2.7 2.7m0 -2.7l-2.7 2.7M44.9 45.8l2.7 2.7m0 -2.7l-2.7 2.7M52.2 44.6l2.7 2.7m0 -2.7l-2.7 2.7M71.9 43.8l2.7 2.7m0 -2.7l-2.7 2.7M53.7 44.6l2.7 2.7m0 -2.7l-2.7 2.7M77.4 48.7l2.7 2.7m0 -2.7l-2.7 2.7M60.5 45.7l2.7 2.7m0 -2.7l-2.7 2.7M79.9 52.2l2.7 2.7m0 -2.7l-2.7 2.7M59.1 47.9l2.7 2.7m0 -2.7l-2.7 2.7M77.3 44.3l2.7 2.7m0 -2.7l-2.7 2.7M50.7 42.6l2.7 2.7m0 -2.7l-2.7 2.7M61.4 50.2l2.7 2.7m0 -2.7l-2.7 2.7M46.2 46.3l2.7 2.7m0 -2.7l-2.7 2.7M82.9 46.9l2.7 2.7m0 -2.7l-2.7 2.7M56.2 51.0l2.7 2.7m0 -2.7l-2.7 2.7M78.6 45.7l2.7 2.7m0 -2.7l-2.7 2.7M44.8 48.7l2.7 2.7m0 -2.7l-2.7 2.7M71.9 52.0l2.7 2.7m0 -2.7l-2.7 2.7M68.4 44.9l2.7 2.7m0 -2.7l-2.7 2.7M62.0 44.7l2.7 2.7m0 -2.7l-2.7 2.7M59.0 46.8l2.7 2.7m0 -2.7l-2.7 2.7M79.5 51.8l2.7 2.7m0 -2.7l-2.7 2.7M80.1 46.9l2.7 2.7m0 -2.7l-2.7 2.7M81.8 43.0l2.7 2.7m0 -2.7l-2.7 2.7M79.9 48.7l2.7 2.7m0 -2.7l-2.7 2.7M77.7 46.1l2.7 2.7m0 -2.7l-2.7 2.7M82.9 41.7l2.7 2.7m0 -2.7l-2.7 2.7M76.7 50.8l2.7 2.7m0 -2.7l-2.7 2.7M55.8 50.9l2.7 2.7m0 -2.7l-2.7 2.7M48.8 50.0l2.7 2.7m0 -2.7l-2.7 2.7M60.0 46.1l2.7 2.7m0 -2.7l-2.7 2.7M48.0 50.6l2.7 2.7m0 -2.7l-2.7 2.7M71.5 42.4l2.7 2.7m0 -2.7l-2.7 2.7M82.4 43.9l2.7 2.7m0 -2.7l-2.7 2.7M55.9 46.1l2.7 2.7m0 -2.7l-2.7 2.7M64.7 51.6l2.7 2.7m0 -2.7l-2.7 2.7M80.9 48.7l2.7 2.7m0 -2.7l-2.7 2.7M55.4 42.6l2.7 2.7m0 -2.7l-2.7 2.7M42.4 47.3l2.7 2.7m0 -2.7l-2.7 2.7M65.0 46.5l2.7 2.7m0 -2.7l-2.7 2.7M82.6 46.1l2.7 2.7m0 -2.7l-2.7 2.7M71.8 43.4l2.7 2.7m0 -2.7l-2.7 2.7M102.9 47.6l2.7 2.7m0 -2.7l-2.7 2.7M67.4 45.0l2.7 2.7m0 -2.7l-2.7 2.7M78.7 52.6l2.7 2.7m0 -2.7l-2.7 2.7M71.0 42.0l2.7 2.7m0 -2.7l-2.7 2.7M60.9 50.4l2.7 2.7m0 -2.7l-2.7 2.7M85.3 50.3l2.7 2.7m0 -2.7l-2.7 2.7M80.7 47.5l2.7 2.7m0 -2.7l-2.7 2.7M44.0 49.0l2.7 2.7m0 -2.7l-2.7 2.7M83.6 51.9l2.7 2.7m0 -2.7l-2.7 2.7M85.4 42.2l2.7 2.7m0 -2.7l-2.7 2.7M90.3 44.0l2.7 2.7m0 -2.7l-2.7 2.7M62.5 41.8l2.7 2.7m0 -2.7l-2.7 2.7M96.3 44.6l2.7 2.7m0 -2.7l-2.7 2.7M67.4 43.5l2.7 2.7m0 -2.7l-2.7 2.7M82.5 46.6l2.7 2.7m0 -2.7l-2.7 2.7M83.3 50.6l2.7 2.7m0 -2.7l-2.7 2.7M92.0 45.9l2.7 2.7m0 -2.7l-2.7 2.7M70.2 52.6l2.7 2.7m0 -2.7l-2.7 2.7M89.7 48.7l2.7 2.7m0 -2.7l-2.7 2.7M58.1 44.0l2.7 2.7m0 -2.7l-2.7 2.7M73.6 46.5l2.7 2.7m0 -2.7l-2.7 2.7M108.5 49.6l2.7 2.7m0 -2.7l-2.7 2.7M61.6 49.5l2.7 2.7m0 -2.7l-2.7 2.7M83.1 45.4l2.7 2.7m0 -2.7l-2.7 2.7M95.0 50.7l2.7 2.7m0 -2.7l-2.7 2.7M95.4 52.7l2.7 2.7m0 -2.7l-2.7 2.7M78.3 41.7l2.7 2.7m0 -2.7l-2.7 2.7M78.2 50.2l2.7 2.7m0 -2.7l-2.7 2.7M61.1 50.4l2.7 2.7m0 -2.7l-2.7 2.7M94.6 47.0l2.7 2.7m0 -2.7l-2.7 2.7M74.7 43.9l2.7 2.7m0 -2.7l-2.7 2.7M58.2 44.4l2.7 2.7m0 -2.7l-2.7 2.7M99.6 48.7l2.7 2.7m0 -2.7l-2.7 2.7M89.3 49.1l2.7 2.7m0 -2.7l-2.7 2.7M71.1 48.2l2.7 2.7m0 -2.7l-2.7 2.7M77.2 45.0l2.7 2.7m0 -2.7l-2.7 2.7M57.3 45.4l2.7 2.7m0 -2.7l-2.7 2.7M93.9 43.4l2.7 2.7m0 -2.7l-2.7 2.7M73.8 50.0l2.7 2.7m0 -2.7l-2.7 2.7M49.5 44.3l2.7 2.7m0 -2.7l-2.7 2.7M71.8 51.5l2.7 2.7m0 -2.7l-2.7 2.7M89.4 50.0l2.7 2.7m0 -2.7l-2.7 2.7M91.9 44.3l2.7 2.7m0 -2.7l-2.7 2.7M119.4 41.5l2.7 2.7m0 -2.7l-2.7 2.7M66.7 43.7l2.7 2.7m0 -2.7l-2.7 2.7M96.1 41.7l2.7 2.7m0 -2.7l-2.7 2.7M86.4 41.5l2.7 2.7m0 -2.7l-2.7 2.7M87.3 43.8l2.7 2.7m0 -2.7l-2.7 2.7M60.2 42.8l2.7 2.7m0 -2.7l-2.7 2.7M57.5 48.0l2.7 2.7m0 -2.7l-2.7 2.7M70.6 47.4l2.7 2.7m0 -2.7l-2.7 2.7M102.2 45.3l2.7 2.7m0 -2.7l-2.7 2.7M110.9 47.8l2.7 2.7m0 -2.7l-2.7 2.7M72.9 42.9l2.7 2.7m0 -2.7l-2.7 2.7M101.5 42.5l2.7 2.7m0 -2.7l-2.7 2.7M115.4 41.8l2.7 2.7m0 -2.7l-2.7 2.7M77.9 47.5l2.7 2.7m0 -2.7l-2.7 2.7M88.1 47.1l2.7 2.7m0 -2.7l-2.7 2.7M74.4 48.6l2.7 2.7m0 -2.7l-2.7 2.7M99.6 43.5l2.7 2.7m0 -2.7l-2.7 2.7M69.6 44.5l2.7 2.7m0 -2.7l-2.7 2.7M50.6 47.4l2.7 2.7m0 -2.7l-2.7 2.7M81.3 42.5l2.7 2.7m0 -2.7l-2.7 2.7M102.2 42.8l2.7 2.7m0 -2.7l-2.7 2.7M81.7 46.8l2.7 2.7m0 -2.7l-2.7 2.7M91.5 46.0l2.7 2.7m0 -2.7l-2.7 2.7M92.8 52.5l2.7 2.7m0 -2.7l-2.7 2.7M83.8 47.7l2.7 2.7m0 -2.7l-2.7 2.7M82.2 51.1l2.7 2.7m0 -2.7l-2.7 2.7M103.3 48.3l2.7 2.7m0 -2.7l-2.7 2.7M85.5 42.6l2.7 2.7m0 -2.7l-2.7 2.7M102.5 45.0l2.7 2.7m0 -2.7l-2.7 2.7M84.8 50.0l2.7 2.7m0 -2.7l-2.7 2.7M82.2 45.8l2.7 2.7m0 -2.7l-2.7 2.7M92.2 50.7l2.7 2.7m0 -2.7l-2.7 2.7M75.4 41.7l2.7 2.7m0 -2.7l-2.7 2.7M62.4 51.3l2.7 2.7m0 -2.7l-2.7 2.7M85.1 52.6l2.7 2.7m0 -2.7l-2.7 2.7M119.3 42.3l2.7 2.7m0 -2.7l-2.7 2.7M99.5 48.3l2.7 2.7m0 -2.7l-2.7 2.7M80.6 46.4l2.7 2.7m0 -2.7l-2.7 2.7M99.0 44.5l2.7 2.7m0 -2.7l-2.7 2.7M81.1 44.5l2.7 2.7m0 -2.7l-2.7 2.7M47.0 52.8l2.7 2.7m0 -2.7l-2.7 2.7M78.2 43.1l2.7 2.7m0 -2.7l-2.7 2.7M104.5 48.1l2.7 2.7m0 -2.7l-2.7 2.7M62.8 52.3l2.7 2.7m0 -2.7l-2.7 2.7M57.9 42.0l2.7 2.7m0 -2.7l-2.7 2.7M83.9 52.3l2.7 2.7m0 -2.7l-2.7 2.7M105.2 41.9l2.7 2.7m0 -2.7l-2.7 2.7M88.9 47.0l2.7 2.7m0 -2.7l-2.7 2.7M67.7 50.6l2.7 2.7m0 -2.7l-2.7 2.7M83.2 46.2l2.7 2.7m0 -2.7l-2.7 2.7M60.5 46.7l2.7 2.7m0 -2.7l-2.7 2.7M90.3 51.6l2.7 2.7m0 -2.7l-2.7 2.7M82.4 52.7l2.7 2.7m0 -2.7l-2.7 2.7M48.7 45.2l2.7 2.7m0 -2.7l-2.7 2.7M57.3 46.2l2.7 2.7m0 -2.7l-2.7 2.7M81.3 46.9l2.7 2.7m0 -2.7l-2.7 2.7M105.2 49.8l2.7 2.7m0 -2.7l-2.7 2.7M83.0 49.8l2.7 2.7m0 -2.7l-2.7 2.7M72.0 48.2l2.7 2.7m0 -2.7l-2.7 2.7M77.8 45.3l2.7 2.7m0 -2.7l-2.7 2.7M107.7 52.6l2.7 2.7m0 -2.7l-2.7 2.7M53.3 42.6l2.7 2.7m0 -2.7l-2.7 2.7M101.1 48.8l2.7 2.7m0 -2.7l-2.7 2.7M93.2 47.8l2.7 2.7m0 -2.7l-2.7 2.7M104.7 48.9l2.7 2.7m0 -2.7l-2.7 2.7M84.6 50.1l2.7 2.7m0 -2.7l-2.7 2.7M67.9 46.3l2.7 2.7m0 -2.7l-2.7 2.7M75.2 47.8l2.7 2.7m0 -2.7l-2.7 2.7M71.0 46.3l2.7 2.7m0 -2.7l-2.7 2.7M97.0 42.4l2.7 2.7m0 -2.7l-2.7 2.7M71.8 45.9l2.7 2.7m0 -2.7l-2.7 2.7M83.3 45.6l2.7 2.7m0 -2.7l-2.7 2.7M49.6 51.4l2.7 2.7m0 -2.7l-2.7 2.7M89.5 46.7l2.7 2.7m0 -2.7l-2.7 2.7M54.9 51.6l2.7 2.7m0 -2.7l-2.7 2.7M83.4 44.3l2.7 2.7m0 -2.7l-2.7 2.7" stroke="#3582c4" stroke-width="1.1"/>
<path d="M62.5 47.9C70.4 47.9 93.8 47.9 110.0 47.9C126.2 47.9 143.2 48.0 160.0 48.0C176.8 48.0 198.3 48.3 211.0 48.0C223.7 47.7 227.8 46.9 236.3 46.3C244.8 45.7 253.4 45.0 261.8 44.2C270.2 43.4 280.6 42.0 287.0 41.5C293.4 41.0 295.8 41.1 300.0 41.0C304.2 40.9 308.3 40.9 312.0 41.1C315.7 41.3 319.0 41.8 322.0 42.2C325.0 42.7 327.3 43.2 330.0 43.8C332.7 44.4 335.5 45.0 338.0 45.8C340.5 46.6 343.3 47.6 345.2 48.6C347.1 49.6 347.7 50.9 349.2 51.9C350.7 52.9 352.1 53.8 354.3 54.7C356.5 55.6 359.7 56.3 362.4 57.3C365.1 58.3 368.2 59.5 370.5 60.8C372.8 62.0 374.8 63.3 376.2 64.8C377.6 66.2 378.4 68.0 378.6 69.5C378.8 71.0 378.5 72.2 377.6 73.5C376.8 74.8 375.4 76.4 373.5 77.6C371.6 78.8 369.6 79.7 366.4 80.6C363.2 81.5 358.4 82.4 354.3 83.0C350.2 83.6 346.1 83.9 342.0 84.1C337.9 84.3 334.4 84.3 330.0 84.3C325.6 84.3 322.1 84.2 315.4 84.1C308.7 84.0 303.2 83.8 290.0 83.7C276.8 83.6 249.2 83.5 236.0 83.3C222.8 83.1 219.4 83.0 211.0 82.6C202.6 82.2 192.2 81.4 185.4 81.0C178.6 80.6 174.2 80.3 170.0 80.0C165.8 79.7 164.2 79.5 160.0 79.2C155.8 78.9 149.5 78.5 144.5 78.2C139.5 77.9 134.1 77.6 130.0 77.4C125.9 77.2 123.5 77.1 120.0 77.2C116.5 77.3 112.3 77.4 108.8 77.8C105.2 78.2 101.7 79.1 98.7 79.8C95.7 80.5 93.1 81.2 90.6 82.2C88.1 83.2 85.3 84.6 83.5 85.9C81.7 87.2 81.0 88.8 79.5 89.9C78.0 91.1 76.6 91.8 74.4 92.8C72.2 93.8 69.0 94.9 66.3 96.0C63.6 97.1 60.4 98.3 58.2 99.4C56.0 100.5 54.3 101.5 53.2 102.5C52.1 103.5 51.5 104.3 51.5 105.5C51.5 106.7 52.1 108.2 53.2 109.6C54.3 110.9 56.0 112.4 58.2 113.6C60.4 114.8 63.3 115.8 66.3 116.7C69.3 117.6 72.4 118.1 76.4 118.7C80.5 119.3 83.3 119.8 90.6 120.1C97.9 120.4 106.8 120.4 120.0 120.4C133.2 120.4 157.0 120.4 170.0 120.2C183.0 120.0 189.1 120.0 198.0 119.5C206.9 119.0 215.1 118.3 223.6 117.5C232.1 116.7 240.5 115.8 249.0 114.7C257.5 113.6 268.2 111.7 274.5 110.9C280.8 110.1 282.8 110.1 287.0 110.0C291.2 109.9 296.2 110.2 300.0 110.5C303.8 110.8 306.7 111.2 310.0 111.7C313.3 112.2 316.9 113.1 320.0 113.8C323.1 114.5 325.9 115.0 328.3 115.8C330.7 116.6 332.7 117.6 334.4 118.6C336.1 119.6 337.3 120.6 338.5 121.9C339.7 123.2 340.3 124.5 341.5 126.3C342.7 128.1 344.0 130.6 345.5 132.4C347.0 134.2 349.1 135.9 350.6 137.4C352.1 138.9 353.8 140.2 354.7 141.5C355.6 142.8 356.1 143.8 356.0 145.0C355.9 146.2 355.5 147.7 354.3 149.0C353.1 150.3 350.9 151.6 348.6 152.6C346.3 153.6 343.5 154.3 340.5 155.0C337.5 155.7 334.4 156.1 330.4 156.7C326.3 157.3 321.3 157.9 316.2 158.7C311.1 159.5 306.0 160.5 300.0 161.5C294.0 162.5 286.4 163.8 280.0 164.8C273.6 165.8 273.3 165.9 261.8 167.6C250.3 169.2 228.0 172.4 211.0 174.7C194.0 177.0 171.1 180.0 160.0 181.4C148.9 182.8 151.2 182.5 144.5 183.1C137.8 183.7 126.3 184.5 120.0 185.1C113.7 185.7 110.7 186.2 106.8 186.7C102.9 187.2 99.7 187.6 96.7 188.2C93.7 188.8 90.8 189.4 88.6 190.2C86.4 191.0 84.8 191.8 83.5 192.8C82.2 193.8 81.8 195.2 80.5 196.3C79.2 197.4 77.8 198.2 75.4 199.3C73.0 200.4 69.0 201.7 66.3 202.9C63.6 204.1 61.2 205.2 59.2 206.4C57.2 207.6 55.3 208.6 54.2 209.8C53.1 211.0 52.7 212.2 52.6 213.5C52.5 214.8 52.9 216.2 53.8 217.5C54.7 218.8 56.1 220.3 58.2 221.6C60.3 222.8 63.3 224.1 66.3 225.0C69.3 225.9 72.4 226.5 76.4 227.0C80.5 227.5 81.7 227.8 90.6 228.0C99.5 228.2 116.8 228.0 130.0 228.0C143.2 228.0 156.7 228.0 170.0 228.0C183.3 228.0 196.8 227.9 210.0 227.8C223.2 227.7 238.2 227.7 249.0 227.3C259.8 226.9 267.7 225.9 274.5 225.3C281.3 224.7 285.3 224.3 290.0 223.8C294.7 223.3 297.6 222.8 302.7 222.4C307.8 222.0 315.1 221.5 320.5 221.3C325.9 221.1 330.9 221.0 335.0 221.1C339.1 221.2 341.6 221.3 345.0 221.7C348.4 222.0 351.8 222.5 355.2 223.2C358.6 223.9 362.5 224.9 365.4 225.8C368.3 226.7 370.4 227.4 372.4 228.6C374.4 229.8 375.5 231.4 377.5 232.7C379.5 234.0 381.9 235.0 384.6 236.3C387.3 237.6 391.0 239.0 393.7 240.4C396.4 241.8 399.1 243.4 400.8 244.8C402.5 246.2 403.5 247.6 403.8 248.9C404.1 250.2 403.8 251.4 402.8 252.9C401.8 254.4 400.0 256.3 397.8 257.6C395.6 258.9 393.1 259.8 389.7 260.6C386.3 261.4 382.2 262.1 377.5 262.6C372.8 263.1 368.4 263.4 361.3 263.6C354.2 263.8 346.9 263.9 335.0 264.0C323.1 264.1 312.5 264.0 290.0 264.0C267.5 264.0 233.3 264.0 200.0 264.0C166.7 264.0 108.3 264.0 90.0 264.0" stroke="#ff0a0a" stroke-width="2.1"/>
</g>
<path d="M40.2 278.0v-3.8M40.2 12.5v3.8M65.2 278.0v-3.8M65.2 12.5v3.8M90.2 278.0v-7.8M90.2 12.5v7.8M115.2 278.0v-3.8M115.2 12.5v3.8M140.2 278.0v-3.8M140.2 12.5v3.8M165.2 278.0v-3.8M165.2 12.5v3.8M190.2 278.0v-7.8M190.2 12.5v7.8M215.2 278.0v-3.8M215.2 12.5v3.8M240.2 278.0v-3.8M240.2 12.5v3.8M265.2 278.0v-3.8M265.2 12.5v3.8M290.2 278.0v-7.8M290.2 12.5v7.8M315.2 278.0v-3.8M315.2 12.5v3.8M340.2 278.0v-3.8M340.2 12.5v3.8M365.2 278.0v-3.8M365.2 12.5v3.8M390.2 278.0v-7.8M390.2 12.5v7.8M415.2 278.0v-3.8M415.2 12.5v3.8M440.2 278.0v-3.8M440.2 12.5v3.8M465.2 278.0v-3.8M465.2 12.5v3.8M490.2 278.0v-7.8M490.2 12.5v7.8M515.2 278.0v-3.8M515.2 12.5v3.8M540.2 278.0v-3.8M540.2 12.5v3.8M40.1 278.2h3.8M540.4 278.2h-3.8M40.1 271.0h3.8M540.4 271.0h-3.8M40.1 263.8h7.8M540.4 263.8h-7.8M40.1 256.6h3.8M540.4 256.6h-3.8M40.1 249.4h3.8M540.4 249.4h-3.8M40.1 242.3h3.8M540.4 242.3h-3.8M40.1 235.1h3.8M540.4 235.1h-3.8M40.1 227.9h7.8M540.4 227.9h-7.8M40.1 220.7h3.8M540.4 220.7h-3.8M40.1 213.6h3.8M540.4 213.6h-3.8M40.1 206.4h3.8M540.4 206.4h-3.8M40.1 199.2h3.8M540.4 199.2h-3.8M40.1 192.0h7.8M540.4 192.0h-7.8M40.1 184.8h3.8M540.4 184.8h-3.8M40.1 177.7h3.8M540.4 177.7h-3.8M40.1 170.5h3.8M540.4 170.5h-3.8M40.1 163.3h3.8M540.4 163.3h-3.8M40.1 156.1h7.8M540.4 156.1h-7.8M40.1 149.0h3.8M540.4 149.0h-3.8M40.1 141.8h3.8M540.4 141.8h-3.8M40.1 134.6h3.8M540.4 134.6h-3.8M40.1 127.4h3.8M540.4 127.4h-3.8M40.1 120.2h7.8M540.4 120.2h-7.8M40.1 113.1h3.8M540.4 113.1h-3.8M40.1 105.9h3.8M540.4 105.9h-3.8M40.1 98.7h3.8M540.4 98.7h-3.8M40.1 91.5h3.8M540.4 91.5h-3.8M40.1 84.4h7.8M540.4 84.4h-7.8M40.1 77.2h3.8M540.4 77.2h-3.8M40.1 70.0h3.8M540.4 70.0h-3.8M40.1 62.8h3.8M540.4 62.8h-3.8M40.1 55.7h3.8M540.4 55.7h-3.8M40.1 48.5h7.8M540.4 48.5h-7.8M40.1 41.3h3.8M540.4 41.3h-3.8M40.1 34.1h3.8M540.4 34.1h-3.8M40.1 26.9h3.8M540.4 26.9h-3.8M40.1 19.8h3.8M540.4 19.8h-3.8M40.1 12.6h7.8M540.4 12.6h-7.8" stroke="#222" stroke-width="1" fill="none"/>
<rect x="40.1" y="12.5" width="500.29999999999995" height="265.5" fill="none" stroke="#222" stroke-width="1"/>
<g><text x="90.2" y="294.3" text-anchor="middle">0</text><text x="190.2" y="294.3" text-anchor="middle">20</text><text x="290.2" y="294.3" text-anchor="middle">40</text><text x="390.2" y="294.3" text-anchor="middle">60</text><text x="490.2" y="294.3" text-anchor="middle">80</text></g>
<g><text x="36.3" y="268.4" text-anchor="end">0</text><text x="36.3" y="232.5" text-anchor="end">25</text><text x="36.3" y="196.6" text-anchor="end">50</text><text x="36.3" y="160.7" text-anchor="end">75</text><text x="36.3" y="124.8" text-anchor="end">100</text><text x="36.3" y="89.0" text-anchor="end">125</text><text x="36.3" y="53.1" text-anchor="end">150</text><text x="36.3" y="17.2" text-anchor="end">175</text></g>
<text x="278" y="313.8"><tspan>x/</tspan><tspan font-size="11.5px" dx="3.5" dy="-0.6">m</tspan></text>
<text transform="translate(12.6,159.3) rotate(-90)"><tspan>y/</tspan><tspan font-size="11.5px" dx="3.5" dy="-0.6">m</tspan></text>
<rect x="406.8" y="27.1" width="118.6" height="76.3" fill="#fff" stroke="#222" stroke-width="1"/>
<path d="M422.7 42.8h19.4" stroke="#ff0a0a" stroke-width="2.1"/>
<path d="M431 56.8l2.7 2.7m0 -2.7l-2.7 2.7" stroke="#3582c4" stroke-width="1.1" fill="none"/>
<path d="M422.7 73.2h19.4" stroke="#118a11" stroke-width="2"/>
<path d="M422.7 88.4h19.4" stroke="#ff7f0e" stroke-width="2"/>
<text x="457.6" y="46.5">Real-pos</text>
<text x="457.6" y="62">GPS-pos</text>
<text x="457.6" y="77.6">DVL-pos</text>
<text x="457.6" y="93">PF-pos</text>
</svg>
</body></html>
